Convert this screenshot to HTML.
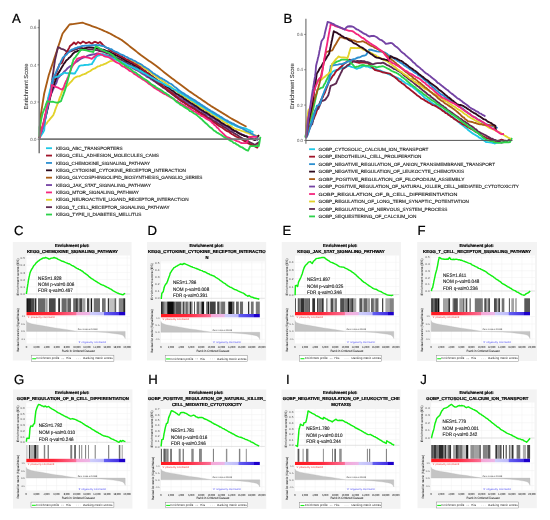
<!DOCTYPE html><html><head><meta charset="utf-8"><style>html,body{margin:0;padding:0;background:#fff;}svg{display:block;will-change:transform;}text{font-family:"Liberation Sans", sans-serif;text-rendering:geometricPrecision;}</style></head><body>
<svg width="550" height="520" viewBox="0 0 550 520">
<rect width="550" height="520" fill="#fff"/>
<defs><filter id="bcblur" x="-0.02" y="0" width="1.04" height="1" filterUnits="objectBoundingBox"><feGaussianBlur stdDeviation="0.35 0"/></filter></defs>
<text transform="translate(12,23.1) scale(0.1)" font-size="132" fill="#000" stroke="#000" stroke-width="2.5">A</text>
<text transform="translate(27.6,86.5) rotate(-90) scale(0.1)" font-size="58" fill="#333" text-anchor="middle" textLength="458" lengthAdjust="spacingAndGlyphs" stroke="#333" stroke-width="0.8">Enrichment Score</text>
<line x1="37.7" y1="139.2" x2="39.2" y2="139.2" stroke="#333" stroke-width="0.8"/>
<text transform="translate(36.3,140.9) scale(0.1)" font-size="46" fill="#555" text-anchor="end" textLength="60" lengthAdjust="spacingAndGlyphs">0.0</text>
<line x1="37.7" y1="102.03" x2="39.2" y2="102.03" stroke="#333" stroke-width="0.8"/>
<text transform="translate(36.3,103.73) scale(0.1)" font-size="46" fill="#555" text-anchor="end" textLength="60" lengthAdjust="spacingAndGlyphs">0.2</text>
<line x1="37.7" y1="64.86" x2="39.2" y2="64.86" stroke="#333" stroke-width="0.8"/>
<text transform="translate(36.3,66.56) scale(0.1)" font-size="46" fill="#555" text-anchor="end" textLength="60" lengthAdjust="spacingAndGlyphs">0.4</text>
<line x1="37.7" y1="27.69" x2="39.2" y2="27.69" stroke="#333" stroke-width="0.8"/>
<text transform="translate(36.3,29.39) scale(0.1)" font-size="46" fill="#555" text-anchor="end" textLength="60" lengthAdjust="spacingAndGlyphs">0.6</text>
<polyline points="39.5,138 39.6,136.37 39.7,134.73 39.8,133.1 39.9,131.47 40,129.83 40.1,128.2 40.2,126.57 40.3,124.93 40.4,123.3 40.5,121.67 40.6,120.03 40.7,118.4 40.8,116.77 40.9,115.13 41,113.5 41.27,111.83 41.53,110.17 41.8,108.5 42.07,106.83 42.33,105.17 42.6,103.5 42.87,101.83 43.13,100.17 43.4,98.5 43.67,96.83 43.93,95.17 44.2,93.5 44.62,91.82 45.04,90.14 45.45,88.45 45.87,86.77 46.29,85.09 46.71,83.41 47.13,81.73 47.55,80.05 47.96,78.36 48.38,76.68 48.8,75 49.31,73.47 49.82,71.93 50.33,70.4 50.84,68.87 51.36,67.33 51.87,65.8 52.38,64.27 52.89,62.73 53.4,61.2 53.91,59.66 54.42,58.12 54.93,56.58 55.44,55.04 55.96,53.51 56.47,51.97 56.98,50.43 57.49,48.89 58,47.35 58.51,45.81 59.02,44.27 59.53,42.73 60.04,41.19 60.56,39.66 61.07,38.12 61.58,36.58 62.09,35.04 62.6,33.5 63.59,32.21 64.57,30.93 65.56,29.64 66.54,28.36 67.53,27.07 68.51,25.79 69.5,24.5 71.14,24.27 72.78,24.05 74.41,23.82 76.05,23.6 77.69,23.38 79.32,23.15 80.96,22.93 82.6,22.7 84.14,23.25 85.67,23.81 87.21,24.36 88.75,24.92 90.28,25.47 91.82,26.03 93.35,26.58 94.89,27.14 96.43,27.69 97.96,28.25 99.5,28.8 101,29.47 102.5,30.14 104,30.81 105.5,31.49 107,32.16 108.5,32.83 110,33.5 111.54,34.36 113.08,35.23 114.61,36.09 116.15,36.95 117.69,37.81 119.22,38.67 120.76,39.54 122.3,40.4 123.62,41.44 124.94,42.49 126.26,43.53 127.59,44.57 128.91,45.61 130.23,46.66 131.55,47.7 132.87,48.74 134.19,49.79 135.51,50.83 136.84,51.87 138.16,52.91 139.48,53.96 140.8,55 142.18,55.98 143.56,56.96 144.95,57.95 146.33,58.93 147.71,59.91 149.09,60.89 150.47,61.87 151.85,62.85 153.24,63.84 154.62,64.82 156,65.8 157.29,66.82 158.58,67.83 159.88,68.85 161.17,69.87 162.46,70.88 163.75,71.9 165.04,72.92 166.33,73.93 167.62,74.95 168.92,75.97 170.21,76.98 171.5,78 172.92,79.05 174.33,80.1 175.75,81.15 177.17,82.2 178.58,83.25 180,84.3 181.33,85.29 182.66,86.27 183.99,87.26 185.31,88.24 186.64,89.23 187.97,90.21 189.3,91.2 190.66,92.12 192.01,93.05 193.37,93.98 194.73,94.9 196.08,95.83 197.44,96.75 198.79,97.67 200.15,98.6 201.51,99.53 202.86,100.45 204.22,101.38 205.57,102.3 206.93,103.22 208.29,104.15 209.64,105.08 211,106 212.43,106.88 213.86,107.76 215.29,108.64 216.71,109.51 218.14,110.39 219.57,111.27 221,112.15 222.43,113.03 223.86,113.91 225.29,114.79 226.71,115.66 228.14,116.54 229.57,117.42 231,118.3 232.41,119.07 233.82,119.85 235.23,120.62 236.64,121.39 238.05,122.16 239.45,122.94 240.86,123.71 242.27,124.48 243.68,125.25 245.09,126.03 246.5,126.8" fill="none" stroke="#a95c16" stroke-width="1.85" stroke-linejoin="round"/>
<polyline points="39.5,138 39.9,135.58 40.3,133.5 41.2,132.25 42.1,130.16 43,128.98 43.9,127.03 44.8,125.59 45.7,124.2 46.8,123.21 47.9,121.39 49,120.35 50.1,118.92 51.2,117.6 52.3,116.31 53.4,115 53.98,113.27 54.55,112.14 55.12,110.12 55.7,108.68 56.27,107.01 56.85,105.63 57.42,104.18 58,102.7 58.58,101.42 59.15,99.55 59.73,97.84 60.3,96.4 60.88,95.33 61.45,93.2 62.02,92.01 62.6,90.4 63.84,89.08 65.08,88.02 66.32,86.58 67.56,85.56 68.8,84.2 69.88,82.96 70.96,81.82 72.04,80.74 73.12,79.29 74.2,78 75.87,77.14 77.53,76.45 79.2,76.39 80.87,75.46 82.53,74.64 84.2,74.2 85.74,73.62 87.28,72.53 88.81,71.76 90.35,70.99 91.89,69.75 93.42,68.93 94.96,68.4 96.5,67.3 98.03,66.41 99.56,66.15 101.09,65.07 102.61,64.79 104.14,64.14 105.67,63.65 107.2,62.7 110,61.2 112,60.89 114,60.14 116,59.6 117.79,59.41 119.57,59.38 121.36,59.62 123.14,59.61 124.93,59.33 126.71,59.86 128.5,59.6 130.04,60.38 131.57,61.28 133.11,61.75 134.65,62.54 136.19,63.16 137.73,64.15 139.26,64.88 140.8,65.8 142.18,66.72 143.56,67.67 144.95,68.93 146.33,69.94 147.71,70.46 149.09,71.57 150.47,72.4 151.85,73.69 153.24,74.86 154.62,75.34 156,76.5 157.41,77.65 158.82,78.34 160.23,79.13 161.64,80.6 163.05,81.31 164.45,82.18 165.86,83.33 167.27,84.18 168.68,85.28 170.09,86.28 171.5,87.3 172.92,88.41 174.33,89.69 175.75,90.66 177.17,91.71 178.58,92.87 180,94.3 181.41,94.93 182.82,96.07 184.23,96.84 185.64,98.01 187.05,98.69 188.45,99.7 189.86,100.75 191.27,101.04 192.68,101.89 194.09,102.84 195.5,103.88 196.91,104.87 198.32,105.86 199.73,106.49 201.14,107.76 202.55,108.02 203.95,109.43 205.36,109.91 206.77,111.21 208.18,111.55 209.59,113.02 211,113.6 212.35,114.63 213.71,115.64 215.06,116.25 216.41,116.85 217.76,118.22 219.12,118.75 220.47,119.39 221.82,120.59 223.18,121.38 224.53,122.23 225.88,122.89 227.24,123.73 228.59,124.89 229.94,125.68 231.29,126.33 232.65,127.4 234,128.3 235.55,128.98 237.1,129.52 238.65,129.9 240.2,130.39 241.75,130.91 243.3,131.36 244.85,131.89 246.4,132.59 247.95,132.91 249.5,133.7 251.05,134.36 252.6,134.87 254.15,135.32 255.7,135.46 257.25,136.2 258.8,136.8" fill="none" stroke="#e2d22a" stroke-width="1.85" stroke-linejoin="round"/>
<polyline points="39.5,138 40.06,136.35 40.62,134.67 41.19,132.89 41.75,131.73 42.31,129.56 42.88,128.25 43.44,126.88 44,125 44.3,123.14 44.6,121.86 44.9,120.31 45.2,118.36 45.5,116.99 45.8,115.61 46.1,113.86 46.4,112.44 46.7,110.49 47,108.96 47.3,107.29 47.6,105.95 47.9,104.63 48.2,102.83 48.5,101.36 48.8,99.6 49.46,97.98 50.11,96.67 50.77,94.72 51.43,93.29 52.09,92 52.74,90.49 53.4,88.8 54.17,87.22 54.95,85.49 55.73,84.08 56.5,82.7 57,80.95 57.5,79.43 58,78 59.2,77.01 60.4,75.43 61.6,74.68 62.8,73.49 64,71.77 65.2,70.79 66.4,69.67 67.6,68.18 68.8,67.3 70.14,66.29 71.47,65.64 72.81,64.16 74.15,63.51 75.49,62.25 76.83,61.58 78.16,60.82 79.5,59.6 81.04,58.75 82.59,57.97 84.13,57.36 85.67,57 87.21,56.01 88.76,55.39 90.3,55 92.37,54.5 94.43,54.27 96.5,53.5 98.19,53.76 99.88,54.06 101.56,54.53 103.25,54.49 104.94,55.11 106.62,55.17 108.31,55.76 110,56 111.43,57.06 112.86,57.24 114.29,58.32 115.71,59.12 117.14,59.59 118.57,60.42 120,61.65 121.43,62.41 122.86,62.61 124.29,63.75 125.71,64.67 127.14,64.97 128.57,65.98 130,66.37 131.43,67.34 132.86,68.3 134.29,69.01 135.71,69.89 137.14,70.21 138.57,71.14 140,72 141.38,73.13 142.76,73.85 144.14,74.66 145.52,75.52 146.9,76.79 148.28,77.43 149.66,77.97 151.03,79.36 152.41,79.96 153.79,80.92 155.17,81.68 156.55,82.72 157.93,83.54 159.31,84.29 160.69,85.53 162.07,86.09 163.45,87.42 164.83,87.83 166.21,89.21 167.59,90.13 168.97,90.83 170.34,91.86 171.72,92.46 173.1,93.67 174.48,94.37 175.86,95.14 177.24,96.5 178.62,97.04 180,98 181.41,98.78 182.82,99.96 184.23,100.51 185.64,101.56 187.05,102.11 188.45,103.4 189.86,103.89 191.27,104.62 192.68,106.08 194.09,106.43 195.5,107.79 196.91,108.67 198.32,109.3 199.73,109.78 201.14,110.67 202.55,111.63 203.95,112.61 205.36,113.62 206.77,114.71 208.18,115.18 209.59,115.91 211,117 212.36,117.9 213.71,118.48 215.07,119.31 216.43,120.46 217.79,121.41 219.14,121.86 220.5,122.97 221.86,123.99 223.21,124.88 224.57,125.5 225.93,126.68 227.29,127.07 228.64,128.28 230,129 231.54,129.87 233.08,130.63 234.62,131.07 236.15,131.51 237.69,132.17 239.23,133.17 240.77,133.64 242.31,134.62 243.85,134.96 245.38,136.1 246.92,136.44 248.46,137 250,138 251.6,138.19 253.2,138.77 254.8,139.24 256.4,139.53 258,140" fill="none" stroke="#7443a4" stroke-width="1.85" stroke-linejoin="round"/>
<polyline points="39.5,138 39.95,136.45 40.4,134.75 40.85,133.25 41.3,131.41 41.75,130.2 42.2,128.61 42.65,126.9 43.1,124.98 43.55,123.61 44,122 44.35,120.3 44.71,118.66 45.06,117.53 45.41,115.96 45.76,113.77 46.12,112.7 46.47,110.95 46.82,109.22 47.18,107.57 47.53,106.23 47.88,104.5 48.24,103.06 48.59,101.46 48.94,99.53 49.29,98.35 49.65,96.9 50,95 50.23,93.71 50.45,91.89 50.68,89.94 50.91,88.32 51.14,86.81 51.36,85.74 51.59,83.74 51.82,82.19 52.05,80.94 52.27,78.97 52.5,77.53 52.73,75.87 52.95,74.04 53.18,72.78 53.41,71.36 53.64,69.33 53.86,67.78 54.09,66.31 54.32,64.48 54.55,63.18 54.77,61.79 55,60 55.38,58.51 55.75,56.85 56.12,55.46 56.5,53.43 56.88,52.11 57.25,50.39 57.62,48.95 58,47.3 59.54,47.72 61.09,48.82 62.63,49.06 64.17,49.77 65.71,50.85 67.26,51.62 68.8,52 70.4,51.39 72,50.8 73.6,50.12 75.2,49.57 76.8,49.22 78.4,48.37 80,48 81.6,47.96 83.2,48.37 84.8,48.39 86.4,48.9 88,49.21 89.6,49.38 91.2,49.39 92.8,49.5 94.4,49.76 96,50 97.56,50.13 99.11,51.02 100.67,51.23 102.22,51.66 103.78,51.95 105.33,52.63 106.89,53.16 108.44,53.49 110,54 111.43,55 112.86,55.63 114.29,56.12 115.71,57.06 117.14,58.07 118.57,58.58 120,59.4 121.43,59.82 122.86,60.85 124.29,61.59 125.71,62.32 127.14,63.09 128.57,63.96 130,64.69 131.43,65.42 132.86,65.98 134.29,66.91 135.71,68.01 137.14,68.42 138.57,68.94 140,70 141.29,70.65 142.58,71.96 143.87,72.62 145.16,73.61 146.45,74.59 147.74,75.78 149.03,77.09 150.32,77.73 151.61,78.68 152.9,79.64 154.19,80.65 155.48,81.58 156.77,82.73 158.06,83.8 159.35,84.64 160.65,85.43 161.94,86.55 163.23,87.68 164.52,88.17 165.81,89.19 167.1,90.4 168.39,91.41 169.68,92.35 170.97,93.28 172.26,94.4 173.55,95.15 174.84,96.33 176.13,97.39 177.42,98.02 178.71,99.26 180,100 181.41,101 182.82,101.98 184.23,102.3 185.64,103.72 187.05,104.49 188.45,105.48 189.86,106.35 191.27,106.77 192.68,107.88 194.09,108.41 195.5,109.56 196.91,110.63 198.32,111.03 199.73,111.99 201.14,112.69 202.55,113.62 203.95,114.49 205.36,115.29 206.77,116.73 208.18,117.52 209.59,118.11 211,119 212.38,120.01 213.76,120.84 215.14,121.59 216.52,122.38 217.9,123.39 219.29,124.18 220.67,124.85 222.05,125.77 223.43,126.8 224.81,127.65 226.19,128.24 227.57,129.36 228.95,130.38 230.33,131.24 231.71,131.95 233.1,132.44 234.48,133.52 235.86,134.17 237.24,135 238.62,135.99 240,137 241.5,137.77 243,138.77 244.5,139.48 246,140.06 247.5,141.12 249,141.8 250.5,142.6 252,143.25 253.5,144.16 255,145 256.33,143.9 257.67,143.14 259,142" fill="none" stroke="#5e2a52" stroke-width="1.85" stroke-linejoin="round"/>
<polyline points="39.5,138 40,136.33 40.5,134.77 41,133.36 41.5,131.43 42,129.82 42.5,128.24 43,126.34 43.5,124.92 44,123.36 44.5,121.82 45,120 45.37,118.16 45.74,116.72 46.11,115 46.47,113.88 46.84,112.23 47.21,110.23 47.58,109.26 47.95,107.67 48.32,105.89 48.68,104.28 49.05,102.41 49.42,100.74 49.79,99.49 50.16,97.61 50.53,96.12 50.89,94.57 51.26,92.86 51.63,91.56 52,90 52.6,88.31 53.2,86.92 53.8,85.06 54.4,83.49 55,81.75 55.6,80.2 56.2,78.42 56.8,76.66 57.4,75.47 58,73.5 58.86,72.45 59.71,70.98 60.57,69.53 61.42,67.92 62.28,66.49 63.13,65.16 63.99,63.66 64.84,62.74 65.7,61.2 66.85,59.99 68,59.12 69.15,57.68 70.3,56.89 71.45,55.67 72.6,53.98 73.75,52.96 74.9,52 76.44,51.68 77.98,50.81 79.51,50.54 81.05,49.58 82.59,48.79 84.12,48.56 85.66,48.07 87.2,47.3 89.06,47.29 90.92,47.32 92.78,47.61 94.64,48.16 96.5,48 98.19,48.67 99.88,48.76 101.56,49.34 103.25,49.74 104.94,50.22 106.62,51.19 108.31,51.29 110,52 111.43,52.8 112.86,53.49 114.29,54.09 115.71,55.2 117.14,55.57 118.57,56.66 120,57.09 121.43,58.04 122.86,58.67 124.29,59.47 125.71,60.68 127.14,61.34 128.57,61.78 130,62.91 131.43,63.24 132.86,64.12 134.29,65.18 135.71,65.81 137.14,66.22 138.57,67.55 140,68 141.33,68.75 142.67,69.71 144,70.97 145.33,71.62 146.67,72.54 148,73.33 149.33,74.27 150.67,75.52 152,76.24 153.33,77.4 154.67,78.18 156,79.17 157.33,80.43 158.67,81.06 160,82.05 161.33,83.17 162.67,83.66 164,84.58 165.33,85.99 166.67,86.87 168,87.44 169.33,88.33 170.67,89.62 172,90.68 173.33,91.14 174.67,92.55 176,93.44 177.33,94.2 178.67,95.02 180,96 181.35,96.62 182.7,97.44 184.04,98.9 185.39,99.31 186.74,100.48 188.09,101.06 189.43,102.29 190.78,103.02 192.13,103.69 193.48,104.49 194.83,105.71 196.17,106.16 197.52,107.13 198.87,108.21 200.22,109.27 201.57,109.99 202.91,110.64 204.26,111.92 205.61,112.33 206.96,113.08 208.3,114.11 209.65,115.1 211,116 212.38,116.58 213.76,117.51 215.14,118.49 216.52,119.47 217.9,120.05 219.29,121.05 220.67,122.25 222.05,123.16 223.43,123.81 224.81,124.69 226.19,125.48 227.57,126.06 228.95,126.85 230.33,127.69 231.71,129.12 233.1,129.84 234.48,130.87 235.86,131.12 237.24,132.37 238.62,133.13 240,134 241.5,134.75 243,135.08 244.5,136.12 246,136.13 247.5,137.03 249,137.75 250.5,138.46 252,138.95 253.5,139.53 255,140 256,138.94 257,137.77 258,136.16 259,135" fill="none" stroke="#2e0a1e" stroke-width="1.85" stroke-linejoin="round"/>
<polyline points="39.5,138 39.96,136.32 40.42,134.77 40.88,133.11 41.33,131.1 41.79,129.35 42.25,127.92 42.71,126.19 43.17,124.87 43.62,123.12 44.08,121.4 44.54,119.7 45,118 45.33,116.53 45.67,114.63 46,113.25 46.33,111.5 46.67,110.4 47,108.29 47.33,107.2 47.67,105.16 48,103.98 48.33,102.18 48.67,100.65 49,99.36 49.33,97.26 49.67,95.72 50,94.69 50.33,92.86 50.67,91.02 51,90.03 51.33,88.43 51.67,86.32 52,85 52.58,83.35 53.15,81.57 53.73,80.08 54.31,78.68 54.88,76.78 55.46,75.53 56.04,73.51 56.62,71.99 57.19,70.8 57.77,68.94 58.35,67.35 58.92,65.86 59.5,64.2 62,63 62.6,61.39 63.2,59.73 63.8,57.9 64.4,56.74 65,55 66,53.63 67,51.97 68,50 69,48.1 70,46 72,44.5 74,42.5 76,44.2 78,42 80.5,43.5 81.75,42.41 83,41.5 84.5,42.26 86,43.2 87.5,42.72 89,42 90.5,42.91 92,43.6 93.5,42.45 95,41.8 96.5,42.33 98,43.2 100,42 101.33,43.25 102.67,44.67 104,46 105.5,47.2 107,48 108.5,48.7 110,50 111.43,51.02 112.86,51.57 114.29,52.44 115.71,53.06 117.14,54 118.57,54.79 120,55.84 121.43,56.22 122.86,57.32 124.29,57.89 125.71,59.03 127.14,59.42 128.57,60.38 130,61.23 131.43,62.23 132.86,62.67 134.29,63.74 135.71,64.39 137.14,65.24 138.57,66.18 140,67 141.25,68.32 142.5,69.03 143.75,70.36 145,70.87 146.25,72.38 147.5,73.04 148.75,73.95 150,75.33 151.25,76.46 152.5,76.9 153.75,78.09 155,79.44 156.25,80.18 157.5,81.14 158.75,82.01 160,83.06 161.25,84.45 162.5,85.7 163.75,86.73 165,87.44 166.25,88.15 167.5,89.37 168.75,90.69 170,91.74 171.25,92.64 172.5,93.4 173.75,94.61 175,95.6 176.25,96.72 177.5,97.5 178.75,98.96 180,99.7 181.36,100.86 182.73,101.3 184.09,102.29 185.46,103.57 186.82,104.1 188.19,105.44 189.55,106.07 190.92,107.1 192.28,108.01 193.65,108.61 195.01,109.56 196.38,110.45 197.74,111.63 199.11,112.55 200.47,113.1 201.84,114.49 203.2,115.1 204.56,115.89 205.93,116.93 207.29,118.18 208.66,118.82 210.02,119.77 211.39,120.87 212.75,121.81 214.12,122.59 215.48,123.28 216.85,124.29 218.21,125.4 219.58,126.24 220.94,127.02 222.31,127.78 223.67,128.7 225.04,129.84 226.4,130.6 227.83,131.48 229.26,131.97 230.69,133.25 232.12,134.21 233.55,134.98 234.98,135.89 236.42,136.73 237.85,137.33 239.28,138.33 240.71,138.91 242.14,139.57 243.57,140.57 245,141.5 246.54,142.14 248.07,143.3 249.61,143.91 251.15,144.58 252.69,145.39 254.23,145.83 255.76,146.86 257.3,147.6 257.8,146.2 258.3,144.47 258.8,143" fill="none" stroke="#a0142a" stroke-width="1.85" stroke-linejoin="round"/>
<polyline points="39.5,138 40.44,136.33 41.38,135.08 42.32,133.56 43.26,132.14 44.2,130.4 44.36,128.32 44.52,126.47 44.68,124.53 44.84,122.7 45,121 45.21,119.51 45.43,117.48 45.64,116.09 45.86,114.25 46.07,112.65 46.29,111.1 46.5,109.72 46.71,107.93 46.93,105.9 47.14,104.43 47.36,102.7 47.57,101.52 47.79,99.84 48,98 48.45,96.53 48.9,94.88 49.35,93.16 49.8,91.62 50.25,89.85 50.7,87.84 51.15,86.56 51.6,84.66 52.05,83.16 52.5,81.37 52.95,79.62 53.4,78 54.93,77.41 56.47,76.96 58,76.5 59.55,75.43 61.1,74.36 62.65,73.85 64.2,72.7 65.98,73.02 67.77,73.28 69.55,73.22 71.33,73.27 73.12,73.53 74.9,73.5 75.82,71.73 76.74,70.53 77.66,68.84 78.58,67.13 79.5,65.8 81.26,65.38 83.01,65.36 84.77,64.96 86.53,64.86 88.29,64.72 90.04,64.36 91.8,64.2 92.74,62.42 93.68,61.11 94.62,59.41 95.56,57.87 96.5,56.5 98.03,55.73 99.55,55.26 101.07,54.5 102.6,54.2 104.45,55 106.3,55.89 108.15,56.23 110,57 111.5,57.79 113,58.58 114.5,58.66 116,59.37 117.5,60.45 119,61.12 120.5,61.64 122,61.98 123.5,62.79 125,63.5 126.58,64.49 128.16,65.25 129.74,65.94 131.32,66.31 132.9,67.48 134.48,67.92 136.06,68.89 137.64,69.27 139.22,70.55 140.8,71 142.18,71.88 143.56,72.78 144.95,73.27 146.33,74.35 147.71,75.14 149.09,75.97 150.47,76.64 151.85,77.69 153.24,78.26 154.62,79.05 156,80 157.55,80.59 159.1,81.72 160.65,82.15 162.2,83.02 163.75,83.72 165.3,84.89 166.85,85.64 168.4,86.43 169.95,86.9 171.5,88 172.92,88.76 174.33,89.5 175.75,90.14 177.17,90.88 178.58,92.32 180,92.8 181.41,93.43 182.82,94.42 184.23,95.27 185.64,96.35 187.05,96.89 188.45,98.02 189.86,98.82 191.27,100 192.68,100.34 194.09,101.42 195.5,102.4 196.91,103.57 198.32,104.16 199.73,105 201.14,106 202.55,106.63 203.95,107.34 205.36,108.51 206.77,109.64 208.18,110.41 209.59,110.97 211,112 212.4,112.97 213.8,113.93 215.2,114.41 216.6,115.47 218,116.18 219.4,116.96 220.8,117.85 222.2,118.65 223.6,119.6 225,120.25 226.4,121.4 227.93,122.1 229.47,122.67 231,123.87 232.53,124.53 234.07,124.92 235.6,126 237.17,126.56 238.73,126.57 240.3,127.14 241.87,127.57 243.43,127.81 245,128.3 246.68,128.95 248.36,129.82 250.04,130.41 251.72,131.65 253.4,132.2" fill="none" stroke="#1ec8e6" stroke-width="1.85" stroke-linejoin="round"/>
<polyline points="39.5,137 40.06,135.25 40.62,134.13 41.19,132.6 41.75,131.28 42.31,129.35 42.88,127.84 43.44,126.65 44,125 44.33,123.43 44.67,121.54 45,120.12 45.33,118.27 45.67,116.84 46,114.76 46.33,113.16 46.67,111.92 47,109.91 47.33,108.18 47.67,106.86 48,105 48.32,103.5 48.64,101.6 48.95,100.27 49.27,98.75 49.59,96.84 49.91,95.57 50.22,93.64 50.54,92.19 50.86,90.44 51.18,88.93 51.49,87.84 51.81,85.88 52.13,84.67 52.45,82.73 52.76,81.25 53.08,79.83 53.4,78 54.11,76.58 54.82,74.67 55.52,73.44 56.23,71.93 56.94,70.1 57.65,68.51 58.35,67.47 59.06,65.7 59.77,63.96 60.48,62.59 61.18,60.9 61.89,59.73 62.6,58 63.91,56.8 65.23,55.35 66.54,54.6 67.86,52.94 69.17,51.86 70.49,50.5 71.8,49.6 73.34,49.21 74.89,48.27 76.43,47.99 77.97,47.17 79.51,46.87 81.06,46.46 82.6,45.8 84.29,45.74 85.98,45.61 87.67,45.55 89.36,45.44 91.05,45.46 92.74,45.06 94.43,45.22 96.12,44.99 97.81,45.31 99.5,45 101.25,45.91 103,45.99 104.75,46.67 106.5,47.66 108.25,48.21 110,48.8 111.54,49.26 113.08,50.47 114.62,51.39 116.16,51.83 117.7,52.55 119.24,53.46 120.78,54.47 122.32,54.81 123.86,55.6 125.4,56.5 126.94,57.07 128.48,58.12 130.02,58.79 131.56,59.42 133.1,60.28 134.64,60.82 136.18,61.77 137.72,62.97 139.26,63.49 140.8,64.2 142.18,65.04 143.56,66.44 144.95,67.05 146.33,67.97 147.71,68.81 149.09,69.86 150.47,70.88 151.85,71.88 153.24,73.28 154.62,73.87 156,75 157.41,75.68 158.82,76.74 160.23,77.78 161.64,78.21 163.05,79.35 164.45,79.93 165.86,80.89 167.27,81.75 168.68,82.81 170.09,83.53 171.5,84.2 172.92,85.34 174.33,86.69 175.75,87.51 177.17,88.66 178.58,90.16 180,91 181.35,91.9 182.7,92.91 184.04,93.49 185.39,94.74 186.74,95.42 188.09,96.06 189.43,97.36 190.78,97.94 192.13,98.72 193.48,99.54 194.83,100.31 196.17,101.24 197.52,102.43 198.87,102.94 200.22,103.89 201.57,104.88 202.91,105.81 204.26,106.58 205.61,107.7 206.96,108.24 208.3,109.18 209.65,110.08 211,111 212.5,111.66 214,112.62 215.5,113.47 217,114.74 218.5,115.27 220,116.51 221.5,117.12 223,118.29 224.5,119.2 226,120 227.46,120.68 228.92,121.82 230.38,122.41 231.85,123.11 233.31,123.56 234.77,124.56 236.23,125.23 237.69,126.13 239.15,127.2 240.62,127.93 242.08,128.18 243.54,129.35 245,130 246.57,131.14 248.14,131.74 249.71,132.31 251.29,133.66 252.86,134.24 254.43,135.45 256,136 257,138.24 258,140" fill="none" stroke="#2c8fd0" stroke-width="1.85" stroke-linejoin="round"/>
<polyline points="39.5,138 39.93,136.63 40.35,134.34 40.78,133.13 41.21,131.09 41.64,129.95 42.06,127.65 42.49,126.53 42.92,124.73 43.35,123.17 43.77,121.59 44.2,119.6 44.58,117.71 44.95,116.05 45.33,114.56 45.7,112.56 46.08,110.82 46.45,109.08 46.83,107.75 47.2,105.8 47.68,104.5 48.15,102.92 48.62,101.01 49.1,99.92 49.58,98.12 50.05,96.4 50.52,95.01 51,93.5 51.16,91.75 51.32,89.83 51.48,88.44 51.64,86.61 51.8,85 53.34,85.7 54.89,86.59 56.43,87.06 57.97,87.57 59.51,88.52 61.06,89.26 62.6,89.6 63.29,87.97 63.98,86.64 64.67,84.43 65.36,82.88 66.04,81.28 66.73,80.15 67.42,78.37 68.11,76.76 68.8,75 69.4,73.32 70,71.92 70.6,70.63 71.2,68.58 71.8,67.3 72.7,65.64 73.6,64.18 74.5,63.03 75.4,61.85 76.3,60.25 77.2,58.8 78.95,58.16 80.7,57.65 82.45,56.87 84.2,56.5 86.1,57.36 88,57.56 89.9,58.06 91.8,58.8 93.04,57.62 94.28,56.89 95.52,55.5 96.76,54.82 98,53.5 99.5,53.96 101,54.59 102.5,54.91 104,56.01 105.5,56.5 107,56.86 108.5,57.19 110,58 111.42,58.9 112.83,59.72 114.25,60.92 115.67,61.87 117.08,62.65 118.5,63.26 119.92,64.01 121.33,65.45 122.75,66.38 124.17,66.78 125.58,67.9 127,68.8 128.38,69.71 129.76,70.94 131.14,71.27 132.52,72.2 133.9,73.62 135.28,74.36 136.66,75.22 138.04,76.34 139.42,77.14 140.8,78 142.18,79.1 143.56,79.81 144.95,80.68 146.33,81.61 147.71,82.8 149.09,83.99 150.47,84.8 151.85,85.76 153.24,86.91 154.62,87.95 156,88.8 157.41,89.68 158.82,90.33 160.24,91.48 161.65,92.29 163.06,93.17 164.47,93.99 165.88,94.25 167.29,95.5 168.71,96.11 170.12,96.96 171.53,97.87 172.94,98.45 174.35,99.35 175.76,100.64 177.18,101.04 178.59,102.24 180,102.8 181.41,103.76 182.82,104.37 184.23,105.22 185.64,106.25 187.05,107.16 188.45,107.77 189.86,108.44 191.27,109.35 192.68,110.64 194.09,111.4 195.5,111.85 196.91,113.16 198.32,113.84 199.73,114.53 201.14,115.73 202.55,116.09 203.95,116.92 205.36,117.92 206.77,119.02 208.18,119.74 209.59,120.54 211,121.4 212.18,122.84 213.37,123.7 214.55,125.14 215.74,125.82 216.92,127.5 218.11,128.29 219.29,129.79 220.48,131.09 221.66,132.16 222.85,133.3 224.03,134.46 225.22,135.78 226.4,136.8 227.94,137.34 229.48,137.87 231.02,138.7 232.56,139.29 234.1,139.65 235.64,140.54 237.18,141.12 238.72,141.54 240.26,142.51 241.8,143 244.15,143.18 246.5,143 247.25,141.35 248,140.13 248.75,138.66 249.5,136.8 251.45,136.9 253.4,136.74 255.35,136.65 257.3,136.8" fill="none" stroke="#f5267e" stroke-width="1.85" stroke-linejoin="round"/>
<polyline points="39.5,136.5 39.5,134.57 39.5,132.81 39.5,130.93 39.5,129.11 39.5,127.3 39.89,125.52 40.27,123.95 40.66,121.97 41.05,120.49 41.44,118.36 41.83,116.82 42.21,115.12 42.6,113.5 43.18,111.73 43.75,110.58 44.33,108.77 44.9,107.54 45.48,106.1 46.05,104.12 46.62,102.99 47.2,101.2 49,101.65 50.8,101.81 52.6,101.65 54.4,102.17 56.2,102.53 58,102.7 59.5,101.82 61,101.2 61.56,99.48 62.11,97.99 62.67,96.42 63.23,95.21 63.79,93.39 64.34,91.89 64.9,90.4 65.33,88.95 65.77,87.6 66.2,85.63 66.63,83.93 67.07,82.98 67.5,81.35 67.93,79.77 68.37,78.06 68.8,76.5 69.26,74.64 69.72,72.9 70.18,71.3 70.64,69.71 71.1,67.77 71.56,66.49 72.02,64.82 72.48,62.67 72.94,61.51 73.4,59.6 74.49,58.17 75.57,57.01 76.66,55.3 77.74,54.07 78.83,52.43 79.91,51.1 81,49.6 82.77,49.94 84.54,49.98 86.31,50.4 88.09,50.8 89.86,51.25 91.63,51.57 93.4,52 94.17,50.19 94.93,48.44 95.7,46.5 97.29,47.21 98.88,47.94 100.47,48.84 102.06,49.9 103.64,50.57 105.23,51.27 106.82,52.15 108.41,52.55 110,53.5 111.28,54.27 112.57,55.29 113.85,56.33 115.13,57.29 116.42,58.71 117.7,59.92 118.98,60.43 120.27,61.82 121.55,63.01 122.83,63.92 124.12,64.55 125.4,65.8 126.8,66.86 128.2,67.59 129.6,68.51 131,69.38 132.4,70.68 133.8,71.9 135.2,72.36 136.6,73.36 138,74.48 139.4,75.23 140.8,76.5 142.18,77.46 143.56,78.61 144.95,79.42 146.33,80.13 147.71,81.11 149.09,82.2 150.47,83.48 151.85,84.63 153.24,85.34 154.62,86.06 156,87.3 157.39,87.97 158.78,88.96 160.17,89.62 161.56,90.48 162.94,91.54 164.33,92.65 165.72,93.12 167.11,94.39 168.5,95 169.78,96.29 171.06,97.05 172.33,97.96 173.61,98.98 174.89,100.33 176.17,101.48 177.44,102.54 178.72,103.17 180,104.4 181.42,105.25 182.83,105.89 184.25,106.97 185.67,107.87 187.08,108.66 188.5,109.53 189.92,111.02 191.33,111.48 192.75,112.5 194.17,113.42 195.58,114.28 197,115.2 198.21,116.36 199.43,117.4 200.64,118.49 201.86,119.33 203.07,120.78 204.29,121.91 205.5,123.04 206.71,123.88 207.93,125.08 209.14,126.4 210.36,127.45 211.57,128.11 212.79,129.39 214,130.6 215.38,131.26 216.76,132.47 218.13,133.14 219.51,134 220.89,134.76 222.27,135.77 223.64,136.81 225.02,137.62 226.4,138.4 227.83,139.05 229.26,139.99 230.69,140.97 232.12,141.44 233.55,142.81 234.98,143.08 236.42,144.3 237.85,144.82 239.28,146.17 240.71,146.83 242.14,147.36 243.57,148.37 245,149.2 246.5,150.17 248,150.7 248.77,149.36 249.53,147.67 250.3,146 252,146.09 253.7,146.16 255.4,146.27 257.1,146.01 258.8,146 259.12,144.23 259.44,142.51 259.76,140.49 260.08,138.46 260.4,136.8" fill="none" stroke="#2cd24a" stroke-width="1.85" stroke-linejoin="round"/>
<line x1="39.2" y1="19.6" x2="39.2" y2="153.3" stroke="#777" stroke-width="1.5"/>
<line x1="39.2" y1="139.2" x2="260" y2="139.2" stroke="#777" stroke-width="1.8"/>
<line x1="46" y1="148.2" x2="52" y2="148.2" stroke="#1ec8e6" stroke-width="1.8"/>
<text transform="translate(56,149.9) scale(0.1)" font-size="47" fill="#111" textLength="667" lengthAdjust="spacingAndGlyphs" stroke="#111" stroke-width="1">KEGG_ABC_TRANSPORTERS</text>
<line x1="46" y1="155.57" x2="52" y2="155.57" stroke="#a0142a" stroke-width="1.8"/>
<text transform="translate(56,157.27) scale(0.1)" font-size="47" fill="#111" textLength="1030" lengthAdjust="spacingAndGlyphs" stroke="#111" stroke-width="1">KEGG_CELL_ADHESION_MOLECULES_CAMS</text>
<line x1="46" y1="162.94" x2="52" y2="162.94" stroke="#2c8fd0" stroke-width="1.8"/>
<text transform="translate(56,164.64) scale(0.1)" font-size="47" fill="#111" textLength="940" lengthAdjust="spacingAndGlyphs" stroke="#111" stroke-width="1">KEGG_CHEMOKINE_SIGNALING_PATHWAY</text>
<line x1="46" y1="170.31" x2="52" y2="170.31" stroke="#2e0a1e" stroke-width="1.8"/>
<text transform="translate(56,172.01) scale(0.1)" font-size="47" fill="#111" textLength="1300" lengthAdjust="spacingAndGlyphs" stroke="#111" stroke-width="1">KEGG_CYTOKINE_CYTOKINE_RECEPTOR_INTERACTION</text>
<line x1="46" y1="177.68" x2="52" y2="177.68" stroke="#a95c16" stroke-width="1.8"/>
<text transform="translate(56,179.38) scale(0.1)" font-size="47" fill="#111" textLength="1465" lengthAdjust="spacingAndGlyphs" stroke="#111" stroke-width="1">KEGG_GLYCOSPHINGOLIPID_BIOSYNTHESIS_GANGLIO_SERIES</text>
<line x1="46" y1="185.05" x2="52" y2="185.05" stroke="#7443a4" stroke-width="1.8"/>
<text transform="translate(56,186.75) scale(0.1)" font-size="47" fill="#111" textLength="950" lengthAdjust="spacingAndGlyphs" stroke="#111" stroke-width="1">KEGG_JAK_STAT_SIGNALING_PATHWAY</text>
<line x1="46" y1="192.42" x2="52" y2="192.42" stroke="#f5267e" stroke-width="1.8"/>
<text transform="translate(56,194.12) scale(0.1)" font-size="47" fill="#111" textLength="830" lengthAdjust="spacingAndGlyphs" stroke="#111" stroke-width="1">KEGG_MTOR_SIGNALING_PATHWAY</text>
<line x1="46" y1="199.79" x2="52" y2="199.79" stroke="#e2d22a" stroke-width="1.8"/>
<text transform="translate(56,201.49) scale(0.1)" font-size="47" fill="#111" textLength="1325" lengthAdjust="spacingAndGlyphs" stroke="#111" stroke-width="1">KEGG_NEUROACTIVE_LIGAND_RECEPTOR_INTERACTION</text>
<line x1="46" y1="207.16" x2="52" y2="207.16" stroke="#5e2a52" stroke-width="1.8"/>
<text transform="translate(56,208.86) scale(0.1)" font-size="47" fill="#111" textLength="1135" lengthAdjust="spacingAndGlyphs" stroke="#111" stroke-width="1">KEGG_T_CELL_RECEPTOR_SIGNALING_PATHWAY</text>
<line x1="46" y1="214.53" x2="52" y2="214.53" stroke="#2cd24a" stroke-width="1.8"/>
<text transform="translate(56,216.23) scale(0.1)" font-size="47" fill="#111" textLength="855" lengthAdjust="spacingAndGlyphs" stroke="#111" stroke-width="1">KEGG_TYPE_II_DIABETES_MELLITUS</text>
<text transform="translate(283.5,23.4) scale(0.1)" font-size="132" fill="#000" stroke="#000" stroke-width="2.5">B</text>
<text transform="translate(294.4,86.2) rotate(-90) scale(0.1)" font-size="58" fill="#333" text-anchor="middle" textLength="458" lengthAdjust="spacingAndGlyphs" stroke="#333" stroke-width="0.8">Enrichment Score</text>
<line x1="304.4" y1="140.4" x2="305.9" y2="140.4" stroke="#333" stroke-width="0.8"/>
<text transform="translate(303,142.1) scale(0.1)" font-size="46" fill="#555" text-anchor="end" textLength="60" lengthAdjust="spacingAndGlyphs">0.0</text>
<line x1="304.4" y1="105.07" x2="305.9" y2="105.07" stroke="#333" stroke-width="0.8"/>
<text transform="translate(303,106.77) scale(0.1)" font-size="46" fill="#555" text-anchor="end" textLength="60" lengthAdjust="spacingAndGlyphs">0.2</text>
<line x1="304.4" y1="69.74" x2="305.9" y2="69.74" stroke="#333" stroke-width="0.8"/>
<text transform="translate(303,71.44) scale(0.1)" font-size="46" fill="#555" text-anchor="end" textLength="60" lengthAdjust="spacingAndGlyphs">0.4</text>
<line x1="304.4" y1="34.41" x2="305.9" y2="34.41" stroke="#333" stroke-width="0.8"/>
<text transform="translate(303,36.11) scale(0.1)" font-size="46" fill="#555" text-anchor="end" textLength="60" lengthAdjust="spacingAndGlyphs">0.6</text>
<polyline points="306,138 306.46,136.14 306.91,134.29 307.37,132.87 307.83,130.75 308.29,129.31 308.74,127.46 309.2,125.8 309.77,123.98 310.35,122.73 310.93,120.89 311.5,119.61 312.07,117.84 312.65,116.31 313.23,114.99 313.8,113.5 314.72,112.17 315.64,110.18 316.56,108.7 317.48,107.42 318.4,105.8 319.16,104.39 319.92,102.45 320.68,100.63 321.44,99.3 322.2,97.3 322.88,95.35 323.55,94.2 324.23,92.18 324.9,90.42 325.57,88.74 326.25,87.2 326.93,85.86 327.6,84 328.08,82.2 328.56,80.85 329.04,79.29 329.52,77.52 330,76 331.1,74.03 332.2,72 332.2,72 333.74,71.08 335.28,70.44 336.82,69.89 338.36,69.56 339.9,68.8 341.45,68.25 343,67.68 344.55,67.35 346.1,66.77 347.65,66.17 349.2,65.8 350.72,66.59 352.24,67.13 353.76,67.44 355.28,68.25 356.8,68.8 358.34,68.22 359.88,67.84 361.42,67.15 362.96,66.26 364.5,65.8 366.04,66.57 367.58,66.48 369.12,67.13 370.66,67.8 372.2,67.88 373.74,68.55 375.28,68.73 376.82,69.59 378.36,70.11 379.9,70.4 381,70.8 382.55,71.5 384.09,72.35 385.64,72.64 387.18,73.54 388.73,74.13 390.27,74.78 391.82,75.35 393.36,76.25 394.91,76.98 396.45,77.33 398,78 399.41,78.99 400.82,79.48 402.23,80.77 403.64,81.62 405.05,82.72 406.45,83.5 407.86,84.03 409.27,84.98 410.68,86.04 412.09,86.51 413.5,87.7 414.73,88.76 415.96,89.65 417.19,90.69 418.42,91.74 419.65,93.27 420.88,93.94 422.11,95.1 423.34,96.27 424.57,97.66 425.8,98.5 427.22,99.18 428.64,100.37 430.06,101.38 431.48,102.55 432.9,103.45 434.32,104.43 435.74,105.01 437.16,106.05 438.58,106.96 440,108 441.36,109.25 442.73,110.29 444.09,110.78 445.45,111.79 446.82,112.83 448.18,113.83 449.55,114.99 450.91,116.06 452.27,116.85 453.64,117.68 455,119 456.32,120.03 457.63,121.08 458.95,122.29 460.27,123.62 461.58,124.54 462.9,125.51 464.22,126.66 465.53,127.78 466.85,128.46 468.17,130.09 469.48,131.1 470.8,132 472.18,133.15 473.56,134.01 474.95,134.66 476.33,135.57 477.71,136.29 479.09,137.54 480.47,138.08 481.85,139 483.24,140 484.62,140.87 486,142 487.8,142.2 489.6,142.31 491.4,142.58 493.2,142.98 495,143.5 496.67,142.74 498.33,142.41 500,142" fill="none" stroke="#1ec8e6" stroke-width="1.85" stroke-linejoin="round"/>
<polyline points="306,138 306.59,136.3 307.18,135.25 307.76,133.19 308.35,132.03 308.94,130.11 309.52,128.69 310.11,127.64 310.7,125.8 311.36,124.07 312.01,122.81 312.67,121.15 313.33,119.6 313.99,118.08 314.64,116.35 315.3,115 315.88,113.67 316.45,111.66 317.02,110.22 317.6,108.54 318.18,107.16 318.75,105.72 319.32,104.49 319.9,102.7 320.67,101.09 321.43,99.39 322.2,97.95 322.97,96.88 323.73,94.75 324.5,93.5 325.09,92.04 325.68,90.35 326.26,88.99 326.85,87.25 327.44,85.93 328.02,84.27 328.61,82.83 329.2,81.2 330.15,80.11 331.1,78.55 332.05,76.92 333,75.52 333.95,74.74 334.9,73.09 335.85,71.55 336.8,70.4 338.04,69.61 339.28,68.29 340.52,67.31 341.76,66.32 343,64.86 344.24,63.83 345.48,63.08 346.72,61.53 347.96,60.85 349.2,59.6 350.73,59.86 352.27,60.76 353.8,61.28 355.33,61.95 356.87,62.4 358.4,62.7 360.24,62.7 362.08,62.51 363.92,62.48 365.76,62.72 367.6,62.7 368.83,63.92 370.07,64.86 371.3,66.61 372.53,67.57 373.77,68.91 375,70 376.54,70.28 378.08,70.76 379.62,71.07 381.16,71.74 382.7,72.3 384.62,72.53 386.55,73 388.47,73.35 390.4,73.8 391.68,75.05 392.97,76.12 394.25,76.69 395.53,77.87 396.82,78.75 398.1,80.1 399.38,81.34 400.67,81.88 401.95,83.27 403.23,84.01 404.52,84.86 405.8,86.2 407.08,87.39 408.37,88.15 409.65,89.06 410.93,90.26 412.22,91.15 413.5,92.29 414.78,93.34 416.07,94.35 417.35,95.48 418.63,96.31 419.92,97.22 421.2,98.5 422.65,99.03 424.09,99.83 425.54,100.89 426.98,101.58 428.43,102.66 429.88,103.26 431.32,104.18 432.77,105.15 434.22,105.35 435.66,106.11 437.11,106.99 438.55,107.93 440,108.8 441.4,109.83 442.8,110.92 444.2,111.65 445.6,113.02 447,113.39 448.4,114.91 449.8,115.49 451.2,116.89 452.6,117.34 454,118.92 455.4,119.6 456.8,120.6 458.2,121.59 459.6,122.16 461,122.74 462.4,124.08 463.8,124.58 465.2,125.19 466.6,126.36 468,127.13 469.4,127.95 470.8,128.8 472.18,129.42 473.56,130.23 474.95,131.36 476.33,132.12 477.71,132.74 479.09,133.78 480.47,134.8 481.85,135.63 483.24,136.31 484.62,137.1 486,138 487.57,138.44 489.13,138.89 490.7,139.41 492.27,140.1 493.83,140.42 495.4,141.2 497.43,140.81 499.47,140.27 501.5,139.6 503.75,140.37 506,141" fill="none" stroke="#a0142a" stroke-width="1.85" stroke-linejoin="round"/>
<polyline points="306,138 306.16,136.14 306.32,134.24 306.48,132.25 306.64,130.87 306.8,128.8 308.15,127.33 309.5,126.5 310.85,125.6 312.2,124.2 312.59,122.21 312.98,120.78 313.36,119.1 313.75,117.01 314.14,115.5 314.52,113.98 314.91,112.09 315.3,110.4 316.85,109.74 318.4,108.8 319.02,107.06 319.64,105.59 320.26,103.99 320.88,102.72 321.5,101.2 323.4,100.67 325.3,99.6 326.33,98.12 327.37,96.71 328.4,95 328.86,93.09 329.32,91.48 329.78,89.23 330.24,87.51 330.7,85.8 332.47,85.14 334.23,84.41 336,83.5 336.78,81.75 337.56,79.84 338.34,78.25 339.12,76.51 339.9,75 340.67,73.31 341.45,72.1 342.23,70.16 343,68.8 344.35,68.1 345.7,67.14 347.05,65.67 348.4,64.92 349.75,64.04 351.1,62.8 352.45,62.1 353.8,61.2 355.58,61.46 357.37,60.95 359.15,61.26 360.93,60.96 362.72,61.25 364.5,61.2 366.04,62.05 367.58,62.21 369.12,62.69 370.66,63.33 372.2,64.2 374,63.98 375.8,63.39 377.6,63.18 379.4,63.2 381.2,63.22 383,62.7 384.42,63.42 385.83,64.18 387.25,65.11 388.67,65.54 390.08,66.63 391.5,67.14 392.92,68.19 394.33,69.19 395.75,69.39 397.17,70.49 398.58,71.29 400,72 401.25,72.78 402.5,73.85 403.75,75.32 405,76.32 406.25,76.76 407.5,78.13 408.75,79.29 410,79.83 411.25,81.07 412.5,81.71 413.75,82.91 415,84.11 416.25,85.06 417.5,86.18 418.75,86.74 420,88 421.25,88.9 422.5,90.23 423.75,91.05 425,91.97 426.25,92.94 427.5,94.31 428.75,95.05 430,95.69 431.25,97.19 432.5,97.89 433.75,98.96 435,99.82 436.25,100.96 437.5,101.89 438.75,102.74 440,104 441.36,105.08 442.73,105.75 444.09,107.18 445.45,107.7 446.82,109.18 448.18,110.2 449.55,111 450.91,112.13 452.27,112.84 453.64,114.15 455,115 456.44,115.93 457.87,116.79 459.31,118.24 460.75,118.86 462.18,119.83 463.62,121.12 465.05,121.79 466.49,122.96 467.93,123.63 469.36,125.04 470.8,125.8 472.14,126.61 473.48,127.44 474.81,128.99 476.15,129.44 477.49,130.9 478.82,131.89 480.16,132.61 481.5,133.5 483.04,133.95 484.57,134.74 486.11,135.6 487.65,136.48 489.19,137.38 490.73,138.37 492.26,138.74 493.8,139.6 495.34,139.99 496.88,140.88 498.42,141.23 499.96,141.82 501.5,142.7 503.75,141.99 506,141.2 507.6,140.79 509.2,139.86 510.8,139.6" fill="none" stroke="#5e2a52" stroke-width="1.85" stroke-linejoin="round"/>
<polyline points="306,138 305.3,136.5 305.76,134.71 306.22,132.77 306.68,131.03 307.14,128.95 307.6,127.3 308.11,125.97 308.62,124.44 309.13,122.8 309.64,120.95 310.16,119.65 310.67,117.99 311.18,116.41 311.69,115.32 312.2,113.5 312.56,112.22 312.92,110.02 313.28,108.95 313.64,107.19 314,105.46 314.36,103.8 314.72,102.46 315.08,100.73 315.44,99.28 315.8,97.67 316.16,95.74 316.52,94.55 316.88,93.1 317.24,91.49 317.6,89.6 319.4,88.91 321.2,87.77 323,87.3 323.77,85.43 324.53,83.97 325.3,82.93 326.07,80.97 326.83,79.46 327.6,78 328.11,76.72 328.62,74.81 329.13,73.43 329.64,71.83 330.16,70.05 330.67,68.85 331.18,67.49 331.69,65.51 332.2,64.2 333.75,63.26 335.3,62.61 336.85,61.6 338.4,61.13 339.95,60.57 341.5,59.6 343.53,59.7 345.57,59.62 347.6,59.6 348.88,61.11 350.17,61.94 351.45,63.49 352.73,64.65 354.02,66.08 355.3,67.3 356.84,66.59 358.38,66.56 359.92,65.66 361.46,65.25 363,65 364.93,65.4 366.85,65.69 368.77,65.56 370.7,65.8 372.73,66.25 374.77,66.64 376.8,67.3 378.77,66.79 380.73,66.64 382.7,66.2 384.23,66.75 385.76,67.48 387.29,68.45 388.82,69.03 390.35,70.1 391.88,70.97 393.41,71.7 394.94,72.27 396.47,72.94 398,73.8 399.29,74.79 400.58,75.55 401.88,77.04 403.17,77.83 404.46,78.85 405.75,79.73 407.04,81 408.33,82.12 409.62,83.03 410.92,84.37 412.21,85.28 413.5,86.2 414.88,87.1 416.26,88.36 417.64,89.67 419.02,90.49 420.4,91.62 421.78,92.34 423.16,93.68 424.54,94.74 425.92,95.77 427.3,96.9 428.71,97.84 430.12,98.93 431.53,99.89 432.94,100.85 434.36,101.63 435.77,102.8 437.18,104.12 438.59,104.76 440,105.8 441.4,106.48 442.8,107.43 444.2,108.74 445.6,109.4 447,110.4 448.4,111.39 449.8,112.58 451.2,113.9 452.6,114.54 454,115.5 455.4,116.5 456.77,117.49 458.13,118.57 459.5,119.57 460.87,120.78 462.23,121.92 463.6,122.83 464.97,123.68 466.33,124.86 467.7,125.8 469.05,127.02 470.4,127.5 471.75,128.52 473.1,129.73 474.45,130.73 475.8,131.67 477.15,132.59 478.5,133.5 479.75,134.73 481,135.52 482.25,136.75 483.5,137.86 484.75,138.54 486,139.6 487.57,140.27 489.14,140.63 490.71,141.18 492.29,141.08 493.86,142.08 495.43,142.43 497,142.7 498.62,142.91 500.25,142.83 501.88,142.3 503.5,142.46 505.12,142.03 506.75,142.24 508.38,142.36 510,142 511,139.8 512,138" fill="none" stroke="#2cd24a" stroke-width="1.85" stroke-linejoin="round"/>
<polyline points="306,138 306.8,136.47 307.6,135 308.11,133.5 308.62,132.2 309.13,130.38 309.64,128.87 310.16,127.39 310.67,125.6 311.18,124.27 311.69,122.82 312.2,121.2 312.66,119.85 313.12,117.86 313.58,116.45 314.04,114.78 314.5,113.7 314.96,112.08 315.42,110.13 315.88,109.19 316.34,107.64 316.8,105.8 318.35,105.1 319.9,104.2 320.42,102.74 320.93,100.91 321.45,99.29 321.97,98.08 322.48,96.25 323,95 323.62,93.26 324.24,91.75 324.86,90.08 325.48,88.82 326.1,87.3 326.88,85.74 327.65,84.47 328.43,82.74 329.2,81.2 329.37,79.58 329.53,77.78 329.7,76.17 329.87,74.33 330.03,72.5 330.2,71.25 330.37,69.54 330.53,67.73 330.7,65.8 332.5,65.67 334.3,65.15 336.1,64.83 337.9,64.6 339.7,64.19 341.5,64.2 343.03,63.75 344.56,62.9 346.09,62.56 347.62,61.65 349.15,61.39 350.68,60.7 352.21,59.54 353.74,59.05 355.27,58.88 356.8,58 358.33,57.48 359.87,57.31 361.4,56.43 362.93,55.73 364.47,55.58 366,55 367.07,53.38 368.13,51.25 369.2,49.6 371.13,49.74 373.07,50.29 375,50.8 376.84,51.4 378.68,51.57 380.52,51.46 382.36,51.84 384.2,52.3 385.55,52.91 386.9,53.76 388.25,55.1 389.6,55.57 390.95,56.68 392.3,57.48 393.65,58.18 395,59.4 396.35,59.88 397.7,61.08 399.05,61.61 400.4,62.67 401.75,63.41 403.1,64.32 404.45,65.63 405.8,66.2 407.2,67.37 408.6,68.02 410,69.36 411.4,69.91 412.8,71 414.2,72.26 415.6,73.1 417,73.73 418.4,75.27 419.8,75.74 421.2,76.9 422.45,77.85 423.71,79.29 424.96,80.11 426.21,81.2 427.47,82.16 428.72,83.28 429.97,84.7 431.23,85.59 432.48,86.92 433.73,87.88 434.99,89.04 436.24,90.47 437.49,91.28 438.75,92.44 440,93.5 441.42,94.68 442.85,95.19 444.27,96.12 445.69,97.55 447.12,98.43 448.54,99.02 449.96,99.92 451.38,101.22 452.81,102.3 454.23,102.77 455.65,104.2 457.08,105.1 458.5,105.8 459.87,106.89 461.23,107.79 462.6,108.61 463.97,109.59 465.33,111.21 466.7,111.77 468.07,113.09 469.43,113.82 470.8,115 472.18,116.04 473.56,116.73 474.95,117.38 476.33,118.14 477.71,119.32 479.09,119.74 480.47,120.68 481.85,121.73 483.24,122.75 484.62,123.44 486,124.2 487.67,124.6 489.34,125.55 491.01,125.64 492.69,126.06 494.36,126.77 496.03,127.42 497.7,128" fill="none" stroke="#2c8fd0" stroke-width="1.85" stroke-linejoin="round"/>
<polyline points="306,138 306,136.24 306,134.62 306,132.88 306,130.8 306,128.97 306,127.46 306,125.8 306.27,123.94 306.53,122.58 306.8,120.79 307.07,119.02 307.33,117.28 307.6,115.64 307.87,113.6 308.13,112.07 308.4,110.4 309.67,108.65 310.93,107.59 312.2,105.8 312.42,103.87 312.64,102.7 312.86,100.58 313.09,99.32 313.31,97.45 313.53,95.84 313.75,94.47 313.97,92.29 314.19,90.67 314.41,89.57 314.64,87.66 314.86,85.74 315.08,84.66 315.3,82.7 316.85,82.21 318.4,80.9 319.95,80.33 321.5,79.6 322.81,78.27 324.13,77.28 325.44,76.38 326.76,74.98 328.07,74.23 329.39,72.71 330.7,71.9 330.96,70.11 331.22,68.94 331.48,67.1 331.74,65.53 332,64 333.07,62.81 334.13,61.49 335.2,60.18 336.27,58.7 337.33,57.89 338.4,56.5 340.24,57.1 342.08,57.4 343.92,57.5 345.76,57.61 347.6,58 348.12,56.25 348.63,54.79 349.15,53.11 349.67,51.09 350.18,49.5 350.7,48 352.54,47.91 354.38,48.01 356.22,48.2 358.06,48 359.9,48 361.45,48.36 363,49.54 364.55,49.96 366.1,50.68 367.65,51.16 369.2,52 370.73,52.8 372.27,53.62 373.8,54.71 375.33,55.12 376.87,56.25 378.4,56.86 379.93,58.04 381.47,58.46 383,59.6 385.15,60.41 387.3,61.5 388.62,62.39 389.94,63.57 391.26,64.19 392.59,65.45 393.91,66.28 395.23,67.32 396.55,68.43 397.87,69.74 399.19,70.42 400.51,71.72 401.84,72.21 403.16,73.69 404.48,74.32 405.8,75.4 407.2,76.18 408.6,77.52 410,78.61 411.4,79.01 412.8,80.16 414.2,81.46 415.6,82.17 417,83.09 418.4,83.92 419.8,84.92 421.2,86.2 422.65,87.13 424.09,88.22 425.54,89.08 426.98,89.62 428.43,90.16 429.88,91.21 431.32,92.36 432.77,93.24 434.22,93.97 435.66,94.57 437.11,95.61 438.55,96.43 440,97.3 441.4,98.29 442.8,98.97 444.2,100.31 445.6,101.19 447,101.63 448.4,102.62 449.8,103.9 451.2,104.43 452.6,105.77 454,106.4 455.4,107.3 456.8,108.4 458.2,109.38 459.6,110.04 461,111.05 462.4,112.01 463.8,113.25 465.2,114.23 466.6,114.85 468,116.3 469.4,116.98 470.8,118 472.32,118.61 473.84,119.52 475.36,120.65 476.88,121.16 478.4,121.98 479.92,122.95 481.44,123.76 482.96,124.41 484.48,124.97 486,125.8 487.55,126.63 489.1,127.6 490.65,128.3 492.2,128.93 493.75,129.55 495.3,130.34 496.85,131.34 498.4,132 499.95,132.42 501.5,133.5 503.05,134.52 504.6,135.53 506.15,136.34 507.7,137.29 509.25,138.18 510.8,138.8" fill="none" stroke="#e2d22a" stroke-width="1.85" stroke-linejoin="round"/>
<polyline points="306,138 306.32,136.17 306.64,134.76 306.96,133.08 307.28,131.5 307.6,129.4 307.92,127.75 308.24,126.01 308.56,124.38 308.88,123.03 309.2,121.2 309.58,119.3 309.97,117.89 310.35,116.02 310.73,114.4 311.12,112.82 311.5,111.42 311.88,109.6 312.27,107.56 312.65,106.06 313.03,104.31 313.42,103.1 313.8,101.2 314.31,99.85 314.82,98.31 315.33,96.78 315.84,95.18 316.36,93.77 316.87,92.12 317.38,90.23 317.89,89.07 318.4,87.3 318.93,85.26 319.47,83.4 320,81.2 320.33,79.62 320.67,77.91 321,76.25 321.33,74.67 321.67,72.97 322,71.22 322.33,70.05 322.67,68.41 323,66.91 323.33,65.1 323.67,63.39 324,61.89 324.33,59.88 324.67,58.6 325,56.83 325.33,55.04 325.67,53.43 326,52 327.55,51.61 329.1,51.04 330.65,50.77 332.2,50.4 333.06,49.01 333.91,47.42 334.77,45.8 335.62,44.57 336.48,42.95 337.33,41.5 338.19,40.02 339.04,38.67 339.9,37.3 341.76,37.33 343.62,38 345.48,38.49 347.34,38.43 349.2,38.8 350.72,39.56 352.24,40.32 353.76,40.37 355.28,41.05 356.8,41.9 358.87,41.86 360.93,41.65 363,41.2 364.43,42.06 365.86,42.53 367.29,43.46 368.71,44.52 370.14,45.3 371.57,46.02 373,46.41 374.43,47.6 375.86,48.06 377.29,49.05 378.71,49.45 380.14,50.76 381.57,51.29 383,52 384.27,53.25 385.53,54.04 386.8,55.41 388.07,56.5 389.33,57.61 390.6,58.58 391.87,59.92 393.13,60.79 394.4,61.87 395.67,62.9 396.93,64.34 398.2,65.09 399.47,66.27 400.73,67.28 402,68.76 403.27,69.81 404.53,70.92 405.8,72 407.08,72.7 408.37,73.96 409.65,74.9 410.93,75.74 412.22,76.68 413.5,78.32 414.78,78.76 416.07,79.87 417.35,80.85 418.63,82.06 419.92,82.73 421.2,84 422.45,85.02 423.71,85.99 424.96,87.33 426.21,87.84 427.47,89.09 428.72,90.24 429.97,91.58 431.23,92.33 432.48,93.34 433.73,94.51 434.99,95.31 436.24,96.18 437.49,97.52 438.75,98.82 440,99.6 441.4,100.73 442.8,101.41 444.2,102.66 445.6,103.75 447,104.35 448.4,105.55 449.8,106.38 451.2,107.29 452.6,108.3 454,109.23 455.4,110.4 456.63,111.38 457.86,112.26 459.09,113.57 460.32,114.46 461.55,115.97 462.78,116.94 464.01,117.64 465.24,119.22 466.47,119.92 467.7,121.2 470,121.59 472.3,122 473.85,122.58 475.4,122.99 476.95,123.52 478.5,124.2 480.11,124.32 481.72,124.29 483.33,124.91 484.94,124.59 486.55,125.21 488.16,124.98 489.77,125.19 491.38,125.41 492.99,125.34 494.6,125.8 494.6,127.46 494.6,129.6" fill="none" stroke="#a95c16" stroke-width="1.85" stroke-linejoin="round"/>
<polyline points="306,138 306.23,136.01 306.46,134.64 306.69,132.87 306.91,131.31 307.14,129.14 307.37,127.39 307.6,125.8 307.95,124.35 308.31,122.7 308.66,120.87 309.02,119.52 309.37,117.73 309.72,116.38 310.08,114.36 310.43,112.82 310.78,111.66 311.14,109.71 311.49,108.05 311.85,106.79 312.2,105 312.44,103.43 312.68,101.46 312.93,100.06 313.17,98.47 313.41,96.5 313.65,95.15 313.89,93.15 314.14,91.63 314.38,89.81 314.62,88.23 314.86,87.07 315.11,85.04 315.35,83.76 315.59,81.75 315.83,80.2 316.07,78.71 316.32,76.94 316.56,74.91 316.8,73.5 317.69,72.13 318.57,70.73 319.46,69.01 320.34,67.53 321.23,66.6 322.11,64.94 323,63.3 323.89,62.04 324.77,60.46 325.66,59.41 326.54,57.79 327.43,56.1 328.31,55.13 329.2,53.5 329.53,51.64 329.86,50.17 330.19,48.42 330.51,47.28 330.84,45.29 331.17,43.96 331.5,42.09 331.83,40.74 332.16,39.28 332.49,37.59 332.81,35.95 333.14,34.38 333.47,32.75 333.8,31.2 335.33,32.14 336.87,32.71 338.4,33.83 339.93,34.56 341.47,35.85 343,36.5 344.42,37.61 345.85,37.88 347.27,38.76 348.69,39.95 350.12,40.7 351.54,41.18 352.96,42.45 354.38,43.43 355.81,43.93 357.23,44.71 358.65,45.68 360.08,46.75 361.5,47.3 362.85,48.11 364.2,49.09 365.55,49.98 366.9,51.22 368.25,52.08 369.6,52.9 370.95,53.95 372.3,54.68 373.65,55.82 375,56.9 376.73,57.7 378.45,57.93 380.18,58.22 381.9,59.13 383.62,59.25 385.35,59.67 387.07,60.01 388.8,60.8 389.33,59.04 389.87,57.54 390.4,56.2 391.94,56.68 393.49,57.75 395.03,58.02 396.57,58.67 398.11,59.55 399.66,60.41 401.2,60.8 402.58,61.67 403.96,62.97 405.34,63.72 406.72,64.84 408.1,65.86 409.48,67.08 410.86,67.96 412.24,68.81 413.62,70.02 415,70.8 416.38,71.78 417.76,72.87 419.14,74.3 420.52,75.11 421.9,76.33 423.28,77.1 424.66,78.56 426.04,79.43 427.42,80.27 428.8,81.5 430.2,82.89 431.6,83.71 433,84.73 434.4,85.8 435.8,86.81 437.2,87.98 438.6,89.41 440,90.4 441.3,91.23 442.6,92.37 443.9,93.55 445.2,94.67 446.5,95.63 447.8,96.95 449.1,97.68 450.4,98.81 451.7,99.91 453,100.78 454.3,101.9 455.6,102.91 456.9,104.2 458.93,104.88 460.97,105.04 463,105.8 464.41,106.82 465.82,107.44 467.23,108.62 468.64,109.54 470.05,110.25 471.45,111.53 472.86,112.26 474.27,113.11 475.68,113.69 477.09,114.83 478.5,115.8 479.91,116.48 481.32,117.45 482.73,118.58 484.13,119.37 485.54,119.69 486.95,120.92 488.36,121.91 489.77,122.49 491.17,123.04 492.58,124.37 493.99,124.92 495.4,125.8 495.7,128.21 496,130" fill="none" stroke="#2e0a1e" stroke-width="1.85" stroke-linejoin="round"/>
<polyline points="306,138 306.16,136.62 306.32,134.33 306.48,133.11 306.64,131.06 306.8,129.91 306.96,127.61 307.12,126.48 307.28,124.68 307.44,123.11 307.6,121.2 307.93,119.86 308.26,117.72 308.59,116.12 308.91,114.7 309.24,112.77 309.57,111.11 309.9,109.43 310.23,108.17 310.56,106.53 310.89,104.82 311.21,102.79 311.54,101.59 311.87,99.66 312.2,98 312.72,96.04 313.23,94.4 313.75,92.6 314.27,90.6 314.78,89.12 315.3,87.3 315.92,85.67 316.54,84.26 317.16,82.96 317.78,81.23 318.4,79.6 319.95,77.99 321.5,76.5 321.77,75.05 322.05,73.45 322.32,71.45 322.59,70.06 322.86,67.78 323.14,66.18 323.41,64.52 323.68,63.33 323.95,61.49 324.23,59.82 324.5,58 324.8,56.25 325.09,54.78 325.39,53.42 325.68,51.31 325.98,49.71 326.27,48.05 326.57,46.71 326.86,45.34 327.16,43.55 327.45,41.84 327.75,40.3 328.04,38.48 328.34,37.36 328.63,35.37 328.93,33.69 329.22,32.13 329.52,30.85 329.81,28.91 330.11,27.68 330.4,25.7 330.7,24.2 332.24,24.74 333.77,25.08 335.31,26.19 336.85,26.69 338.39,27.06 339.93,27.4 341.46,28.22 343,28.8 344.54,29.16 346.09,29.9 347.63,30.4 349.17,30.73 350.71,30.88 352.26,31.16 353.8,31.9 355.13,33.07 356.45,34.01 357.78,34.42 359.11,35.55 360.44,36.46 361.76,37.69 363.09,38 364.42,38.93 365.75,40.34 367.07,41.08 368.4,41.93 369.73,43.04 371.05,43.84 372.38,44.81 373.71,45.45 375.04,46.25 376.36,47.12 377.69,48.24 379.02,49.35 380.35,50.1 381.67,50.99 383,52 384.06,53.43 385.11,54.85 386.17,56.13 387.23,57.31 388.29,58.99 389.34,60.34 390.4,61.5 391.8,62.6 393.2,63.44 394.6,63.73 396,64.99 397.4,65.63 398.8,66.5 400.2,67.43 401.6,68.04 403,68.95 404.4,70.27 405.8,70.8 407.2,71.53 408.6,72.74 410,73.43 411.4,74.03 412.8,74.87 414.2,75.89 415.6,76.78 417,77.39 418.4,78.05 419.8,78.95 421.2,80 422.45,81.29 423.7,82.26 424.95,82.92 426.2,84.44 427.45,85.33 428.7,86.23 429.95,87.65 431.2,88.21 432.45,89.25 433.7,90.46 434.95,91.77 436.2,92.71 437.45,93.72 438.7,95.05 439.95,95.78 441.2,96.9 442.78,97.9 444.36,98.21 445.93,99.51 447.51,99.92 449.09,101.06 450.67,101.98 452.24,102.68 453.82,103.44 455.4,104.2 456.8,105.21 458.2,106.32 459.6,107.06 461,107.96 462.4,109.15 463.8,110.1 465.2,110.83 466.6,112.07 468,113.02 469.4,113.8 470.8,115 472.18,115.97 473.56,116.85 474.95,117.41 476.33,118.58 477.71,119.49 479.09,120.12 480.47,120.8 481.85,121.55 483.24,122.29 484.62,123.22 486,124.2 487.41,125.43 488.82,125.74 490.23,127.19 491.64,127.96 493.05,128.93 494.45,129.4 495.86,130.66 497.27,131.28 498.68,132.5 500.09,133.48 501.5,134.2 504,134" fill="none" stroke="#f5267e" stroke-width="1.85" stroke-linejoin="round"/>
<polyline points="306,138 306.21,136.28 306.43,134.72 306.64,133.05 306.85,131.43 307.07,129.78 307.28,128.3 307.49,126.41 307.71,125.02 307.92,122.99 308.13,121.54 308.35,119.93 308.56,118.17 308.77,116.92 308.99,115.01 309.2,113.5 309.45,112.02 309.7,110.46 309.95,108.34 310.2,107.09 310.45,105.36 310.7,103.61 310.95,101.53 311.2,100.14 311.45,98.58 311.7,96.7 311.95,94.99 312.2,93.5 312.48,91.7 312.76,89.98 313.05,88.64 313.33,86.68 313.61,85.04 313.89,83.5 314.17,82.01 314.45,79.91 314.74,78.07 315.02,76.99 315.3,75 315.46,73.37 315.62,71.51 315.78,69.49 315.94,67.47 316.1,65.8 316.56,63.72 317.02,61.95 317.48,60.19 317.94,58.08 318.4,56.5 318.74,54.93 319.09,53.25 319.43,51.09 319.78,49.92 320.12,47.99 320.47,46.57 320.81,44.58 321.16,43.09 321.5,41.2 322.65,39.57 323.8,38 324.18,36.46 324.56,34.78 324.94,32.86 325.32,31.33 325.7,29.78 326.08,28.28 326.46,26.65 326.84,25.15 327.22,23.61 327.6,21.9 329.15,22.41 330.7,22.93 332.25,23.63 333.8,24.2 335.33,25.26 336.86,25.92 338.39,26.61 339.91,27.49 341.44,27.88 342.97,28.57 344.5,29.6 346.05,27.79 347.6,26.5 349.9,26.26 352.2,26.5 353.75,27.09 355.3,28.38 356.85,29.47 358.4,29.85 359.95,31.12 361.5,31.9 363.04,33.1 364.58,33.91 366.12,34.44 367.66,35.67 369.2,36.5 371.5,35.99 373.8,35.8 375.33,36.49 376.87,37.29 378.4,38.52 379.93,39.67 381.47,40.05 383,41.2 384.4,42.27 385.8,43.8 387.87,43.5 389.93,43.04 392,43.1 393.25,44.2 394.51,45.48 395.76,46.43 397.02,47.28 398.27,48.39 399.53,49.62 400.78,51.03 402.04,52.32 403.29,53.17 404.55,54.03 405.8,55.4 407.08,56.37 408.37,57.65 409.65,58.6 410.93,59.75 412.22,61.11 413.5,62.52 414.78,63.28 416.07,64.85 417.35,65.99 418.63,66.86 419.92,67.87 421.2,69.2 422.47,70.02 423.75,71.36 425.02,72.48 426.3,73.53 427.57,74.14 428.85,75.3 430.12,76.07 431.4,77.27 432.68,78.29 433.95,79.21 435.23,80.2 436.5,81.5 437.76,82.82 439.02,83.38 440.28,84.5 441.54,85.52 442.8,86.48 444.06,87.56 445.32,88.5 446.58,89.49 447.84,90.23 449.1,91.58 450.36,92.61 451.62,93.64 452.88,94.38 454.14,95.48 455.4,96.5 456.68,97.65 457.97,98.56 459.25,99.09 460.53,100.23 461.82,101.08 463.1,102.39 464.38,103.15 465.67,104.1 466.95,104.95 468.23,106.05 469.52,107.18 470.8,108 472.26,108.93 473.72,109.52 475.18,110.48 476.64,111.48 478.1,111.97 479.56,113.36 481.02,113.64 482.48,114.88 483.94,115.42 485.4,116.5" fill="none" stroke="#7443a4" stroke-width="1.85" stroke-linejoin="round"/>
<line x1="305.9" y1="18.8" x2="305.9" y2="143.7" stroke="#777" stroke-width="1.2"/>
<line x1="305.9" y1="140.4" x2="512.5" y2="140.4" stroke="#555" stroke-width="1"/>
<line x1="309.1" y1="149.2" x2="315" y2="149.2" stroke="#1ec8e6" stroke-width="1.8"/>
<text transform="translate(318.6,150.9) scale(0.1)" font-size="47" fill="#111" textLength="1099" lengthAdjust="spacingAndGlyphs" stroke="#111" stroke-width="1">GOBP_CYTOSOLIC_CALCIUM_ION_TRANSPORT</text>
<line x1="309.1" y1="156.67" x2="315" y2="156.67" stroke="#a0142a" stroke-width="1.8"/>
<text transform="translate(318.6,158.37) scale(0.1)" font-size="47" fill="#111" textLength="1029" lengthAdjust="spacingAndGlyphs" stroke="#111" stroke-width="1">GOBP_ENDOTHELIAL_CELL_PROLIFERATION</text>
<line x1="309.1" y1="164.14" x2="315" y2="164.14" stroke="#2c8fd0" stroke-width="1.8"/>
<text transform="translate(318.6,165.84) scale(0.1)" font-size="47" fill="#111" textLength="1764" lengthAdjust="spacingAndGlyphs" stroke="#111" stroke-width="1">GOBP_NEGATIVE_REGULATION_OF_ANION_TRANSMEMBRANE_TRANSPORT</text>
<line x1="309.1" y1="171.61" x2="315" y2="171.61" stroke="#2e0a1e" stroke-width="1.8"/>
<text transform="translate(318.6,173.31) scale(0.1)" font-size="47" fill="#111" textLength="1454" lengthAdjust="spacingAndGlyphs" stroke="#111" stroke-width="1">GOBP_NEGATIVE_REGULATION_OF_LEUKOCYTE_CHEMOTAXIS</text>
<line x1="309.1" y1="179.08" x2="315" y2="179.08" stroke="#a95c16" stroke-width="1.8"/>
<text transform="translate(318.6,180.78) scale(0.1)" font-size="47" fill="#111" textLength="1459" lengthAdjust="spacingAndGlyphs" stroke="#111" stroke-width="1">GOBP_POSITIVE_REGULATION_OF_FILOPODIUM_ASSEMBLY</text>
<line x1="309.1" y1="186.55" x2="315" y2="186.55" stroke="#7443a4" stroke-width="1.8"/>
<text transform="translate(318.6,188.25) scale(0.1)" font-size="47" fill="#111" textLength="2004" lengthAdjust="spacingAndGlyphs" stroke="#111" stroke-width="1">GOBP_POSITIVE_REGULATION_OF_NATURAL_KILLER_CELL_MEDIATED_CYTOTOXICITY</text>
<line x1="309.1" y1="194.02" x2="315" y2="194.02" stroke="#f5267e" stroke-width="1.8"/>
<text transform="translate(318.6,195.72) scale(0.1)" font-size="47" fill="#111" textLength="1389" lengthAdjust="spacingAndGlyphs" stroke="#111" stroke-width="1">GOBP_REGULATION_OF_B_CELL_DIFFERENTIATION</text>
<line x1="309.1" y1="201.49" x2="315" y2="201.49" stroke="#e2d22a" stroke-width="1.8"/>
<text transform="translate(318.6,203.19) scale(0.1)" font-size="47" fill="#111" textLength="1504" lengthAdjust="spacingAndGlyphs" stroke="#111" stroke-width="1">GOBP_REGULATION_OF_LONG_TERM_SYNAPTIC_POTENTIATION</text>
<line x1="309.1" y1="208.96" x2="315" y2="208.96" stroke="#5e2a52" stroke-width="1.8"/>
<text transform="translate(318.6,210.66) scale(0.1)" font-size="47" fill="#111" textLength="1289" lengthAdjust="spacingAndGlyphs" stroke="#111" stroke-width="1">GOBP_REGULATION_OF_NERVOUS_SYSTEM_PROCESS</text>
<line x1="309.1" y1="216.43" x2="315" y2="216.43" stroke="#2cd24a" stroke-width="1.8"/>
<text transform="translate(318.6,218.13) scale(0.1)" font-size="47" fill="#111" textLength="977" lengthAdjust="spacingAndGlyphs" stroke="#111" stroke-width="1">GOBP_SEQUESTERING_OF_CALCIUM_ION</text>
<text transform="translate(14.1,235.4) scale(0.1)" font-size="132" fill="#000" stroke="#000" stroke-width="2.5">C</text>
<rect x="12.8" y="242" width="118.8" height="118.5" fill="#f3f3f3"/>
<text transform="translate(55,246.75) scale(0.1)" font-size="43.3" fill="#000" font-weight="bold" textLength="344" lengthAdjust="spacingAndGlyphs" stroke="#000" stroke-width="2">Enrichment plot:</text>
<text transform="translate(26.9,252.65) scale(0.1)" font-size="43.3" fill="#000" font-weight="bold" textLength="911" lengthAdjust="spacingAndGlyphs" stroke="#000" stroke-width="2">KEGG_CHEMOKINE_SIGNALING_PATHWAY</text>
<rect x="26.5" y="255.5" width="103.7" height="88" fill="#ffffff"/>
<path d="M36.57 255.5V297.3M36.57 316.3V343.5M46.64 255.5V297.3M46.64 316.3V343.5M56.71 255.5V297.3M56.71 316.3V343.5M66.79 255.5V297.3M66.79 316.3V343.5M76.86 255.5V297.3M76.86 316.3V343.5M86.93 255.5V297.3M86.93 316.3V343.5M97 255.5V297.3M97 316.3V343.5M107.07 255.5V297.3M107.07 316.3V343.5M117.14 255.5V297.3M117.14 316.3V343.5M127.21 255.5V297.3M127.21 316.3V343.5M26.5 294H130.2M26.5 286.8H130.2M26.5 279.6H130.2M26.5 272.4H130.2M26.5 265.2H130.2M26.5 258H130.2M26.5 316.4H130.2M26.5 323.9H130.2M26.5 338.9H130.2" stroke="#f1f1f1" stroke-width="0.5" fill="none"/>
<line x1="26.5" y1="294" x2="130.2" y2="294" stroke="#cfcfcf" stroke-width="0.5"/>
<text transform="translate(25,295.1) scale(0.1)" font-size="30" fill="#555" text-anchor="end" textLength="44" lengthAdjust="spacingAndGlyphs">0.0</text>
<text transform="translate(25,287.9) scale(0.1)" font-size="30" fill="#555" text-anchor="end" textLength="44" lengthAdjust="spacingAndGlyphs">0.1</text>
<text transform="translate(25,280.7) scale(0.1)" font-size="30" fill="#555" text-anchor="end" textLength="44" lengthAdjust="spacingAndGlyphs">0.2</text>
<text transform="translate(25,273.5) scale(0.1)" font-size="30" fill="#555" text-anchor="end" textLength="44" lengthAdjust="spacingAndGlyphs">0.3</text>
<text transform="translate(25,266.3) scale(0.1)" font-size="30" fill="#555" text-anchor="end" textLength="44" lengthAdjust="spacingAndGlyphs">0.4</text>
<text transform="translate(25,259.1) scale(0.1)" font-size="30" fill="#555" text-anchor="end" textLength="44" lengthAdjust="spacingAndGlyphs">0.5</text>
<text transform="translate(18.6,276.9) rotate(-90) scale(0.1)" font-size="32" fill="#333" text-anchor="middle" textLength="370" lengthAdjust="spacingAndGlyphs" stroke="#333" stroke-width="0.6">Enrichment score (ES)</text>
<polyline points="26.4,294 26.58,292.51 26.76,291.57 26.94,290.4 27.12,288.84 27.3,287.6 27.49,286.67 27.67,285.25 27.86,284.19 28.04,283.18 28.23,281.67 28.41,280.43 28.6,279.5 28.88,278.06 29.16,276.71 29.44,275.63 29.72,274.19 30,273.1 30.45,271.75 30.9,270.8 31.48,269.68 32.05,268.7 32.62,267.92 33.2,266.7 33.88,265.56 34.55,264.97 35.23,264.2 35.9,263.1 36.8,262.45 37.7,261.4 38.6,260.8 39.83,259.86 41.07,259.2 42.3,258.5 43.37,257.92 44.43,258.07 45.5,257.5 47.3,258.1 49.1,259 50.25,258.68 51.4,258.1 52.75,257.95 54.1,257.5 55.45,258.03 56.8,258.4 58.15,259.39 59.5,259.9 60.9,260.54 62.3,261.3 63.5,261.5 64.7,262.1 65.9,262.6 67.05,263.04 68.2,263.7 69.35,263.78 70.5,264.5 71.62,265.35 72.75,265.77 73.88,266.29 75,267.2 75.98,267.75 76.96,268.39 77.94,268.75 78.92,269.32 79.9,269.7 80.88,270.35 81.86,271.01 82.84,271.5 83.82,272.61 84.8,273.1 85.78,273.94 86.76,274.52 87.74,275.35 88.72,276.32 89.7,277.1 90.68,277.88 91.66,278.69 92.64,279.1 93.62,279.84 94.6,280.5 95.58,281.2 96.56,281.48 97.54,282.53 98.52,282.84 99.5,283.5 100.5,284.22 101.5,284.65 102.5,285.11 103.5,285.24 104.5,285.9 105.7,286.48 106.9,287.09 108.1,287.61 109.3,288.3 110.3,288.89 111.3,289.4 112.3,290.14 113.3,290.81 114.3,291.3 115.28,291.89 116.26,292.45 117.24,292.95 118.22,293.23 119.2,293.8 120.5,294.17 121.8,294.54 123.1,294.7 124.15,293.79 125.2,293.3" fill="none" stroke="#10f010" stroke-width="1.45" stroke-linejoin="round"/>
<text transform="translate(38.1,279.75) scale(0.1)" font-size="49" fill="#1a1a1a" textLength="234" lengthAdjust="spacingAndGlyphs" stroke="#1a1a1a" stroke-width="1.2">NES=1.828</text>
<text transform="translate(38.1,286.15) scale(0.1)" font-size="49" fill="#1a1a1a" textLength="363" lengthAdjust="spacingAndGlyphs" stroke="#1a1a1a" stroke-width="1.2">NOM p-val=0.006</text>
<text transform="translate(38.1,292.45) scale(0.1)" font-size="49" fill="#1a1a1a" textLength="347" lengthAdjust="spacingAndGlyphs" stroke="#1a1a1a" stroke-width="1.2">FDR q-val=0.497</text>
<rect x="26.5" y="298.3" width="98.7" height="13.7" fill="#fff"/>
<g filter="url(#bcblur)">
<rect x="26.5" y="298.3" width="1.5" height="13.7" fill="#191919"/>
<rect x="28" y="298.3" width="3" height="13.7" fill="#272727"/>
<rect x="31" y="298.3" width="3.2" height="13.7" fill="#4a4a4a"/>
<rect x="34.2" y="298.3" width="0.5" height="13.7" fill="#b0b0b0"/>
<rect x="34.7" y="298.3" width="1.9" height="13.7" fill="#2c2c2c"/>
<rect x="36.6" y="298.3" width="1.4" height="13.7" fill="#ffffff"/>
<rect x="38" y="298.3" width="7.7" height="13.7" fill="#696969"/>
<rect x="45.7" y="298.3" width="0.7" height="13.7" fill="#f0f0f0"/>
<rect x="46.4" y="298.3" width="1.2" height="13.7" fill="#606060"/>
<rect x="47.6" y="298.3" width="1.3" height="13.7" fill="#ffffff"/>
<rect x="48.9" y="298.3" width="6.9" height="13.7" fill="#4a4a4a"/>
<rect x="55.8" y="298.3" width="2.4" height="13.7" fill="#ffffff"/>
<rect x="58.2" y="298.3" width="2" height="13.7" fill="#343434"/>
<rect x="60.2" y="298.3" width="1.4" height="13.7" fill="#ffffff"/>
<rect x="61.6" y="298.3" width="4.4" height="13.7" fill="#696969"/>
<rect x="66" y="298.3" width="2" height="13.7" fill="#959595"/>
<rect x="68" y="298.3" width="3.2" height="13.7" fill="#606060"/>
<rect x="71.2" y="298.3" width="2" height="13.7" fill="#ffffff"/>
<rect x="73.2" y="298.3" width="2.8" height="13.7" fill="#696969"/>
<rect x="76" y="298.3" width="1.9" height="13.7" fill="#3d3d3d"/>
<rect x="77.9" y="298.3" width="1.4" height="13.7" fill="#a7a7a7"/>
<rect x="79.3" y="298.3" width="2.9" height="13.7" fill="#464646"/>
<rect x="82.2" y="298.3" width="3.4" height="13.7" fill="#a2a2a2"/>
<rect x="85.6" y="298.3" width="1.4" height="13.7" fill="#ffffff"/>
<rect x="87" y="298.3" width="2" height="13.7" fill="#464646"/>
<rect x="89" y="298.3" width="1.9" height="13.7" fill="#cacaca"/>
<rect x="90.9" y="298.3" width="1.4" height="13.7" fill="#141414"/>
<rect x="92.3" y="298.3" width="1.5" height="13.7" fill="#ffffff"/>
<rect x="93.8" y="298.3" width="6.2" height="13.7" fill="#727272"/>
<rect x="100" y="298.3" width="2" height="13.7" fill="#ffffff"/>
<rect x="102" y="298.3" width="3.8" height="13.7" fill="#727272"/>
<rect x="105.8" y="298.3" width="2" height="13.7" fill="#ffffff"/>
<rect x="107.8" y="298.3" width="1.4" height="13.7" fill="#343434"/>
<rect x="109.2" y="298.3" width="5.3" height="13.7" fill="#c1c1c1"/>
<rect x="114.5" y="298.3" width="1.9" height="13.7" fill="#606060"/>
<rect x="116.4" y="298.3" width="2.4" height="13.7" fill="#ffffff"/>
<rect x="118.8" y="298.3" width="4.4" height="13.7" fill="#848484"/>
<rect x="123.2" y="298.3" width="2" height="13.7" fill="#2c2c2c"/>
</g>
<linearGradient id="bgC" x1="0" x2="1" y1="0" y2="0"><stop offset="0" stop-color="#ff181e"/><stop offset="0.27" stop-color="#ff283c"/><stop offset="0.5" stop-color="#fa6e96"/><stop offset="0.51" stop-color="#f5a8d6"/><stop offset="0.64" stop-color="#ecb6e8"/><stop offset="0.65" stop-color="#cecefa"/><stop offset="0.78" stop-color="#bebafa"/><stop offset="0.79" stop-color="#6460f0"/><stop offset="0.94" stop-color="#422ee4"/><stop offset="0.94" stop-color="#1e00cd"/><stop offset="1" stop-color="#1c00c8"/></linearGradient>
<rect x="26.5" y="312" width="98.7" height="3.3" fill="url(#bgC)"/>
<text transform="translate(27.5,317.9) scale(0.1)" font-size="26" fill="#f03030" textLength="270" lengthAdjust="spacingAndGlyphs">'1' positively correlated</text>
<polygon points="26.5,331.4 26.5,320.6 26.89,321.6 27.68,322.4 31.44,323.8 36.37,324.8 41.3,325.5 48.21,326.8 55.12,328 62.03,328.9 68.94,330 77.33,331.4 85.72,331.7 97.56,332 105.46,332.5 113.36,333.4 119.28,334.3 122.24,335 123.72,336 124.71,337.4 125.2,338.6 125.2,331.4" fill="#c4c4c4" stroke="#b4b4b4" stroke-width="0.3"/>
<text transform="translate(77.85,329.9) scale(0.1)" font-size="25" fill="#444" textLength="196" lengthAdjust="spacingAndGlyphs">Zero cross at 10338</text>
<text transform="translate(78.25,343.15) scale(0.1)" font-size="26" fill="#4848f0" textLength="277" lengthAdjust="spacingAndGlyphs">'2' negatively correlated</text>
<text transform="translate(25.1,317.4) scale(0.1)" font-size="27" fill="#555" text-anchor="end" textLength="33" lengthAdjust="spacingAndGlyphs">1.0</text>
<text transform="translate(25.1,324.9) scale(0.1)" font-size="27" fill="#555" text-anchor="end" textLength="40" lengthAdjust="spacingAndGlyphs">0.5</text>
<text transform="translate(25.1,332.4) scale(0.1)" font-size="27" fill="#555" text-anchor="end" textLength="40" lengthAdjust="spacingAndGlyphs">0.0</text>
<text transform="translate(25.1,339.9) scale(0.1)" font-size="27" fill="#555" text-anchor="end" textLength="40" lengthAdjust="spacingAndGlyphs">-0.5</text>
<text transform="translate(18.8,330) rotate(-90) scale(0.1)" font-size="31" fill="#333" text-anchor="middle" textLength="435" lengthAdjust="spacingAndGlyphs" stroke="#333" stroke-width="0.6">Ranked list metric (Signal2Noise)</text>
<text transform="translate(26.5,348.1) scale(0.1)" font-size="27" fill="#333" text-anchor="middle" stroke="#333" stroke-width="0.6">0</text>
<text transform="translate(36.57,348.1) scale(0.1)" font-size="27" fill="#333" text-anchor="middle" textLength="60" lengthAdjust="spacingAndGlyphs" stroke="#333" stroke-width="0.6">2,000</text>
<text transform="translate(46.64,348.1) scale(0.1)" font-size="27" fill="#333" text-anchor="middle" textLength="60" lengthAdjust="spacingAndGlyphs" stroke="#333" stroke-width="0.6">4,000</text>
<text transform="translate(56.71,348.1) scale(0.1)" font-size="27" fill="#333" text-anchor="middle" textLength="60" lengthAdjust="spacingAndGlyphs" stroke="#333" stroke-width="0.6">6,000</text>
<text transform="translate(66.79,348.1) scale(0.1)" font-size="27" fill="#333" text-anchor="middle" textLength="60" lengthAdjust="spacingAndGlyphs" stroke="#333" stroke-width="0.6">8,000</text>
<text transform="translate(76.86,348.1) scale(0.1)" font-size="27" fill="#333" text-anchor="middle" textLength="73" lengthAdjust="spacingAndGlyphs" stroke="#333" stroke-width="0.6">10,000</text>
<text transform="translate(86.93,348.1) scale(0.1)" font-size="27" fill="#333" text-anchor="middle" textLength="73" lengthAdjust="spacingAndGlyphs" stroke="#333" stroke-width="0.6">12,000</text>
<text transform="translate(97,348.1) scale(0.1)" font-size="27" fill="#333" text-anchor="middle" textLength="73" lengthAdjust="spacingAndGlyphs" stroke="#333" stroke-width="0.6">14,000</text>
<text transform="translate(107.07,348.1) scale(0.1)" font-size="27" fill="#333" text-anchor="middle" textLength="73" lengthAdjust="spacingAndGlyphs" stroke="#333" stroke-width="0.6">16,000</text>
<text transform="translate(117.14,348.1) scale(0.1)" font-size="27" fill="#333" text-anchor="middle" textLength="73" lengthAdjust="spacingAndGlyphs" stroke="#333" stroke-width="0.6">18,000</text>
<text transform="translate(127.21,348.1) scale(0.1)" font-size="27" fill="#333" text-anchor="middle" textLength="73" lengthAdjust="spacingAndGlyphs" stroke="#333" stroke-width="0.6">20,000</text>
<text transform="translate(78.36,352) scale(0.1)" font-size="32" fill="#333" text-anchor="middle" textLength="330" lengthAdjust="spacingAndGlyphs" stroke="#333" stroke-width="0.5">Rank in Ordered Dataset</text>
<rect x="31.3" y="355.2" width="82.6" height="6.3" fill="#fff" stroke="#808080" stroke-width="0.45"/>
<line x1="32.2" y1="358.75" x2="36.1" y2="358.75" stroke="#14f014" stroke-width="1.1"/>
<text transform="translate(36.6,359.45) scale(0.1)" font-size="31" fill="#222" textLength="227" lengthAdjust="spacingAndGlyphs">Enrichment profile</text>
<line x1="61.5" y1="358.65" x2="64.1" y2="358.65" stroke="#555" stroke-width="0.35" stroke-dasharray="1,0.6"/>
<text transform="translate(66.3,359.45) scale(0.1)" font-size="31" fill="#222" textLength="48" lengthAdjust="spacingAndGlyphs">Hits</text>
<line x1="76.3" y1="358.65" x2="80.8" y2="358.65" stroke="#999" stroke-width="0.35" stroke-dasharray="0.8,1.2"/>
<text transform="translate(83.1,359.45) scale(0.1)" font-size="31" fill="#222" textLength="296" lengthAdjust="spacingAndGlyphs">Ranking metric scores</text>
<text transform="translate(147.4,235.4) scale(0.1)" font-size="132" fill="#000" stroke="#000" stroke-width="2.5">D</text>
<rect x="147" y="242" width="119.2" height="118.5" fill="#f3f3f3"/>
<text transform="translate(189.4,246.75) scale(0.1)" font-size="43.3" fill="#000" font-weight="bold" textLength="344" lengthAdjust="spacingAndGlyphs" stroke="#000" stroke-width="2">Enrichment plot:</text>
<text transform="translate(148.1,252.75) scale(0.1)" font-size="43.3" fill="#000" font-weight="bold" textLength="1175" lengthAdjust="spacingAndGlyphs" stroke="#000" stroke-width="2">KEGG_CYTOKINE_CYTOKINE_RECEPTOR_INTERACTIO</text>
<text transform="translate(205.6,259.05) scale(0.1)" font-size="43.3" fill="#000" font-weight="bold" textLength="30" lengthAdjust="spacingAndGlyphs" stroke="#000" stroke-width="2">N</text>
<rect x="161" y="261.5" width="103.8" height="81.2" fill="#ffffff"/>
<path d="M171.08 261.5V300.6M171.08 318.3V342.7M181.16 261.5V300.6M181.16 318.3V342.7M191.24 261.5V300.6M191.24 318.3V342.7M201.33 261.5V300.6M201.33 318.3V342.7M211.41 261.5V300.6M211.41 318.3V342.7M221.49 261.5V300.6M221.49 318.3V342.7M231.57 261.5V300.6M231.57 318.3V342.7M241.65 261.5V300.6M241.65 318.3V342.7M251.73 261.5V300.6M251.73 318.3V342.7M261.82 261.5V300.6M261.82 318.3V342.7M161 298.3H264.8M161 291.2H264.8M161 284.1H264.8M161 277H264.8M161 269.9H264.8M161 262.8H264.8M161 318.3H264.8M161 325.3H264.8M161 339.3H264.8" stroke="#f1f1f1" stroke-width="0.5" fill="none"/>
<line x1="161" y1="298.3" x2="264.8" y2="298.3" stroke="#cfcfcf" stroke-width="0.5"/>
<text transform="translate(159.5,299.4) scale(0.1)" font-size="30" fill="#555" text-anchor="end" textLength="44" lengthAdjust="spacingAndGlyphs">0.0</text>
<text transform="translate(159.5,292.3) scale(0.1)" font-size="30" fill="#555" text-anchor="end" textLength="44" lengthAdjust="spacingAndGlyphs">0.1</text>
<text transform="translate(159.5,285.2) scale(0.1)" font-size="30" fill="#555" text-anchor="end" textLength="44" lengthAdjust="spacingAndGlyphs">0.2</text>
<text transform="translate(159.5,278.1) scale(0.1)" font-size="30" fill="#555" text-anchor="end" textLength="44" lengthAdjust="spacingAndGlyphs">0.3</text>
<text transform="translate(159.5,271) scale(0.1)" font-size="30" fill="#555" text-anchor="end" textLength="44" lengthAdjust="spacingAndGlyphs">0.4</text>
<text transform="translate(159.5,263.9) scale(0.1)" font-size="30" fill="#555" text-anchor="end" textLength="44" lengthAdjust="spacingAndGlyphs">0.5</text>
<text transform="translate(152.8,281.55) rotate(-90) scale(0.1)" font-size="32" fill="#333" text-anchor="middle" textLength="370" lengthAdjust="spacingAndGlyphs" stroke="#333" stroke-width="0.6">Enrichment score (ES)</text>
<polyline points="161.2,299 161.32,298.02 161.44,297.02 161.56,295.82 161.68,294.8 161.8,293.5 162.5,292.41 163.2,291.7 163.46,290.66 163.72,289.51 163.98,288.34 164.24,287.56 164.5,286.3 165.5,284.5 166.8,283.1 167.25,281.76 167.7,280.84 168.15,279.28 168.6,278.1 168.98,277.03 169.36,276.04 169.74,274.94 170.12,273.47 170.5,272.6 171.22,271.72 171.94,270.4 172.66,269.52 173.38,268.4 174.1,267.6 175.17,267.05 176.23,266.25 177.3,265.8 178.37,265.05 179.43,264.61 180.5,264 182.3,264.5 184.1,263.5 185.17,263.93 186.23,264.45 187.3,264.9 188.43,265.36 189.55,265.9 190.68,266.45 191.8,266.7 192.95,267.38 194.1,267.64 195.25,268.11 196.4,268.5 197.53,269.02 198.65,269.37 199.78,270.07 200.9,270.4 202.05,270.66 203.2,271.52 204.35,271.74 205.5,272.2 206.62,272.93 207.75,273.5 208.88,273.79 210,274.6 211.18,275.04 212.35,275.49 213.52,275.84 214.7,276.5 215.66,277.28 216.62,277.78 217.58,278.56 218.54,278.91 219.5,279.8 220.44,280.68 221.38,281.08 222.32,281.95 223.26,282.57 224.2,283.1 225.14,283.56 226.08,284.54 227.02,285.19 227.96,285.89 228.9,286.4 230.07,287.14 231.25,287.48 232.43,288.25 233.6,288.8 234.8,289.61 236,289.82 237.2,290.46 238.4,291.1 239.57,291.55 240.75,292.08 241.93,292.65 243.1,293 244.04,293.6 244.98,294.39 245.92,295.15 246.86,295.4 247.8,296.3 249.2,295.4 250.6,296.8 251.8,297.16 253,297.3 254.2,298.03 255.4,298.2 256.7,298.57 258,298.74 259.3,299.2" fill="none" stroke="#10f010" stroke-width="1.45" stroke-linejoin="round"/>
<text transform="translate(172.9,284.15) scale(0.1)" font-size="49" fill="#1a1a1a" textLength="234" lengthAdjust="spacingAndGlyphs" stroke="#1a1a1a" stroke-width="1.2">NES=1.786</text>
<text transform="translate(172.9,290.65) scale(0.1)" font-size="49" fill="#1a1a1a" textLength="363" lengthAdjust="spacingAndGlyphs" stroke="#1a1a1a" stroke-width="1.2">NOM p-val=0.008</text>
<text transform="translate(172.9,296.95) scale(0.1)" font-size="49" fill="#1a1a1a" textLength="347" lengthAdjust="spacingAndGlyphs" stroke="#1a1a1a" stroke-width="1.2">FDR q-val=0.391</text>
<rect x="161" y="301.6" width="98.8" height="12.4" fill="#fff"/>
<g filter="url(#bcblur)">
<rect x="161" y="301.6" width="1.9" height="12.4" fill="#2c2c2c"/>
<rect x="162.9" y="301.6" width="1.9" height="12.4" fill="#696969"/>
<rect x="164.8" y="301.6" width="2.4" height="12.4" fill="#9e9e9e"/>
<rect x="167.2" y="301.6" width="6.7" height="12.4" fill="#0f0f0f"/>
<rect x="173.9" y="301.6" width="1.5" height="12.4" fill="#606060"/>
<rect x="175.4" y="301.6" width="5.8" height="12.4" fill="#535353"/>
<rect x="181.2" y="301.6" width="1.9" height="12.4" fill="#b0b0b0"/>
<rect x="183.1" y="301.6" width="1.4" height="12.4" fill="#343434"/>
<rect x="184.5" y="301.6" width="1.5" height="12.4" fill="#9e9e9e"/>
<rect x="186" y="301.6" width="1.9" height="12.4" fill="#696969"/>
<rect x="187.9" y="301.6" width="1.9" height="12.4" fill="#b8b8b8"/>
<rect x="189.8" y="301.6" width="1.5" height="12.4" fill="#2c2c2c"/>
<rect x="191.3" y="301.6" width="1.4" height="12.4" fill="#727272"/>
<rect x="192.7" y="301.6" width="1.5" height="12.4" fill="#ffffff"/>
<rect x="194.2" y="301.6" width="0.9" height="12.4" fill="#343434"/>
<rect x="195.1" y="301.6" width="1.5" height="12.4" fill="#ffffff"/>
<rect x="196.6" y="301.6" width="2.9" height="12.4" fill="#696969"/>
<rect x="199.5" y="301.6" width="1.9" height="12.4" fill="#b0b0b0"/>
<rect x="201.4" y="301.6" width="2.9" height="12.4" fill="#191919"/>
<rect x="204.3" y="301.6" width="1.9" height="12.4" fill="#ffffff"/>
<rect x="206.2" y="301.6" width="1.5" height="12.4" fill="#696969"/>
<rect x="207.7" y="301.6" width="1.4" height="12.4" fill="#191919"/>
<rect x="209.1" y="301.6" width="0.9" height="12.4" fill="#b0b0b0"/>
<rect x="210" y="301.6" width="5.8" height="12.4" fill="#424242"/>
<rect x="215.8" y="301.6" width="1.4" height="12.4" fill="#ffffff"/>
<rect x="217.2" y="301.6" width="2.4" height="12.4" fill="#464646"/>
<rect x="219.6" y="301.6" width="1.5" height="12.4" fill="#b0b0b0"/>
<rect x="221.1" y="301.6" width="4.3" height="12.4" fill="#727272"/>
<rect x="225.4" y="301.6" width="2.9" height="12.4" fill="#f0f0f0"/>
<rect x="228.3" y="301.6" width="4.3" height="12.4" fill="#141414"/>
<rect x="232.6" y="301.6" width="2" height="12.4" fill="#606060"/>
<rect x="234.6" y="301.6" width="1.4" height="12.4" fill="#ffffff"/>
<rect x="236" y="301.6" width="2.9" height="12.4" fill="#696969"/>
<rect x="238.9" y="301.6" width="1" height="12.4" fill="#ffffff"/>
<rect x="239.9" y="301.6" width="3.3" height="12.4" fill="#696969"/>
<rect x="243.2" y="301.6" width="4.9" height="12.4" fill="#f5f5f5"/>
<rect x="248.1" y="301.6" width="1.4" height="12.4" fill="#1e1e1e"/>
<rect x="249.5" y="301.6" width="1.4" height="12.4" fill="#ffffff"/>
<rect x="250.9" y="301.6" width="2.9" height="12.4" fill="#727272"/>
<rect x="253.8" y="301.6" width="2" height="12.4" fill="#ffffff"/>
<rect x="255.8" y="301.6" width="4" height="12.4" fill="#7b7b7b"/>
</g>
<linearGradient id="bgD" x1="0" x2="1" y1="0" y2="0"><stop offset="0" stop-color="#ff181e"/><stop offset="0.27" stop-color="#ff283c"/><stop offset="0.5" stop-color="#fa6e96"/><stop offset="0.51" stop-color="#f5a8d6"/><stop offset="0.64" stop-color="#ecb6e8"/><stop offset="0.65" stop-color="#cecefa"/><stop offset="0.78" stop-color="#bebafa"/><stop offset="0.79" stop-color="#6460f0"/><stop offset="0.94" stop-color="#422ee4"/><stop offset="0.94" stop-color="#1e00cd"/><stop offset="1" stop-color="#1c00c8"/></linearGradient>
<rect x="161" y="314" width="98.8" height="3.3" fill="url(#bgD)"/>
<text transform="translate(162,319.9) scale(0.1)" font-size="26" fill="#f03030" textLength="270" lengthAdjust="spacingAndGlyphs">'1' positively correlated</text>
<polygon points="161,332.3 161,321.5 161.4,322.5 162.19,323.3 165.94,324.7 170.88,325.7 175.82,326.4 182.74,327.7 189.65,328.9 196.57,329.8 203.48,330.9 211.88,332.3 220.28,332.6 232.14,332.9 240.04,333.4 247.94,334.3 253.87,335.2 256.84,335.9 258.32,336.9 259.31,338.3 259.8,339.5 259.8,332.3" fill="#c4c4c4" stroke="#b4b4b4" stroke-width="0.3"/>
<text transform="translate(212.4,330.8) scale(0.1)" font-size="25" fill="#444" textLength="196" lengthAdjust="spacingAndGlyphs">Zero cross at 10338</text>
<text transform="translate(212.8,342.65) scale(0.1)" font-size="26" fill="#4848f0" textLength="277" lengthAdjust="spacingAndGlyphs">'2' negatively correlated</text>
<text transform="translate(159.6,319.3) scale(0.1)" font-size="27" fill="#555" text-anchor="end" textLength="33" lengthAdjust="spacingAndGlyphs">1.0</text>
<text transform="translate(159.6,326.3) scale(0.1)" font-size="27" fill="#555" text-anchor="end" textLength="40" lengthAdjust="spacingAndGlyphs">0.5</text>
<text transform="translate(159.6,333.3) scale(0.1)" font-size="27" fill="#555" text-anchor="end" textLength="40" lengthAdjust="spacingAndGlyphs">0.0</text>
<text transform="translate(159.6,340.3) scale(0.1)" font-size="27" fill="#555" text-anchor="end" textLength="40" lengthAdjust="spacingAndGlyphs">-0.5</text>
<text transform="translate(153,330.9) rotate(-90) scale(0.1)" font-size="31" fill="#333" text-anchor="middle" textLength="435" lengthAdjust="spacingAndGlyphs" stroke="#333" stroke-width="0.6">Ranked list metric (Signal2Noise)</text>
<text transform="translate(161,348.3) scale(0.1)" font-size="27" fill="#333" text-anchor="middle" stroke="#333" stroke-width="0.6">0</text>
<text transform="translate(171.08,348.3) scale(0.1)" font-size="27" fill="#333" text-anchor="middle" textLength="60" lengthAdjust="spacingAndGlyphs" stroke="#333" stroke-width="0.6">2,000</text>
<text transform="translate(181.16,348.3) scale(0.1)" font-size="27" fill="#333" text-anchor="middle" textLength="60" lengthAdjust="spacingAndGlyphs" stroke="#333" stroke-width="0.6">4,000</text>
<text transform="translate(191.24,348.3) scale(0.1)" font-size="27" fill="#333" text-anchor="middle" textLength="60" lengthAdjust="spacingAndGlyphs" stroke="#333" stroke-width="0.6">6,000</text>
<text transform="translate(201.33,348.3) scale(0.1)" font-size="27" fill="#333" text-anchor="middle" textLength="60" lengthAdjust="spacingAndGlyphs" stroke="#333" stroke-width="0.6">8,000</text>
<text transform="translate(211.41,348.3) scale(0.1)" font-size="27" fill="#333" text-anchor="middle" textLength="73" lengthAdjust="spacingAndGlyphs" stroke="#333" stroke-width="0.6">10,000</text>
<text transform="translate(221.49,348.3) scale(0.1)" font-size="27" fill="#333" text-anchor="middle" textLength="73" lengthAdjust="spacingAndGlyphs" stroke="#333" stroke-width="0.6">12,000</text>
<text transform="translate(231.57,348.3) scale(0.1)" font-size="27" fill="#333" text-anchor="middle" textLength="73" lengthAdjust="spacingAndGlyphs" stroke="#333" stroke-width="0.6">14,000</text>
<text transform="translate(241.65,348.3) scale(0.1)" font-size="27" fill="#333" text-anchor="middle" textLength="73" lengthAdjust="spacingAndGlyphs" stroke="#333" stroke-width="0.6">16,000</text>
<text transform="translate(251.73,348.3) scale(0.1)" font-size="27" fill="#333" text-anchor="middle" textLength="73" lengthAdjust="spacingAndGlyphs" stroke="#333" stroke-width="0.6">18,000</text>
<text transform="translate(261.82,348.3) scale(0.1)" font-size="27" fill="#333" text-anchor="middle" textLength="73" lengthAdjust="spacingAndGlyphs" stroke="#333" stroke-width="0.6">20,000</text>
<text transform="translate(212.91,352.2) scale(0.1)" font-size="32" fill="#333" text-anchor="middle" textLength="330" lengthAdjust="spacingAndGlyphs" stroke="#333" stroke-width="0.5">Rank in Ordered Dataset</text>
<rect x="165.2" y="355.5" width="82" height="6.1" fill="#fff" stroke="#808080" stroke-width="0.45"/>
<line x1="166.1" y1="358.95" x2="170" y2="358.95" stroke="#14f014" stroke-width="1.1"/>
<text transform="translate(170.5,359.65) scale(0.1)" font-size="31" fill="#222" textLength="227" lengthAdjust="spacingAndGlyphs">Enrichment profile</text>
<line x1="195.4" y1="358.85" x2="198" y2="358.85" stroke="#555" stroke-width="0.35" stroke-dasharray="1,0.6"/>
<text transform="translate(200.2,359.65) scale(0.1)" font-size="31" fill="#222" textLength="48" lengthAdjust="spacingAndGlyphs">Hits</text>
<line x1="210.2" y1="358.85" x2="214.7" y2="358.85" stroke="#999" stroke-width="0.35" stroke-dasharray="0.8,1.2"/>
<text transform="translate(217,359.65) scale(0.1)" font-size="31" fill="#222" textLength="296" lengthAdjust="spacingAndGlyphs">Ranking metric scores</text>
<text transform="translate(282.5,235.4) scale(0.1)" font-size="132" fill="#000" stroke="#000" stroke-width="2.5">E</text>
<rect x="281.7" y="242" width="119.3" height="118.6" fill="#f3f3f3"/>
<text transform="translate(323.1,246.75) scale(0.1)" font-size="43.3" fill="#000" font-weight="bold" textLength="344" lengthAdjust="spacingAndGlyphs" stroke="#000" stroke-width="2">Enrichment plot:</text>
<text transform="translate(297.3,252.65) scale(0.1)" font-size="43.3" fill="#000" font-weight="bold" textLength="875" lengthAdjust="spacingAndGlyphs" stroke="#000" stroke-width="2">KEGG_JAK_STAT_SIGNALING_PATHWAY</text>
<rect x="295" y="255.5" width="104.2" height="88" fill="#ffffff"/>
<path d="M305.08 255.5V297.3M305.08 316.3V343.5M315.16 255.5V297.3M315.16 316.3V343.5M325.24 255.5V297.3M325.24 316.3V343.5M335.33 255.5V297.3M335.33 316.3V343.5M345.41 255.5V297.3M345.41 316.3V343.5M355.49 255.5V297.3M355.49 316.3V343.5M365.57 255.5V297.3M365.57 316.3V343.5M375.65 255.5V297.3M375.65 316.3V343.5M385.73 255.5V297.3M385.73 316.3V343.5M395.82 255.5V297.3M395.82 316.3V343.5M295 294.6H399.2M295 286.52H399.2M295 278.44H399.2M295 270.36H399.2M295 262.28H399.2M295 316.4H399.2M295 323.9H399.2M295 338.9H399.2" stroke="#f1f1f1" stroke-width="0.5" fill="none"/>
<line x1="295" y1="294.6" x2="399.2" y2="294.6" stroke="#cfcfcf" stroke-width="0.5"/>
<text transform="translate(293.5,295.7) scale(0.1)" font-size="30" fill="#555" text-anchor="end" textLength="44" lengthAdjust="spacingAndGlyphs">0.0</text>
<text transform="translate(293.5,287.62) scale(0.1)" font-size="30" fill="#555" text-anchor="end" textLength="44" lengthAdjust="spacingAndGlyphs">0.1</text>
<text transform="translate(293.5,279.54) scale(0.1)" font-size="30" fill="#555" text-anchor="end" textLength="44" lengthAdjust="spacingAndGlyphs">0.2</text>
<text transform="translate(293.5,271.46) scale(0.1)" font-size="30" fill="#555" text-anchor="end" textLength="44" lengthAdjust="spacingAndGlyphs">0.3</text>
<text transform="translate(293.5,263.38) scale(0.1)" font-size="30" fill="#555" text-anchor="end" textLength="44" lengthAdjust="spacingAndGlyphs">0.4</text>
<text transform="translate(287.5,276.9) rotate(-90) scale(0.1)" font-size="32" fill="#333" text-anchor="middle" textLength="370" lengthAdjust="spacingAndGlyphs" stroke="#333" stroke-width="0.6">Enrichment score (ES)</text>
<polyline points="295.1,295.3 295.14,294.19 295.18,292.7 295.21,291.53 295.25,290.55 295.29,289.21 295.32,288.31 295.36,287.04 295.4,285.7 296.3,285.3 297.6,286.6 297.83,285.66 298.05,284.31 298.27,283.39 298.5,282.1 299.07,280.98 299.65,279.97 300.23,278.56 300.8,277.5 301.27,276.32 301.73,275.07 302.2,273.9 302.52,272.73 302.85,271.6 303.18,270.48 303.5,269.4 303.97,268.16 304.43,267.09 304.9,266.2 305.8,265.08 306.7,264.25 307.6,263.21 308.5,262.1 310.4,261.6 311.3,262.68 312.2,263.5 312.85,262.46 313.5,261.2 314.65,260.21 315.8,258.9 317.03,258.4 318.27,258.24 319.5,258 320.85,257.76 322.2,257.4 324,257.5 324.9,257.92 325.8,258.95 326.7,259.4 327.62,260.19 328.55,260.69 329.47,261.2 330.4,262.1 331.52,262.35 332.65,262.77 333.77,263.32 334.9,263.9 336.05,264.45 337.2,265.08 338.35,265.91 339.5,266.6 340.62,266.9 341.75,267 342.88,267.12 344,267.2 345.18,268.12 346.35,268.61 347.52,269.07 348.7,270 349.66,270.35 350.62,270.93 351.58,271.63 352.54,272.32 353.5,272.8 354.44,273.87 355.38,274.35 356.32,275.37 357.26,276.31 358.2,277.1 359.14,277.94 360.08,278.71 361.02,279.52 361.96,280.7 362.9,281.4 363.84,282.25 364.78,282.58 365.72,283.27 366.66,284.03 367.6,284.7 368.56,285.32 369.52,286.1 370.48,286.46 371.44,287.27 372.4,288 373.57,288.62 374.75,288.99 375.93,289.2 377.1,289.9 378.28,290.62 379.45,291.16 380.62,291.44 381.8,292.2 382.98,292.89 384.15,293.4 385.32,293.85 386.5,294.6 387.95,295.14 389.4,295.3 390.7,295.4 392,295.4 393.3,295.1" fill="none" stroke="#10f010" stroke-width="1.45" stroke-linejoin="round"/>
<text transform="translate(307,281.25) scale(0.1)" font-size="49" fill="#1a1a1a" textLength="234" lengthAdjust="spacingAndGlyphs" stroke="#1a1a1a" stroke-width="1.2">NES=1.697</text>
<text transform="translate(307,287.85) scale(0.1)" font-size="49" fill="#1a1a1a" textLength="363" lengthAdjust="spacingAndGlyphs" stroke="#1a1a1a" stroke-width="1.2">NOM p-val=0.025</text>
<text transform="translate(307,294.25) scale(0.1)" font-size="49" fill="#1a1a1a" textLength="347" lengthAdjust="spacingAndGlyphs" stroke="#1a1a1a" stroke-width="1.2">FDR q-val=0.346</text>
<rect x="295" y="298.3" width="98.8" height="13.7" fill="#fff"/>
<g filter="url(#bcblur)">
<rect x="295" y="298.3" width="0.9" height="13.7" fill="#2c2c2c"/>
<rect x="295.9" y="298.3" width="1.9" height="13.7" fill="#ffffff"/>
<rect x="297.8" y="298.3" width="1" height="13.7" fill="#2c2c2c"/>
<rect x="298.8" y="298.3" width="1.9" height="13.7" fill="#727272"/>
<rect x="300.7" y="298.3" width="3.4" height="13.7" fill="#303030"/>
<rect x="304.1" y="298.3" width="4.8" height="13.7" fill="#6e6e6e"/>
<rect x="308.9" y="298.3" width="1" height="13.7" fill="#343434"/>
<rect x="309.9" y="298.3" width="2.4" height="13.7" fill="#ffffff"/>
<rect x="312.3" y="298.3" width="2.9" height="13.7" fill="#303030"/>
<rect x="315.2" y="298.3" width="1.9" height="13.7" fill="#ffffff"/>
<rect x="317.1" y="298.3" width="1.4" height="13.7" fill="#343434"/>
<rect x="318.5" y="298.3" width="3.4" height="13.7" fill="#767676"/>
<rect x="321.9" y="298.3" width="1.9" height="13.7" fill="#343434"/>
<rect x="323.8" y="298.3" width="2.4" height="13.7" fill="#ffffff"/>
<rect x="326.2" y="298.3" width="1.5" height="13.7" fill="#7b7b7b"/>
<rect x="327.7" y="298.3" width="2.9" height="13.7" fill="#f0f0f0"/>
<rect x="330.6" y="298.3" width="2.9" height="13.7" fill="#4f4f4f"/>
<rect x="333.5" y="298.3" width="1.9" height="13.7" fill="#b0b0b0"/>
<rect x="335.4" y="298.3" width="1.4" height="13.7" fill="#343434"/>
<rect x="336.8" y="298.3" width="3.4" height="13.7" fill="#ffffff"/>
<rect x="340.2" y="298.3" width="3.9" height="13.7" fill="#4f4f4f"/>
<rect x="344.1" y="298.3" width="3.3" height="13.7" fill="#767676"/>
<rect x="347.4" y="298.3" width="1.9" height="13.7" fill="#141414"/>
<rect x="349.3" y="298.3" width="1.9" height="13.7" fill="#727272"/>
<rect x="351.2" y="298.3" width="2.4" height="13.7" fill="#3d3d3d"/>
<rect x="353.6" y="298.3" width="2.9" height="13.7" fill="#a7a7a7"/>
<rect x="356.5" y="298.3" width="2.9" height="13.7" fill="#ffffff"/>
<rect x="359.4" y="298.3" width="2.9" height="13.7" fill="#585858"/>
<rect x="362.3" y="298.3" width="1.4" height="13.7" fill="#b0b0b0"/>
<rect x="363.7" y="298.3" width="3.4" height="13.7" fill="#696969"/>
<rect x="367.1" y="298.3" width="2.9" height="13.7" fill="#a2a2a2"/>
<rect x="370" y="298.3" width="1" height="13.7" fill="#ffffff"/>
<rect x="371" y="298.3" width="2.9" height="13.7" fill="#696969"/>
<rect x="373.9" y="298.3" width="1.4" height="13.7" fill="#b8b8b8"/>
<rect x="375.3" y="298.3" width="3.4" height="13.7" fill="#696969"/>
<rect x="378.7" y="298.3" width="3.4" height="13.7" fill="#ffffff"/>
<rect x="382.1" y="298.3" width="1.4" height="13.7" fill="#343434"/>
<rect x="383.5" y="298.3" width="1.9" height="13.7" fill="#ffffff"/>
<rect x="385.4" y="298.3" width="3.9" height="13.7" fill="#a7a7a7"/>
<rect x="389.3" y="298.3" width="4.5" height="13.7" fill="#848484"/>
</g>
<linearGradient id="bgE" x1="0" x2="1" y1="0" y2="0"><stop offset="0" stop-color="#ff181e"/><stop offset="0.27" stop-color="#ff283c"/><stop offset="0.5" stop-color="#fa6e96"/><stop offset="0.51" stop-color="#f5a8d6"/><stop offset="0.64" stop-color="#ecb6e8"/><stop offset="0.65" stop-color="#cecefa"/><stop offset="0.78" stop-color="#bebafa"/><stop offset="0.79" stop-color="#6460f0"/><stop offset="0.94" stop-color="#422ee4"/><stop offset="0.94" stop-color="#1e00cd"/><stop offset="1" stop-color="#1c00c8"/></linearGradient>
<rect x="295" y="312" width="98.8" height="3.3" fill="url(#bgE)"/>
<text transform="translate(296,317.9) scale(0.1)" font-size="26" fill="#f03030" textLength="270" lengthAdjust="spacingAndGlyphs">'1' positively correlated</text>
<polygon points="295,331.4 295,320.6 295.4,321.6 296.19,322.4 299.94,323.8 304.88,324.8 309.82,325.5 316.74,326.8 323.65,328 330.57,328.9 337.48,330 345.88,331.4 354.28,331.7 366.14,332 374.04,332.5 381.94,333.4 387.87,334.3 390.84,335 392.32,336 393.31,337.4 393.8,338.6 393.8,331.4" fill="#c4c4c4" stroke="#b4b4b4" stroke-width="0.3"/>
<text transform="translate(346.4,329.9) scale(0.1)" font-size="25" fill="#444" textLength="196" lengthAdjust="spacingAndGlyphs">Zero cross at 10338</text>
<text transform="translate(346.8,343.15) scale(0.1)" font-size="26" fill="#4848f0" textLength="277" lengthAdjust="spacingAndGlyphs">'2' negatively correlated</text>
<text transform="translate(293.6,317.4) scale(0.1)" font-size="27" fill="#555" text-anchor="end" textLength="33" lengthAdjust="spacingAndGlyphs">1.0</text>
<text transform="translate(293.6,324.9) scale(0.1)" font-size="27" fill="#555" text-anchor="end" textLength="40" lengthAdjust="spacingAndGlyphs">0.5</text>
<text transform="translate(293.6,332.4) scale(0.1)" font-size="27" fill="#555" text-anchor="end" textLength="40" lengthAdjust="spacingAndGlyphs">0.0</text>
<text transform="translate(293.6,339.9) scale(0.1)" font-size="27" fill="#555" text-anchor="end" textLength="40" lengthAdjust="spacingAndGlyphs">-0.5</text>
<text transform="translate(287.7,330) rotate(-90) scale(0.1)" font-size="31" fill="#333" text-anchor="middle" textLength="435" lengthAdjust="spacingAndGlyphs" stroke="#333" stroke-width="0.6">Ranked list metric (Signal2Noise)</text>
<text transform="translate(295,348.1) scale(0.1)" font-size="27" fill="#333" text-anchor="middle" stroke="#333" stroke-width="0.6">0</text>
<text transform="translate(305.08,348.1) scale(0.1)" font-size="27" fill="#333" text-anchor="middle" textLength="60" lengthAdjust="spacingAndGlyphs" stroke="#333" stroke-width="0.6">2,000</text>
<text transform="translate(315.16,348.1) scale(0.1)" font-size="27" fill="#333" text-anchor="middle" textLength="60" lengthAdjust="spacingAndGlyphs" stroke="#333" stroke-width="0.6">4,000</text>
<text transform="translate(325.24,348.1) scale(0.1)" font-size="27" fill="#333" text-anchor="middle" textLength="60" lengthAdjust="spacingAndGlyphs" stroke="#333" stroke-width="0.6">6,000</text>
<text transform="translate(335.33,348.1) scale(0.1)" font-size="27" fill="#333" text-anchor="middle" textLength="60" lengthAdjust="spacingAndGlyphs" stroke="#333" stroke-width="0.6">8,000</text>
<text transform="translate(345.41,348.1) scale(0.1)" font-size="27" fill="#333" text-anchor="middle" textLength="73" lengthAdjust="spacingAndGlyphs" stroke="#333" stroke-width="0.6">10,000</text>
<text transform="translate(355.49,348.1) scale(0.1)" font-size="27" fill="#333" text-anchor="middle" textLength="73" lengthAdjust="spacingAndGlyphs" stroke="#333" stroke-width="0.6">12,000</text>
<text transform="translate(365.57,348.1) scale(0.1)" font-size="27" fill="#333" text-anchor="middle" textLength="73" lengthAdjust="spacingAndGlyphs" stroke="#333" stroke-width="0.6">14,000</text>
<text transform="translate(375.65,348.1) scale(0.1)" font-size="27" fill="#333" text-anchor="middle" textLength="73" lengthAdjust="spacingAndGlyphs" stroke="#333" stroke-width="0.6">16,000</text>
<text transform="translate(385.73,348.1) scale(0.1)" font-size="27" fill="#333" text-anchor="middle" textLength="73" lengthAdjust="spacingAndGlyphs" stroke="#333" stroke-width="0.6">18,000</text>
<text transform="translate(395.82,348.1) scale(0.1)" font-size="27" fill="#333" text-anchor="middle" textLength="73" lengthAdjust="spacingAndGlyphs" stroke="#333" stroke-width="0.6">20,000</text>
<text transform="translate(346.91,352) scale(0.1)" font-size="32" fill="#333" text-anchor="middle" textLength="330" lengthAdjust="spacingAndGlyphs" stroke="#333" stroke-width="0.5">Rank in Ordered Dataset</text>
<rect x="299.6" y="355.3" width="82.1" height="6" fill="#fff" stroke="#808080" stroke-width="0.45"/>
<line x1="300.5" y1="358.7" x2="304.4" y2="358.7" stroke="#14f014" stroke-width="1.1"/>
<text transform="translate(304.9,359.4) scale(0.1)" font-size="31" fill="#222" textLength="227" lengthAdjust="spacingAndGlyphs">Enrichment profile</text>
<line x1="329.8" y1="358.6" x2="332.4" y2="358.6" stroke="#555" stroke-width="0.35" stroke-dasharray="1,0.6"/>
<text transform="translate(334.6,359.4) scale(0.1)" font-size="31" fill="#222" textLength="48" lengthAdjust="spacingAndGlyphs">Hits</text>
<line x1="344.6" y1="358.6" x2="349.1" y2="358.6" stroke="#999" stroke-width="0.35" stroke-dasharray="0.8,1.2"/>
<text transform="translate(351.4,359.4) scale(0.1)" font-size="31" fill="#222" textLength="296" lengthAdjust="spacingAndGlyphs">Ranking metric scores</text>
<text transform="translate(417.4,235.4) scale(0.1)" font-size="132" fill="#000" stroke="#000" stroke-width="2.5">F</text>
<rect x="417.2" y="242" width="119.8" height="119" fill="#f3f3f3"/>
<text transform="translate(459.4,246.75) scale(0.1)" font-size="43.3" fill="#000" font-weight="bold" textLength="344" lengthAdjust="spacingAndGlyphs" stroke="#000" stroke-width="2">Enrichment plot:</text>
<text transform="translate(423.1,252.65) scale(0.1)" font-size="43.3" fill="#000" font-weight="bold" textLength="1079" lengthAdjust="spacingAndGlyphs" stroke="#000" stroke-width="2">KEGG_T_CELL_RECEPTOR_SIGNALING_PATHWAY</text>
<rect x="431.2" y="255.5" width="103.8" height="88" fill="#ffffff"/>
<path d="M441.28 255.5V297.3M441.28 316.3V343.5M451.36 255.5V297.3M451.36 316.3V343.5M461.44 255.5V297.3M461.44 316.3V343.5M471.53 255.5V297.3M471.53 316.3V343.5M481.61 255.5V297.3M481.61 316.3V343.5M491.69 255.5V297.3M491.69 316.3V343.5M501.77 255.5V297.3M501.77 316.3V343.5M511.85 255.5V297.3M511.85 316.3V343.5M521.93 255.5V297.3M521.93 316.3V343.5M532.02 255.5V297.3M532.02 316.3V343.5M431.2 291H535M431.2 284.24H535M431.2 277.48H535M431.2 270.72H535M431.2 263.96H535M431.2 257.2H535M431.2 316.4H535M431.2 323.9H535M431.2 338.9H535" stroke="#f1f1f1" stroke-width="0.5" fill="none"/>
<line x1="431.2" y1="291" x2="535" y2="291" stroke="#cfcfcf" stroke-width="0.5"/>
<text transform="translate(429.7,292.1) scale(0.1)" font-size="30" fill="#555" text-anchor="end" textLength="44" lengthAdjust="spacingAndGlyphs">0.0</text>
<text transform="translate(429.7,285.34) scale(0.1)" font-size="30" fill="#555" text-anchor="end" textLength="44" lengthAdjust="spacingAndGlyphs">0.1</text>
<text transform="translate(429.7,278.58) scale(0.1)" font-size="30" fill="#555" text-anchor="end" textLength="44" lengthAdjust="spacingAndGlyphs">0.2</text>
<text transform="translate(429.7,271.82) scale(0.1)" font-size="30" fill="#555" text-anchor="end" textLength="44" lengthAdjust="spacingAndGlyphs">0.3</text>
<text transform="translate(429.7,265.06) scale(0.1)" font-size="30" fill="#555" text-anchor="end" textLength="44" lengthAdjust="spacingAndGlyphs">0.4</text>
<text transform="translate(429.7,258.3) scale(0.1)" font-size="30" fill="#555" text-anchor="end" textLength="44" lengthAdjust="spacingAndGlyphs">0.5</text>
<text transform="translate(423,276.9) rotate(-90) scale(0.1)" font-size="32" fill="#333" text-anchor="middle" textLength="370" lengthAdjust="spacingAndGlyphs" stroke="#333" stroke-width="0.6">Enrichment score (ES)</text>
<polyline points="431.4,291.2 431.6,290.25 431.8,288.9 432.7,287.5 432.93,286.2 433.17,285.08 433.4,283.72 433.63,282.95 433.87,281.33 434.1,280.3 434.38,279.11 434.66,277.79 434.94,276.57 435.22,275.14 435.5,273.9 435.82,272.72 436.15,271.6 436.48,270.31 436.8,269.4 437.02,268.16 437.25,266.99 437.48,266.09 437.7,264.8 437.93,263.54 438.17,262.13 438.4,260.87 438.63,259.79 438.87,258.88 439.1,257.4 440.25,257.91 441.4,258.9 442.95,259.03 444.5,259.2 445.73,259.33 446.97,259.01 448.2,259.2 449.5,257.5 450.2,258.6 450.9,259.4 452.25,259.49 453.6,259.2 454.83,259.43 456.07,259.15 457.3,259.4 458.43,259.84 459.55,259.71 460.68,260.22 461.8,260.3 462.95,260.9 464.1,261.21 465.25,261.78 466.4,262.1 467.52,262.69 468.65,263.15 469.77,263.35 470.9,263.9 472.05,264.81 473.2,265.31 474.35,265.85 475.5,266.6 476.62,266.91 477.75,267.77 478.88,268.34 480,268.6 481.18,269.39 482.35,269.88 483.52,270.51 484.7,271 485.66,271.61 486.62,272.15 487.58,273.19 488.54,273.78 489.5,274.3 490.44,274.98 491.38,275.81 492.32,276.11 493.26,276.74 494.2,277.6 495.14,278.15 496.08,279.12 497.02,279.51 497.96,280.04 498.9,280.9 499.84,281.4 500.78,282.03 501.72,283.08 502.66,283.78 503.6,284.2 504.56,284.54 505.52,285.4 506.48,285.74 507.44,286.62 508.4,287 509.34,287.46 510.28,288.28 511.22,288.52 512.16,289.36 513.1,289.9 514.27,290.44 515.45,290.86 516.62,291.84 517.8,292.2 518.75,292.78 519.7,293.52 520.65,293.84 521.6,294.6 522.8,294.86 524,295.3 525.15,294.64 526.3,293.6 527.5,293.06 528.7,292.5 529.4,291.88 530.1,290.8" fill="none" stroke="#10f010" stroke-width="1.45" stroke-linejoin="round"/>
<text transform="translate(443,276.55) scale(0.1)" font-size="49" fill="#1a1a1a" textLength="234" lengthAdjust="spacingAndGlyphs" stroke="#1a1a1a" stroke-width="1.2">NES=1.611</text>
<text transform="translate(443,283.05) scale(0.1)" font-size="49" fill="#1a1a1a" textLength="363" lengthAdjust="spacingAndGlyphs" stroke="#1a1a1a" stroke-width="1.2">NOM p-val=0.048</text>
<text transform="translate(443,289.55) scale(0.1)" font-size="49" fill="#1a1a1a" textLength="347" lengthAdjust="spacingAndGlyphs" stroke="#1a1a1a" stroke-width="1.2">FDR q-val=0.236</text>
<rect x="431.2" y="298.3" width="98.8" height="13.7" fill="#fff"/>
<g filter="url(#bcblur)">
<rect x="431.2" y="298.3" width="1.7" height="13.7" fill="#2c2c2c"/>
<rect x="432.9" y="298.3" width="1.4" height="13.7" fill="#696969"/>
<rect x="434.3" y="298.3" width="3.4" height="13.7" fill="#303030"/>
<rect x="437.7" y="298.3" width="1.9" height="13.7" fill="#0f0f0f"/>
<rect x="439.6" y="298.3" width="3.4" height="13.7" fill="#ffffff"/>
<rect x="443" y="298.3" width="5.3" height="13.7" fill="#a2a2a2"/>
<rect x="448.3" y="298.3" width="1.9" height="13.7" fill="#343434"/>
<rect x="450.2" y="298.3" width="2.4" height="13.7" fill="#ffffff"/>
<rect x="452.6" y="298.3" width="1.4" height="13.7" fill="#727272"/>
<rect x="454" y="298.3" width="3.9" height="13.7" fill="#4f4f4f"/>
<rect x="457.9" y="298.3" width="1.4" height="13.7" fill="#ffffff"/>
<rect x="459.3" y="298.3" width="3.4" height="13.7" fill="#9e9e9e"/>
<rect x="462.7" y="298.3" width="1.5" height="13.7" fill="#696969"/>
<rect x="464.2" y="298.3" width="1.9" height="13.7" fill="#b8b8b8"/>
<rect x="466.1" y="298.3" width="1.4" height="13.7" fill="#343434"/>
<rect x="467.5" y="298.3" width="2" height="13.7" fill="#ffffff"/>
<rect x="469.5" y="298.3" width="1.4" height="13.7" fill="#696969"/>
<rect x="470.9" y="298.3" width="3.9" height="13.7" fill="#ffffff"/>
<rect x="474.8" y="298.3" width="6.2" height="13.7" fill="#767676"/>
<rect x="481" y="298.3" width="1.9" height="13.7" fill="#7b7b7b"/>
<rect x="482.9" y="298.3" width="1.4" height="13.7" fill="#ffffff"/>
<rect x="484.3" y="298.3" width="2.4" height="13.7" fill="#4f4f4f"/>
<rect x="486.7" y="298.3" width="1.5" height="13.7" fill="#b0b0b0"/>
<rect x="488.2" y="298.3" width="1.9" height="13.7" fill="#4f4f4f"/>
<rect x="490.1" y="298.3" width="3.9" height="13.7" fill="#ffffff"/>
<rect x="494" y="298.3" width="2.9" height="13.7" fill="#4f4f4f"/>
<rect x="496.9" y="298.3" width="1.4" height="13.7" fill="#b0b0b0"/>
<rect x="498.3" y="298.3" width="1.9" height="13.7" fill="#3d3d3d"/>
<rect x="500.2" y="298.3" width="1.5" height="13.7" fill="#ffffff"/>
<rect x="501.7" y="298.3" width="2.9" height="13.7" fill="#727272"/>
<rect x="504.6" y="298.3" width="4.3" height="13.7" fill="#ffffff"/>
<rect x="508.9" y="298.3" width="1" height="13.7" fill="#3d3d3d"/>
<rect x="509.9" y="298.3" width="1.4" height="13.7" fill="#ffffff"/>
<rect x="511.3" y="298.3" width="2.9" height="13.7" fill="#a2a2a2"/>
<rect x="514.2" y="298.3" width="1.4" height="13.7" fill="#ffffff"/>
<rect x="515.6" y="298.3" width="1" height="13.7" fill="#3d3d3d"/>
<rect x="516.6" y="298.3" width="7.7" height="13.7" fill="#ffffff"/>
<rect x="524.3" y="298.3" width="5.7" height="13.7" fill="#585858"/>
</g>
<linearGradient id="bgF" x1="0" x2="1" y1="0" y2="0"><stop offset="0" stop-color="#ff181e"/><stop offset="0.27" stop-color="#ff283c"/><stop offset="0.5" stop-color="#fa6e96"/><stop offset="0.51" stop-color="#f5a8d6"/><stop offset="0.64" stop-color="#ecb6e8"/><stop offset="0.65" stop-color="#cecefa"/><stop offset="0.78" stop-color="#bebafa"/><stop offset="0.79" stop-color="#6460f0"/><stop offset="0.94" stop-color="#422ee4"/><stop offset="0.94" stop-color="#1e00cd"/><stop offset="1" stop-color="#1c00c8"/></linearGradient>
<rect x="431.2" y="312" width="98.8" height="3.3" fill="url(#bgF)"/>
<text transform="translate(432.2,317.9) scale(0.1)" font-size="26" fill="#f03030" textLength="270" lengthAdjust="spacingAndGlyphs">'1' positively correlated</text>
<polygon points="431.2,331.4 431.2,320.6 431.6,321.6 432.39,322.4 436.14,323.8 441.08,324.8 446.02,325.5 452.94,326.8 459.85,328 466.77,328.9 473.68,330 482.08,331.4 490.48,331.7 502.34,332 510.24,332.5 518.14,333.4 524.07,334.3 527.04,335 528.52,336 529.51,337.4 530,338.6 530,331.4" fill="#c4c4c4" stroke="#b4b4b4" stroke-width="0.3"/>
<text transform="translate(482.6,329.9) scale(0.1)" font-size="25" fill="#444" textLength="196" lengthAdjust="spacingAndGlyphs">Zero cross at 10338</text>
<text transform="translate(483,343.15) scale(0.1)" font-size="26" fill="#4848f0" textLength="277" lengthAdjust="spacingAndGlyphs">'2' negatively correlated</text>
<text transform="translate(429.8,317.4) scale(0.1)" font-size="27" fill="#555" text-anchor="end" textLength="33" lengthAdjust="spacingAndGlyphs">1.0</text>
<text transform="translate(429.8,324.9) scale(0.1)" font-size="27" fill="#555" text-anchor="end" textLength="40" lengthAdjust="spacingAndGlyphs">0.5</text>
<text transform="translate(429.8,332.4) scale(0.1)" font-size="27" fill="#555" text-anchor="end" textLength="40" lengthAdjust="spacingAndGlyphs">0.0</text>
<text transform="translate(429.8,339.9) scale(0.1)" font-size="27" fill="#555" text-anchor="end" textLength="40" lengthAdjust="spacingAndGlyphs">-0.5</text>
<text transform="translate(423.2,330) rotate(-90) scale(0.1)" font-size="31" fill="#333" text-anchor="middle" textLength="435" lengthAdjust="spacingAndGlyphs" stroke="#333" stroke-width="0.6">Ranked list metric (Signal2Noise)</text>
<text transform="translate(431.2,348.1) scale(0.1)" font-size="27" fill="#333" text-anchor="middle" stroke="#333" stroke-width="0.6">0</text>
<text transform="translate(441.28,348.1) scale(0.1)" font-size="27" fill="#333" text-anchor="middle" textLength="60" lengthAdjust="spacingAndGlyphs" stroke="#333" stroke-width="0.6">2,000</text>
<text transform="translate(451.36,348.1) scale(0.1)" font-size="27" fill="#333" text-anchor="middle" textLength="60" lengthAdjust="spacingAndGlyphs" stroke="#333" stroke-width="0.6">4,000</text>
<text transform="translate(461.44,348.1) scale(0.1)" font-size="27" fill="#333" text-anchor="middle" textLength="60" lengthAdjust="spacingAndGlyphs" stroke="#333" stroke-width="0.6">6,000</text>
<text transform="translate(471.53,348.1) scale(0.1)" font-size="27" fill="#333" text-anchor="middle" textLength="60" lengthAdjust="spacingAndGlyphs" stroke="#333" stroke-width="0.6">8,000</text>
<text transform="translate(481.61,348.1) scale(0.1)" font-size="27" fill="#333" text-anchor="middle" textLength="73" lengthAdjust="spacingAndGlyphs" stroke="#333" stroke-width="0.6">10,000</text>
<text transform="translate(491.69,348.1) scale(0.1)" font-size="27" fill="#333" text-anchor="middle" textLength="73" lengthAdjust="spacingAndGlyphs" stroke="#333" stroke-width="0.6">12,000</text>
<text transform="translate(501.77,348.1) scale(0.1)" font-size="27" fill="#333" text-anchor="middle" textLength="73" lengthAdjust="spacingAndGlyphs" stroke="#333" stroke-width="0.6">14,000</text>
<text transform="translate(511.85,348.1) scale(0.1)" font-size="27" fill="#333" text-anchor="middle" textLength="73" lengthAdjust="spacingAndGlyphs" stroke="#333" stroke-width="0.6">16,000</text>
<text transform="translate(521.93,348.1) scale(0.1)" font-size="27" fill="#333" text-anchor="middle" textLength="73" lengthAdjust="spacingAndGlyphs" stroke="#333" stroke-width="0.6">18,000</text>
<text transform="translate(532.02,348.1) scale(0.1)" font-size="27" fill="#333" text-anchor="middle" textLength="73" lengthAdjust="spacingAndGlyphs" stroke="#333" stroke-width="0.6">20,000</text>
<text transform="translate(483.11,352) scale(0.1)" font-size="32" fill="#333" text-anchor="middle" textLength="330" lengthAdjust="spacingAndGlyphs" stroke="#333" stroke-width="0.5">Rank in Ordered Dataset</text>
<rect x="436.3" y="355.3" width="82.3" height="6.1" fill="#fff" stroke="#808080" stroke-width="0.45"/>
<line x1="437.2" y1="358.75" x2="441.1" y2="358.75" stroke="#14f014" stroke-width="1.1"/>
<text transform="translate(441.6,359.45) scale(0.1)" font-size="31" fill="#222" textLength="227" lengthAdjust="spacingAndGlyphs">Enrichment profile</text>
<line x1="466.5" y1="358.65" x2="469.1" y2="358.65" stroke="#555" stroke-width="0.35" stroke-dasharray="1,0.6"/>
<text transform="translate(471.3,359.45) scale(0.1)" font-size="31" fill="#222" textLength="48" lengthAdjust="spacingAndGlyphs">Hits</text>
<line x1="481.3" y1="358.65" x2="485.8" y2="358.65" stroke="#999" stroke-width="0.35" stroke-dasharray="0.8,1.2"/>
<text transform="translate(488.1,359.45) scale(0.1)" font-size="31" fill="#222" textLength="296" lengthAdjust="spacingAndGlyphs">Ranking metric scores</text>
<text transform="translate(13.9,384) scale(0.1)" font-size="132" fill="#000" stroke="#000" stroke-width="2.5">G</text>
<rect x="13" y="389.4" width="119.4" height="119.2" fill="#f3f3f3"/>
<text transform="translate(55,393.85) scale(0.1)" font-size="43.3" fill="#000" font-weight="bold" textLength="344" lengthAdjust="spacingAndGlyphs" stroke="#000" stroke-width="2">Enrichment plot:</text>
<text transform="translate(16.8,399.75) scale(0.1)" font-size="43.3" fill="#000" font-weight="bold" textLength="1121" lengthAdjust="spacingAndGlyphs" stroke="#000" stroke-width="2">GOBP_REGULATION_OF_B_CELL_DIFFERENTIATION</text>
<rect x="26.3" y="402.5" width="104.2" height="87.9" fill="#ffffff"/>
<path d="M36.39 402.5V444M36.39 463.2V490.4M46.48 402.5V444M46.48 463.2V490.4M56.58 402.5V444M56.58 463.2V490.4M66.67 402.5V444M66.67 463.2V490.4M76.76 402.5V444M76.76 463.2V490.4M86.85 402.5V444M86.85 463.2V490.4M96.94 402.5V444M96.94 463.2V490.4M107.03 402.5V444M107.03 463.2V490.4M117.13 402.5V444M117.13 463.2V490.4M127.22 402.5V444M127.22 463.2V490.4M26.3 442.3H130.5M26.3 436.52H130.5M26.3 430.74H130.5M26.3 424.96H130.5M26.3 419.18H130.5M26.3 413.4H130.5M26.3 407.62H130.5M26.3 463.1H130.5M26.3 470.6H130.5M26.3 485.6H130.5" stroke="#f1f1f1" stroke-width="0.5" fill="none"/>
<line x1="26.3" y1="442.3" x2="130.5" y2="442.3" stroke="#cfcfcf" stroke-width="0.5"/>
<text transform="translate(24.8,443.4) scale(0.1)" font-size="30" fill="#555" text-anchor="end" textLength="44" lengthAdjust="spacingAndGlyphs">0.0</text>
<text transform="translate(24.8,437.62) scale(0.1)" font-size="30" fill="#555" text-anchor="end" textLength="44" lengthAdjust="spacingAndGlyphs">0.1</text>
<text transform="translate(24.8,431.84) scale(0.1)" font-size="30" fill="#555" text-anchor="end" textLength="44" lengthAdjust="spacingAndGlyphs">0.2</text>
<text transform="translate(24.8,426.06) scale(0.1)" font-size="30" fill="#555" text-anchor="end" textLength="44" lengthAdjust="spacingAndGlyphs">0.3</text>
<text transform="translate(24.8,420.28) scale(0.1)" font-size="30" fill="#555" text-anchor="end" textLength="44" lengthAdjust="spacingAndGlyphs">0.4</text>
<text transform="translate(24.8,414.5) scale(0.1)" font-size="30" fill="#555" text-anchor="end" textLength="44" lengthAdjust="spacingAndGlyphs">0.5</text>
<text transform="translate(24.8,408.72) scale(0.1)" font-size="30" fill="#555" text-anchor="end" textLength="44" lengthAdjust="spacingAndGlyphs">0.6</text>
<text transform="translate(18.8,423.75) rotate(-90) scale(0.1)" font-size="32" fill="#333" text-anchor="middle" textLength="370" lengthAdjust="spacingAndGlyphs" stroke="#333" stroke-width="0.6">Enrichment score (ES)</text>
<polyline points="26.4,441.8 26.53,440.51 26.67,439.46 26.8,438.2 27.95,438.15 29.1,438.6 29.23,437.47 29.37,436.03 29.5,434.5 29.6,433.49 29.7,431.86 29.8,430.57 29.9,429.24 30,428.2 30.45,426.9 30.9,425.9 32.7,426.4 33.15,425.01 33.6,424.1 34.5,423.6 34.62,422.35 34.75,420.83 34.88,419.71 35,418.2 35.15,417.11 35.3,415.69 35.45,414.38 35.6,413.26 35.75,411.88 35.9,410.9 36.35,409.62 36.8,408.2 37.4,406.78 38,405.49 38.6,404.4 40.5,405 41.7,405.79 42.9,406.17 44.1,406.8 45,405.9 46.8,407.1 48.6,406.4 49.52,407.3 50.45,407.99 51.38,408.51 52.3,409.1 53.42,409.65 54.55,410.27 55.67,411 56.8,411.8 57.95,412.59 59.1,413.16 60.25,413.72 61.4,414.5 62.52,414.83 63.65,415.58 64.78,416.17 65.9,416.8 67.05,417.16 68.2,417.82 69.35,418.42 70.5,419.1 72.3,418.6 73.65,418.96 75,419.4 76.17,419.92 77.35,420.48 78.53,421.15 79.7,421.5 80.66,422.02 81.62,422.54 82.58,423.26 83.54,423.84 84.5,424.6 85.67,425.34 86.85,425.99 88.03,426.61 89.2,427.4 90.38,427.9 91.55,428.93 92.73,429.56 93.9,430.2 94.84,430.84 95.78,431.46 96.72,432.12 97.66,432.29 98.6,433.1 99.8,433.59 101,434.39 102.2,435.15 103.4,435.7 104.58,436 105.75,436.3 106.92,436.5 108.1,436.9 109.27,437.35 110.45,438.24 111.62,438.87 112.8,439.2 113.97,439.8 115.15,440.38 116.33,440.81 117.5,441.6 119,442.3 119.7,441.5 120.4,440.6 121.3,441.6 122.7,440.5 124.1,441.1 125.4,441.6" fill="none" stroke="#10f010" stroke-width="1.45" stroke-linejoin="round"/>
<text transform="translate(38.8,427.25) scale(0.1)" font-size="49" fill="#1a1a1a" textLength="234" lengthAdjust="spacingAndGlyphs" stroke="#1a1a1a" stroke-width="1.2">NES=1.782</text>
<text transform="translate(38.8,433.95) scale(0.1)" font-size="49" fill="#1a1a1a" textLength="363" lengthAdjust="spacingAndGlyphs" stroke="#1a1a1a" stroke-width="1.2">NOM p-val=0.010</text>
<text transform="translate(38.8,440.55) scale(0.1)" font-size="49" fill="#1a1a1a" textLength="347" lengthAdjust="spacingAndGlyphs" stroke="#1a1a1a" stroke-width="1.2">FDR q-val=0.246</text>
<rect x="26.3" y="445" width="98.9" height="13.8" fill="#fff"/>
<g filter="url(#bcblur)">
<rect x="26.4" y="445" width="1" height="13.8" fill="#b0b0b0"/>
<rect x="28.9" y="445" width="1.4" height="13.8" fill="#424242"/>
<rect x="30.3" y="445" width="3.9" height="13.8" fill="#b0b0b0"/>
<rect x="34.2" y="445" width="1.9" height="13.8" fill="#232323"/>
<rect x="36.1" y="445" width="2.4" height="13.8" fill="#919191"/>
<rect x="43.8" y="445" width="1.4" height="13.8" fill="#848484"/>
<rect x="47.6" y="445" width="1.3" height="13.8" fill="#7b7b7b"/>
<rect x="70.3" y="445" width="1.9" height="13.8" fill="#7b7b7b"/>
<rect x="74.1" y="445" width="1.9" height="13.8" fill="#6e6e6e"/>
<rect x="78.9" y="445" width="0.9" height="13.8" fill="#696969"/>
<rect x="81.3" y="445" width="0.9" height="13.8" fill="#7b7b7b"/>
<rect x="85.1" y="445" width="1" height="13.8" fill="#7b7b7b"/>
<rect x="88" y="445" width="1" height="13.8" fill="#959595"/>
<rect x="94.7" y="445" width="1" height="13.8" fill="#7b7b7b"/>
<rect x="108.2" y="445" width="1" height="13.8" fill="#6e6e6e"/>
<rect x="118.8" y="445" width="1.5" height="13.8" fill="#6e6e6e"/>
<rect x="121.7" y="445" width="1" height="13.8" fill="#a2a2a2"/>
</g>
<linearGradient id="bgG" x1="0" x2="1" y1="0" y2="0"><stop offset="0" stop-color="#ff181e"/><stop offset="0.27" stop-color="#ff283c"/><stop offset="0.5" stop-color="#fa6e96"/><stop offset="0.51" stop-color="#f5a8d6"/><stop offset="0.64" stop-color="#ecb6e8"/><stop offset="0.65" stop-color="#cecefa"/><stop offset="0.78" stop-color="#bebafa"/><stop offset="0.79" stop-color="#6460f0"/><stop offset="0.94" stop-color="#422ee4"/><stop offset="0.94" stop-color="#1e00cd"/><stop offset="1" stop-color="#1c00c8"/></linearGradient>
<rect x="26.3" y="458.8" width="98.9" height="3.4" fill="url(#bgG)"/>
<text transform="translate(27.3,464.8) scale(0.1)" font-size="26" fill="#f03030" textLength="270" lengthAdjust="spacingAndGlyphs">'1' positively correlated</text>
<polygon points="26.3,478.1 26.3,467.3 26.7,468.3 27.49,469.1 31.25,470.5 36.19,471.5 41.14,472.2 48.06,473.5 54.98,474.7 61.9,475.6 68.83,476.7 77.23,478.1 85.64,478.4 97.51,478.7 105.42,479.2 113.33,480.1 119.27,481 122.23,481.7 123.72,482.7 124.71,484.1 125.2,485.3 125.2,478.1" fill="#c4c4c4" stroke="#b4b4b4" stroke-width="0.3"/>
<text transform="translate(77.75,476.6) scale(0.1)" font-size="25" fill="#444" textLength="196" lengthAdjust="spacingAndGlyphs">Zero cross at 10338</text>
<text transform="translate(78.15,489.85) scale(0.1)" font-size="26" fill="#4848f0" textLength="277" lengthAdjust="spacingAndGlyphs">'2' negatively correlated</text>
<text transform="translate(24.9,464.1) scale(0.1)" font-size="27" fill="#555" text-anchor="end" textLength="33" lengthAdjust="spacingAndGlyphs">1.0</text>
<text transform="translate(24.9,471.6) scale(0.1)" font-size="27" fill="#555" text-anchor="end" textLength="40" lengthAdjust="spacingAndGlyphs">0.5</text>
<text transform="translate(24.9,479.1) scale(0.1)" font-size="27" fill="#555" text-anchor="end" textLength="40" lengthAdjust="spacingAndGlyphs">0.0</text>
<text transform="translate(24.9,486.6) scale(0.1)" font-size="27" fill="#555" text-anchor="end" textLength="40" lengthAdjust="spacingAndGlyphs">-0.5</text>
<text transform="translate(19,476.7) rotate(-90) scale(0.1)" font-size="31" fill="#333" text-anchor="middle" textLength="435" lengthAdjust="spacingAndGlyphs" stroke="#333" stroke-width="0.6">Ranked list metric (Signal2Noise)</text>
<text transform="translate(26.3,495.4) scale(0.1)" font-size="27" fill="#333" text-anchor="middle" stroke="#333" stroke-width="0.6">0</text>
<text transform="translate(36.39,495.4) scale(0.1)" font-size="27" fill="#333" text-anchor="middle" textLength="60" lengthAdjust="spacingAndGlyphs" stroke="#333" stroke-width="0.6">2,000</text>
<text transform="translate(46.48,495.4) scale(0.1)" font-size="27" fill="#333" text-anchor="middle" textLength="60" lengthAdjust="spacingAndGlyphs" stroke="#333" stroke-width="0.6">4,000</text>
<text transform="translate(56.58,495.4) scale(0.1)" font-size="27" fill="#333" text-anchor="middle" textLength="60" lengthAdjust="spacingAndGlyphs" stroke="#333" stroke-width="0.6">6,000</text>
<text transform="translate(66.67,495.4) scale(0.1)" font-size="27" fill="#333" text-anchor="middle" textLength="60" lengthAdjust="spacingAndGlyphs" stroke="#333" stroke-width="0.6">8,000</text>
<text transform="translate(76.76,495.4) scale(0.1)" font-size="27" fill="#333" text-anchor="middle" textLength="73" lengthAdjust="spacingAndGlyphs" stroke="#333" stroke-width="0.6">10,000</text>
<text transform="translate(86.85,495.4) scale(0.1)" font-size="27" fill="#333" text-anchor="middle" textLength="73" lengthAdjust="spacingAndGlyphs" stroke="#333" stroke-width="0.6">12,000</text>
<text transform="translate(96.94,495.4) scale(0.1)" font-size="27" fill="#333" text-anchor="middle" textLength="73" lengthAdjust="spacingAndGlyphs" stroke="#333" stroke-width="0.6">14,000</text>
<text transform="translate(107.03,495.4) scale(0.1)" font-size="27" fill="#333" text-anchor="middle" textLength="73" lengthAdjust="spacingAndGlyphs" stroke="#333" stroke-width="0.6">16,000</text>
<text transform="translate(117.13,495.4) scale(0.1)" font-size="27" fill="#333" text-anchor="middle" textLength="73" lengthAdjust="spacingAndGlyphs" stroke="#333" stroke-width="0.6">18,000</text>
<text transform="translate(127.22,495.4) scale(0.1)" font-size="27" fill="#333" text-anchor="middle" textLength="73" lengthAdjust="spacingAndGlyphs" stroke="#333" stroke-width="0.6">20,000</text>
<text transform="translate(78.26,499.3) scale(0.1)" font-size="32" fill="#333" text-anchor="middle" textLength="330" lengthAdjust="spacingAndGlyphs" stroke="#333" stroke-width="0.5">Rank in Ordered Dataset</text>
<rect x="31" y="502.1" width="82.9" height="5.6" fill="#fff" stroke="#808080" stroke-width="0.45"/>
<line x1="31.9" y1="505.3" x2="35.8" y2="505.3" stroke="#14f014" stroke-width="1.1"/>
<text transform="translate(36.3,506) scale(0.1)" font-size="31" fill="#222" textLength="227" lengthAdjust="spacingAndGlyphs">Enrichment profile</text>
<line x1="61.2" y1="505.2" x2="63.8" y2="505.2" stroke="#555" stroke-width="0.35" stroke-dasharray="1,0.6"/>
<text transform="translate(66,506) scale(0.1)" font-size="31" fill="#222" textLength="48" lengthAdjust="spacingAndGlyphs">Hits</text>
<line x1="76" y1="505.2" x2="80.5" y2="505.2" stroke="#999" stroke-width="0.35" stroke-dasharray="0.8,1.2"/>
<text transform="translate(82.8,506) scale(0.1)" font-size="31" fill="#222" textLength="296" lengthAdjust="spacingAndGlyphs">Ranking metric scores</text>
<text transform="translate(148.2,384) scale(0.1)" font-size="132" fill="#000" stroke="#000" stroke-width="2.5">H</text>
<rect x="147.5" y="389.4" width="118.8" height="119.4" fill="#f3f3f3"/>
<text transform="translate(189,394.15) scale(0.1)" font-size="43.3" fill="#000" font-weight="bold" textLength="344" lengthAdjust="spacingAndGlyphs" stroke="#000" stroke-width="2">Enrichment plot:</text>
<text transform="translate(148,399.95) scale(0.1)" font-size="43.3" fill="#000" font-weight="bold" textLength="1176" lengthAdjust="spacingAndGlyphs" stroke="#000" stroke-width="2">GOBP_POSITIVE_REGULATION_OF_NATURAL_KILLER_</text>
<text transform="translate(171.9,406.15) scale(0.1)" font-size="43.3" fill="#000" font-weight="bold" textLength="700" lengthAdjust="spacingAndGlyphs" stroke="#000" stroke-width="2">CELL_MEDIATED_CYTOTOXICITY</text>
<rect x="161" y="409" width="103.8" height="82.2" fill="#ffffff"/>
<path d="M171.08 409V447.8M171.08 466V491.2M181.16 409V447.8M181.16 466V491.2M191.24 409V447.8M191.24 466V491.2M201.33 409V447.8M201.33 466V491.2M211.41 409V447.8M211.41 466V491.2M221.49 409V447.8M221.49 466V491.2M231.57 409V447.8M231.57 466V491.2M241.65 409V447.8M241.65 466V491.2M251.73 409V447.8M251.73 466V491.2M261.82 409V447.8M261.82 466V491.2M161 446.4H264.8M161 441.1H264.8M161 435.8H264.8M161 430.5H264.8M161 425.2H264.8M161 419.9H264.8M161 414.6H264.8M161 465.8H264.8M161 472.8H264.8M161 486.8H264.8" stroke="#f1f1f1" stroke-width="0.5" fill="none"/>
<line x1="161" y1="446.4" x2="264.8" y2="446.4" stroke="#cfcfcf" stroke-width="0.5"/>
<text transform="translate(159.5,447.5) scale(0.1)" font-size="30" fill="#555" text-anchor="end" textLength="44" lengthAdjust="spacingAndGlyphs">0.0</text>
<text transform="translate(159.5,442.2) scale(0.1)" font-size="30" fill="#555" text-anchor="end" textLength="44" lengthAdjust="spacingAndGlyphs">0.1</text>
<text transform="translate(159.5,436.9) scale(0.1)" font-size="30" fill="#555" text-anchor="end" textLength="44" lengthAdjust="spacingAndGlyphs">0.2</text>
<text transform="translate(159.5,431.6) scale(0.1)" font-size="30" fill="#555" text-anchor="end" textLength="44" lengthAdjust="spacingAndGlyphs">0.3</text>
<text transform="translate(159.5,426.3) scale(0.1)" font-size="30" fill="#555" text-anchor="end" textLength="44" lengthAdjust="spacingAndGlyphs">0.4</text>
<text transform="translate(159.5,421) scale(0.1)" font-size="30" fill="#555" text-anchor="end" textLength="44" lengthAdjust="spacingAndGlyphs">0.5</text>
<text transform="translate(159.5,415.7) scale(0.1)" font-size="30" fill="#555" text-anchor="end" textLength="44" lengthAdjust="spacingAndGlyphs">0.6</text>
<text transform="translate(159.5,410.4) scale(0.1)" font-size="30" fill="#555" text-anchor="end" textLength="44" lengthAdjust="spacingAndGlyphs">0.7</text>
<text transform="translate(153.3,428.9) rotate(-90) scale(0.1)" font-size="32" fill="#333" text-anchor="middle" textLength="370" lengthAdjust="spacingAndGlyphs" stroke="#333" stroke-width="0.6">Enrichment score (ES)</text>
<polyline points="161.1,446.5 161.22,445.14 161.33,444.25 161.45,443.29 161.57,441.82 161.68,440.77 161.8,439.6 163.2,439.2 163.38,437.96 163.56,436.96 163.74,435.75 163.92,434.53 164.1,433.3 164.38,432.26 164.66,430.84 164.94,429.38 165.22,428.12 165.5,426.9 165.8,425.9 166.1,424.86 166.4,423.7 167.7,422.8 167.92,421.41 168.15,420.45 168.38,419.02 168.6,417.8 169.07,416.87 169.53,415.46 170,414.6 170.47,413.21 170.93,411.76 171.4,410.7 173.2,411.3 174.18,411.89 175.17,412.44 176.15,413.12 177.13,413.69 178.12,414.64 179.1,415.1 179.8,414.02 180.5,412.8 182.05,412.52 183.6,412.4 184.83,413 186.07,413.44 187.3,414.2 188.5,415.02 189.7,415.6 190.9,416 192.25,415.59 193.6,415.1 194.75,415.6 195.9,416.68 197.05,416.98 198.2,417.8 199.4,417.44 200.6,417.49 201.8,417.4 203.03,417.94 204.27,418.78 205.5,419.2 206.75,419.67 208,420.5 208.98,420.79 209.96,421.49 210.94,421.8 211.92,422.62 212.9,423.04 213.88,423.75 214.86,424.29 215.84,424.45 216.82,425.23 217.8,425.6 218.78,426.14 219.76,426.91 220.74,427.01 221.72,427.74 222.7,428.54 223.68,428.62 224.66,429.28 225.64,429.82 226.62,430.39 227.6,431 228.58,431.79 229.56,431.93 230.54,432.78 231.52,433.04 232.5,433.89 233.48,434.06 234.46,434.58 235.44,435.56 236.42,435.62 237.4,436.4 238.9,436.87 240.4,437.2 241.55,437.5 242.7,438.14 243.85,438.46 245,439.06 246.15,439.54 247.3,439.9 248.53,440.62 249.75,440.91 250.97,441.86 252.2,442.3 253.2,442.73 254.2,443.46 255.2,444.13 256.2,444.66 257.2,445.1 258.2,445.64 259.2,446.2" fill="none" stroke="#10f010" stroke-width="1.45" stroke-linejoin="round"/>
<text transform="translate(171,432.05) scale(0.1)" font-size="49" fill="#1a1a1a" textLength="234" lengthAdjust="spacingAndGlyphs" stroke="#1a1a1a" stroke-width="1.2">NES=1.781</text>
<text transform="translate(171,438.55) scale(0.1)" font-size="49" fill="#1a1a1a" textLength="363" lengthAdjust="spacingAndGlyphs" stroke="#1a1a1a" stroke-width="1.2">NOM p-val=0.016</text>
<text transform="translate(171,444.85) scale(0.1)" font-size="49" fill="#1a1a1a" textLength="347" lengthAdjust="spacingAndGlyphs" stroke="#1a1a1a" stroke-width="1.2">FDR q-val=0.246</text>
<rect x="161" y="448.8" width="98.8" height="13.1" fill="#fff"/>
<g filter="url(#bcblur)">
<rect x="160.9" y="448.8" width="1" height="13.1" fill="#4f4f4f"/>
<rect x="163.3" y="448.8" width="2.9" height="13.1" fill="#7b7b7b"/>
<rect x="164.2" y="448.8" width="0.7" height="13.1" fill="#4f4f4f"/>
<rect x="166.2" y="448.8" width="2.4" height="13.1" fill="#888888"/>
<rect x="170.1" y="448.8" width="1.9" height="13.1" fill="#7b7b7b"/>
<rect x="178.7" y="448.8" width="2" height="13.1" fill="#888888"/>
<rect x="182.6" y="448.8" width="1.4" height="13.1" fill="#848484"/>
<rect x="191.3" y="448.8" width="2.4" height="13.1" fill="#888888"/>
<rect x="199" y="448.8" width="2.9" height="13.1" fill="#888888"/>
<rect x="212.9" y="448.8" width="1.1" height="13.1" fill="#848484"/>
<rect x="225.9" y="448.8" width="1.4" height="13.1" fill="#919191"/>
<rect x="238.9" y="448.8" width="1.4" height="13.1" fill="#848484"/>
<rect x="245.8" y="448.8" width="1" height="13.1" fill="#919191"/>
</g>
<linearGradient id="bgH" x1="0" x2="1" y1="0" y2="0"><stop offset="0" stop-color="#ff181e"/><stop offset="0.27" stop-color="#ff283c"/><stop offset="0.5" stop-color="#fa6e96"/><stop offset="0.51" stop-color="#f5a8d6"/><stop offset="0.64" stop-color="#ecb6e8"/><stop offset="0.65" stop-color="#cecefa"/><stop offset="0.78" stop-color="#bebafa"/><stop offset="0.79" stop-color="#6460f0"/><stop offset="0.94" stop-color="#422ee4"/><stop offset="0.94" stop-color="#1e00cd"/><stop offset="1" stop-color="#1c00c8"/></linearGradient>
<rect x="161" y="461.9" width="98.8" height="3.1" fill="url(#bgH)"/>
<text transform="translate(162,467.6) scale(0.1)" font-size="26" fill="#f03030" textLength="270" lengthAdjust="spacingAndGlyphs">'1' positively correlated</text>
<polygon points="161,479.8 161,469 161.4,470 162.19,470.8 165.94,472.2 170.88,473.2 175.82,473.9 182.74,475.2 189.65,476.4 196.57,477.3 203.48,478.4 211.88,479.8 220.28,480.1 232.14,480.4 240.04,480.9 247.94,481.8 253.87,482.7 256.84,483.4 258.32,484.4 259.31,485.8 259.8,487 259.8,479.8" fill="#c4c4c4" stroke="#b4b4b4" stroke-width="0.3"/>
<text transform="translate(212.4,478.3) scale(0.1)" font-size="25" fill="#444" textLength="196" lengthAdjust="spacingAndGlyphs">Zero cross at 10338</text>
<text transform="translate(212.8,489.75) scale(0.1)" font-size="26" fill="#4848f0" textLength="277" lengthAdjust="spacingAndGlyphs">'2' negatively correlated</text>
<text transform="translate(159.6,466.8) scale(0.1)" font-size="27" fill="#555" text-anchor="end" textLength="33" lengthAdjust="spacingAndGlyphs">1.0</text>
<text transform="translate(159.6,473.8) scale(0.1)" font-size="27" fill="#555" text-anchor="end" textLength="40" lengthAdjust="spacingAndGlyphs">0.5</text>
<text transform="translate(159.6,480.8) scale(0.1)" font-size="27" fill="#555" text-anchor="end" textLength="40" lengthAdjust="spacingAndGlyphs">0.0</text>
<text transform="translate(159.6,487.8) scale(0.1)" font-size="27" fill="#555" text-anchor="end" textLength="40" lengthAdjust="spacingAndGlyphs">-0.5</text>
<text transform="translate(153.5,478.4) rotate(-90) scale(0.1)" font-size="31" fill="#333" text-anchor="middle" textLength="435" lengthAdjust="spacingAndGlyphs" stroke="#333" stroke-width="0.6">Ranked list metric (Signal2Noise)</text>
<text transform="translate(161,495.5) scale(0.1)" font-size="27" fill="#333" text-anchor="middle" stroke="#333" stroke-width="0.6">0</text>
<text transform="translate(171.08,495.5) scale(0.1)" font-size="27" fill="#333" text-anchor="middle" textLength="60" lengthAdjust="spacingAndGlyphs" stroke="#333" stroke-width="0.6">2,000</text>
<text transform="translate(181.16,495.5) scale(0.1)" font-size="27" fill="#333" text-anchor="middle" textLength="60" lengthAdjust="spacingAndGlyphs" stroke="#333" stroke-width="0.6">4,000</text>
<text transform="translate(191.24,495.5) scale(0.1)" font-size="27" fill="#333" text-anchor="middle" textLength="60" lengthAdjust="spacingAndGlyphs" stroke="#333" stroke-width="0.6">6,000</text>
<text transform="translate(201.33,495.5) scale(0.1)" font-size="27" fill="#333" text-anchor="middle" textLength="60" lengthAdjust="spacingAndGlyphs" stroke="#333" stroke-width="0.6">8,000</text>
<text transform="translate(211.41,495.5) scale(0.1)" font-size="27" fill="#333" text-anchor="middle" textLength="73" lengthAdjust="spacingAndGlyphs" stroke="#333" stroke-width="0.6">10,000</text>
<text transform="translate(221.49,495.5) scale(0.1)" font-size="27" fill="#333" text-anchor="middle" textLength="73" lengthAdjust="spacingAndGlyphs" stroke="#333" stroke-width="0.6">12,000</text>
<text transform="translate(231.57,495.5) scale(0.1)" font-size="27" fill="#333" text-anchor="middle" textLength="73" lengthAdjust="spacingAndGlyphs" stroke="#333" stroke-width="0.6">14,000</text>
<text transform="translate(241.65,495.5) scale(0.1)" font-size="27" fill="#333" text-anchor="middle" textLength="73" lengthAdjust="spacingAndGlyphs" stroke="#333" stroke-width="0.6">16,000</text>
<text transform="translate(251.73,495.5) scale(0.1)" font-size="27" fill="#333" text-anchor="middle" textLength="73" lengthAdjust="spacingAndGlyphs" stroke="#333" stroke-width="0.6">18,000</text>
<text transform="translate(261.82,495.5) scale(0.1)" font-size="27" fill="#333" text-anchor="middle" textLength="73" lengthAdjust="spacingAndGlyphs" stroke="#333" stroke-width="0.6">20,000</text>
<text transform="translate(212.91,499.4) scale(0.1)" font-size="32" fill="#333" text-anchor="middle" textLength="330" lengthAdjust="spacingAndGlyphs" stroke="#333" stroke-width="0.5">Rank in Ordered Dataset</text>
<rect x="165.3" y="502.3" width="82" height="5.4" fill="#fff" stroke="#808080" stroke-width="0.45"/>
<line x1="166.2" y1="505.4" x2="170.1" y2="505.4" stroke="#14f014" stroke-width="1.1"/>
<text transform="translate(170.6,506.1) scale(0.1)" font-size="31" fill="#222" textLength="227" lengthAdjust="spacingAndGlyphs">Enrichment profile</text>
<line x1="195.5" y1="505.3" x2="198.1" y2="505.3" stroke="#555" stroke-width="0.35" stroke-dasharray="1,0.6"/>
<text transform="translate(200.3,506.1) scale(0.1)" font-size="31" fill="#222" textLength="48" lengthAdjust="spacingAndGlyphs">Hits</text>
<line x1="210.3" y1="505.3" x2="214.8" y2="505.3" stroke="#999" stroke-width="0.35" stroke-dasharray="0.8,1.2"/>
<text transform="translate(217.1,506.1) scale(0.1)" font-size="31" fill="#222" textLength="296" lengthAdjust="spacingAndGlyphs">Ranking metric scores</text>
<text transform="translate(286,384) scale(0.1)" font-size="132" fill="#000" stroke="#000" stroke-width="2.5">I</text>
<rect x="281.5" y="389.6" width="119.1" height="119.2" fill="#f3f3f3"/>
<text transform="translate(323.1,394.15) scale(0.1)" font-size="43.3" fill="#000" font-weight="bold" textLength="344" lengthAdjust="spacingAndGlyphs" stroke="#000" stroke-width="2">Enrichment plot:</text>
<text transform="translate(282.8,399.95) scale(0.1)" font-size="43.3" fill="#000" font-weight="bold" textLength="1170" lengthAdjust="spacingAndGlyphs" stroke="#000" stroke-width="2">GOBP_NEGATIVE_REGULATION_OF_LEUKOCYTE_CHE</text>
<text transform="translate(331.3,406.15) scale(0.1)" font-size="43.3" fill="#000" font-weight="bold" textLength="195" lengthAdjust="spacingAndGlyphs" stroke="#000" stroke-width="2">MOTAXIS</text>
<rect x="295" y="409" width="104.5" height="82.2" fill="#ffffff"/>
<path d="M305.08 409V447.8M305.08 466V491.2M315.16 409V447.8M315.16 466V491.2M325.24 409V447.8M325.24 466V491.2M335.33 409V447.8M335.33 466V491.2M345.41 409V447.8M345.41 466V491.2M355.49 409V447.8M355.49 466V491.2M365.57 409V447.8M365.57 466V491.2M375.65 409V447.8M375.65 466V491.2M385.73 409V447.8M385.73 466V491.2M395.82 409V447.8M395.82 466V491.2M295 445.3H399.5M295 439.7H399.5M295 434.1H399.5M295 428.5H399.5M295 422.9H399.5M295 417.3H399.5M295 411.7H399.5M295 465.8H399.5M295 472.8H399.5M295 486.8H399.5" stroke="#f1f1f1" stroke-width="0.5" fill="none"/>
<line x1="295" y1="445.3" x2="399.5" y2="445.3" stroke="#cfcfcf" stroke-width="0.5"/>
<text transform="translate(293.5,446.4) scale(0.1)" font-size="30" fill="#555" text-anchor="end" textLength="44" lengthAdjust="spacingAndGlyphs">0.0</text>
<text transform="translate(293.5,440.8) scale(0.1)" font-size="30" fill="#555" text-anchor="end" textLength="44" lengthAdjust="spacingAndGlyphs">0.1</text>
<text transform="translate(293.5,435.2) scale(0.1)" font-size="30" fill="#555" text-anchor="end" textLength="44" lengthAdjust="spacingAndGlyphs">0.2</text>
<text transform="translate(293.5,429.6) scale(0.1)" font-size="30" fill="#555" text-anchor="end" textLength="44" lengthAdjust="spacingAndGlyphs">0.3</text>
<text transform="translate(293.5,424) scale(0.1)" font-size="30" fill="#555" text-anchor="end" textLength="44" lengthAdjust="spacingAndGlyphs">0.4</text>
<text transform="translate(293.5,418.4) scale(0.1)" font-size="30" fill="#555" text-anchor="end" textLength="44" lengthAdjust="spacingAndGlyphs">0.5</text>
<text transform="translate(293.5,412.8) scale(0.1)" font-size="30" fill="#555" text-anchor="end" textLength="44" lengthAdjust="spacingAndGlyphs">0.6</text>
<text transform="translate(287.3,428.9) rotate(-90) scale(0.1)" font-size="32" fill="#333" text-anchor="middle" textLength="370" lengthAdjust="spacingAndGlyphs" stroke="#333" stroke-width="0.6">Enrichment score (ES)</text>
<polyline points="295.4,445.3 296.45,445.79 297.5,446.5 297.62,445.3 297.74,444.13 297.86,442.88 297.98,441.74 298.1,440.5 298.2,439.28 298.3,438.09 298.4,436.72 298.5,435.46 298.6,434.32 298.7,433.37 298.8,431.78 298.9,430.74 299,429.6 299.28,428.48 299.56,427.47 299.84,426.33 300.12,425.46 300.4,424.2 301.75,425.07 303.1,425.5 303.55,424.18 304,422.8 305.8,422.4 306.1,421.02 306.4,420.12 306.7,418.7 306.9,417.78 307.1,416.48 307.3,415.55 307.5,414.49 307.7,413.43 307.9,411.96 308.1,411 309.12,411.43 310.15,412.3 311.18,412.61 312.2,413.3 313.32,413.81 314.45,414.32 315.57,415.31 316.7,415.8 317.85,416.29 319,416.89 320.15,417.73 321.3,418.3 323.1,419.2 323.5,417.4 324.52,417.74 325.55,418.64 326.58,418.84 327.6,419.6 328.75,420.41 329.9,420.57 331.05,421.15 332.2,421.9 333.1,421.18 334,420.5 334.9,419.98 335.8,419.2 336.7,419.84 337.6,420.5 338.7,420.53 339.8,420.22 340.9,420.45 342,420.2 343,420.59 344,421.23 345,421.96 346,422.3 347,422.67 348,423.53 349,423.76 350,424.5 351,425.02 352,425.55 353,426.18 354,426.57 355,427.52 356,428.03 357,428.46 358,429 359.06,429.5 360.12,430.14 361.19,430.68 362.25,431.35 363.31,431.99 364.38,432.72 365.44,433 366.5,433.8 367.75,434.42 369,434.6 370.5,434.4 371.57,435.23 372.64,435.67 373.71,436.31 374.79,436.71 375.86,437.4 376.93,437.94 378,438.8 379.02,439.18 380.05,440.06 381.07,440.37 382.1,441.2 383.12,441.81 384.15,442.21 385.18,442.91 386.2,443.4 386.5,442.15 386.8,440.8 387.86,441.5 388.91,442.13 389.97,442.8 391.03,443.2 392.09,444.26 393.14,444.51 394.2,445.3" fill="none" stroke="#10f010" stroke-width="1.45" stroke-linejoin="round"/>
<text transform="translate(306.2,430.35) scale(0.1)" font-size="49" fill="#1a1a1a" textLength="234" lengthAdjust="spacingAndGlyphs" stroke="#1a1a1a" stroke-width="1.2">NES=1.780</text>
<text transform="translate(306.2,436.85) scale(0.1)" font-size="49" fill="#1a1a1a" textLength="363" lengthAdjust="spacingAndGlyphs" stroke="#1a1a1a" stroke-width="1.2">NOM p-val=0.010</text>
<text transform="translate(306.2,443.25) scale(0.1)" font-size="49" fill="#1a1a1a" textLength="347" lengthAdjust="spacingAndGlyphs" stroke="#1a1a1a" stroke-width="1.2">FDR q-val=0.244</text>
<rect x="295" y="448.8" width="98.8" height="13.1" fill="#fff"/>
<g filter="url(#bcblur)">
<rect x="297.6" y="448.8" width="1.7" height="13.1" fill="#585858"/>
<rect x="302.6" y="448.8" width="1" height="13.1" fill="#919191"/>
<rect x="306" y="448.8" width="2.4" height="13.1" fill="#7b7b7b"/>
<rect x="322.9" y="448.8" width="0.9" height="13.1" fill="#848484"/>
<rect x="332" y="448.8" width="1" height="13.1" fill="#848484"/>
<rect x="334.4" y="448.8" width="1.5" height="13.1" fill="#585858"/>
<rect x="339.2" y="448.8" width="2.5" height="13.1" fill="#919191"/>
<rect x="366.9" y="448.8" width="1" height="13.1" fill="#848484"/>
<rect x="369" y="448.8" width="1.2" height="13.1" fill="#848484"/>
<rect x="385.9" y="448.8" width="1" height="13.1" fill="#7b7b7b"/>
</g>
<linearGradient id="bgI" x1="0" x2="1" y1="0" y2="0"><stop offset="0" stop-color="#ff181e"/><stop offset="0.27" stop-color="#ff283c"/><stop offset="0.5" stop-color="#fa6e96"/><stop offset="0.51" stop-color="#f5a8d6"/><stop offset="0.64" stop-color="#ecb6e8"/><stop offset="0.65" stop-color="#cecefa"/><stop offset="0.78" stop-color="#bebafa"/><stop offset="0.79" stop-color="#6460f0"/><stop offset="0.94" stop-color="#422ee4"/><stop offset="0.94" stop-color="#1e00cd"/><stop offset="1" stop-color="#1c00c8"/></linearGradient>
<rect x="295" y="461.9" width="98.8" height="3.1" fill="url(#bgI)"/>
<text transform="translate(296,467.6) scale(0.1)" font-size="26" fill="#f03030" textLength="270" lengthAdjust="spacingAndGlyphs">'1' positively correlated</text>
<polygon points="295,479.8 295,469 295.4,470 296.19,470.8 299.94,472.2 304.88,473.2 309.82,473.9 316.74,475.2 323.65,476.4 330.57,477.3 337.48,478.4 345.88,479.8 354.28,480.1 366.14,480.4 374.04,480.9 381.94,481.8 387.87,482.7 390.84,483.4 392.32,484.4 393.31,485.8 393.8,487 393.8,479.8" fill="#c4c4c4" stroke="#b4b4b4" stroke-width="0.3"/>
<text transform="translate(346.4,478.3) scale(0.1)" font-size="25" fill="#444" textLength="196" lengthAdjust="spacingAndGlyphs">Zero cross at 10338</text>
<text transform="translate(346.8,489.75) scale(0.1)" font-size="26" fill="#4848f0" textLength="277" lengthAdjust="spacingAndGlyphs">'2' negatively correlated</text>
<text transform="translate(293.6,466.8) scale(0.1)" font-size="27" fill="#555" text-anchor="end" textLength="33" lengthAdjust="spacingAndGlyphs">1.0</text>
<text transform="translate(293.6,473.8) scale(0.1)" font-size="27" fill="#555" text-anchor="end" textLength="40" lengthAdjust="spacingAndGlyphs">0.5</text>
<text transform="translate(293.6,480.8) scale(0.1)" font-size="27" fill="#555" text-anchor="end" textLength="40" lengthAdjust="spacingAndGlyphs">0.0</text>
<text transform="translate(293.6,487.8) scale(0.1)" font-size="27" fill="#555" text-anchor="end" textLength="40" lengthAdjust="spacingAndGlyphs">-0.5</text>
<text transform="translate(287.5,478.4) rotate(-90) scale(0.1)" font-size="31" fill="#333" text-anchor="middle" textLength="435" lengthAdjust="spacingAndGlyphs" stroke="#333" stroke-width="0.6">Ranked list metric (Signal2Noise)</text>
<text transform="translate(295,495.5) scale(0.1)" font-size="27" fill="#333" text-anchor="middle" stroke="#333" stroke-width="0.6">0</text>
<text transform="translate(305.08,495.5) scale(0.1)" font-size="27" fill="#333" text-anchor="middle" textLength="60" lengthAdjust="spacingAndGlyphs" stroke="#333" stroke-width="0.6">2,000</text>
<text transform="translate(315.16,495.5) scale(0.1)" font-size="27" fill="#333" text-anchor="middle" textLength="60" lengthAdjust="spacingAndGlyphs" stroke="#333" stroke-width="0.6">4,000</text>
<text transform="translate(325.24,495.5) scale(0.1)" font-size="27" fill="#333" text-anchor="middle" textLength="60" lengthAdjust="spacingAndGlyphs" stroke="#333" stroke-width="0.6">6,000</text>
<text transform="translate(335.33,495.5) scale(0.1)" font-size="27" fill="#333" text-anchor="middle" textLength="60" lengthAdjust="spacingAndGlyphs" stroke="#333" stroke-width="0.6">8,000</text>
<text transform="translate(345.41,495.5) scale(0.1)" font-size="27" fill="#333" text-anchor="middle" textLength="73" lengthAdjust="spacingAndGlyphs" stroke="#333" stroke-width="0.6">10,000</text>
<text transform="translate(355.49,495.5) scale(0.1)" font-size="27" fill="#333" text-anchor="middle" textLength="73" lengthAdjust="spacingAndGlyphs" stroke="#333" stroke-width="0.6">12,000</text>
<text transform="translate(365.57,495.5) scale(0.1)" font-size="27" fill="#333" text-anchor="middle" textLength="73" lengthAdjust="spacingAndGlyphs" stroke="#333" stroke-width="0.6">14,000</text>
<text transform="translate(375.65,495.5) scale(0.1)" font-size="27" fill="#333" text-anchor="middle" textLength="73" lengthAdjust="spacingAndGlyphs" stroke="#333" stroke-width="0.6">16,000</text>
<text transform="translate(385.73,495.5) scale(0.1)" font-size="27" fill="#333" text-anchor="middle" textLength="73" lengthAdjust="spacingAndGlyphs" stroke="#333" stroke-width="0.6">18,000</text>
<text transform="translate(395.82,495.5) scale(0.1)" font-size="27" fill="#333" text-anchor="middle" textLength="73" lengthAdjust="spacingAndGlyphs" stroke="#333" stroke-width="0.6">20,000</text>
<text transform="translate(346.91,499.4) scale(0.1)" font-size="32" fill="#333" text-anchor="middle" textLength="330" lengthAdjust="spacingAndGlyphs" stroke="#333" stroke-width="0.5">Rank in Ordered Dataset</text>
<rect x="299.6" y="502.4" width="82.1" height="5.4" fill="#fff" stroke="#808080" stroke-width="0.45"/>
<line x1="300.5" y1="505.5" x2="304.4" y2="505.5" stroke="#14f014" stroke-width="1.1"/>
<text transform="translate(304.9,506.2) scale(0.1)" font-size="31" fill="#222" textLength="227" lengthAdjust="spacingAndGlyphs">Enrichment profile</text>
<line x1="329.8" y1="505.4" x2="332.4" y2="505.4" stroke="#555" stroke-width="0.35" stroke-dasharray="1,0.6"/>
<text transform="translate(334.6,506.2) scale(0.1)" font-size="31" fill="#222" textLength="48" lengthAdjust="spacingAndGlyphs">Hits</text>
<line x1="344.6" y1="505.4" x2="349.1" y2="505.4" stroke="#999" stroke-width="0.35" stroke-dasharray="0.8,1.2"/>
<text transform="translate(351.4,506.2) scale(0.1)" font-size="31" fill="#222" textLength="296" lengthAdjust="spacingAndGlyphs">Ranking metric scores</text>
<text transform="translate(420.3,384) scale(0.1)" font-size="132" fill="#000" stroke="#000" stroke-width="2.5">J</text>
<rect x="417.5" y="389.4" width="119.3" height="118.8" fill="#f3f3f3"/>
<text transform="translate(459.4,393.85) scale(0.1)" font-size="43.3" fill="#000" font-weight="bold" textLength="344" lengthAdjust="spacingAndGlyphs" stroke="#000" stroke-width="2">Enrichment plot:</text>
<text transform="translate(426.3,399.75) scale(0.1)" font-size="43.3" fill="#000" font-weight="bold" textLength="1021" lengthAdjust="spacingAndGlyphs" stroke="#000" stroke-width="2">GOBP_CYTOSOLIC_CALCIUM_ION_TRANSPORT</text>
<rect x="431.2" y="402.5" width="103.3" height="87.9" fill="#ffffff"/>
<path d="M441.28 402.5V444M441.28 463.2V490.4M451.36 402.5V444M451.36 463.2V490.4M461.44 402.5V444M461.44 463.2V490.4M471.53 402.5V444M471.53 463.2V490.4M481.61 402.5V444M481.61 463.2V490.4M491.69 402.5V444M491.69 463.2V490.4M501.77 402.5V444M501.77 463.2V490.4M511.85 402.5V444M511.85 463.2V490.4M521.93 402.5V444M521.93 463.2V490.4M532.02 402.5V444M532.02 463.2V490.4M431.2 438H534.5M431.2 430.35H534.5M431.2 422.7H534.5M431.2 415.05H534.5M431.2 407.4H534.5M431.2 463.1H534.5M431.2 470.6H534.5M431.2 485.6H534.5" stroke="#f1f1f1" stroke-width="0.5" fill="none"/>
<line x1="431.2" y1="438" x2="534.5" y2="438" stroke="#cfcfcf" stroke-width="0.5"/>
<text transform="translate(429.7,439.1) scale(0.1)" font-size="30" fill="#555" text-anchor="end" textLength="44" lengthAdjust="spacingAndGlyphs">0.0</text>
<text transform="translate(429.7,431.45) scale(0.1)" font-size="30" fill="#555" text-anchor="end" textLength="44" lengthAdjust="spacingAndGlyphs">0.1</text>
<text transform="translate(429.7,423.8) scale(0.1)" font-size="30" fill="#555" text-anchor="end" textLength="44" lengthAdjust="spacingAndGlyphs">0.2</text>
<text transform="translate(429.7,416.15) scale(0.1)" font-size="30" fill="#555" text-anchor="end" textLength="44" lengthAdjust="spacingAndGlyphs">0.3</text>
<text transform="translate(429.7,408.5) scale(0.1)" font-size="30" fill="#555" text-anchor="end" textLength="44" lengthAdjust="spacingAndGlyphs">0.4</text>
<text transform="translate(423.3,423.75) rotate(-90) scale(0.1)" font-size="32" fill="#333" text-anchor="middle" textLength="370" lengthAdjust="spacingAndGlyphs" stroke="#333" stroke-width="0.6">Enrichment score (ES)</text>
<polyline points="431.4,438.2 431.7,437.15 432,435.74 432.3,434.5 432.62,433.18 432.95,432.06 433.28,431.03 433.6,430 433.88,428.91 434.16,427.66 434.44,426.09 434.72,424.85 435,423.6 435.36,422.5 435.72,421.65 436.08,420.33 436.44,419.19 436.8,418.2 438.2,416.8 439.1,415.9 440,415 440.45,413.73 440.9,412.96 441.35,411.74 441.8,410.9 442.7,409.91 443.6,408.6 445,408.12 446.4,407.7 447.75,407.03 449.1,405.9 450.25,405.11 451.4,404.4 452.3,405.03 453.2,405.9 454.35,406.75 455.5,407.1 456.85,406.69 458.2,405.9 459.4,405.52 460.6,405.87 461.8,405.5 462.95,405.88 464.1,405.9 465.25,407.01 466.4,407.7 468.2,406.8 469.4,407.43 470.6,408.12 471.8,408.6 473.03,409.34 474.27,409.78 475.5,410.5 476.75,411.16 478,412.3 478.98,413.08 479.96,413.89 480.94,414.14 481.92,415.12 482.9,415.7 483.88,416.38 484.86,417.01 485.84,417.84 486.82,418.47 487.8,419.1 488.78,420.04 489.76,420.66 490.74,421.48 491.72,422.36 492.7,423.1 493.68,423.74 494.66,424.87 495.64,425.22 496.62,426.39 497.6,427 498.58,427.49 499.56,428.19 500.54,429.29 501.52,429.8 502.5,430.4 503.48,430.89 504.46,431.7 505.44,432.1 506.42,432.91 507.4,433.4 508.62,433.83 509.85,434.39 511.07,434.78 512.3,435.5 513.3,436.09 514.3,436.46 515.3,437.2 516.3,437.7 517.3,438.3 518.52,438.76 519.75,438.86 520.98,439.47 522.2,439.7 523.3,440.12 524.4,441.14 525.5,441.39 526.6,442.2 528,440.7 529.05,439.49 530.1,438.3" fill="none" stroke="#10f010" stroke-width="1.45" stroke-linejoin="round"/>
<text transform="translate(442.6,423.15) scale(0.1)" font-size="49" fill="#1a1a1a" textLength="234" lengthAdjust="spacingAndGlyphs" stroke="#1a1a1a" stroke-width="1.2">NES=1.779</text>
<text transform="translate(442.6,429.75) scale(0.1)" font-size="49" fill="#1a1a1a" textLength="363" lengthAdjust="spacingAndGlyphs" stroke="#1a1a1a" stroke-width="1.2">NOM p-val=0.001</text>
<text transform="translate(442.6,436.05) scale(0.1)" font-size="49" fill="#1a1a1a" textLength="347" lengthAdjust="spacingAndGlyphs" stroke="#1a1a1a" stroke-width="1.2">FDR q-val=0.242</text>
<rect x="431.2" y="445" width="98.8" height="13.8" fill="#fff"/>
<g filter="url(#bcblur)">
<rect x="431.2" y="445" width="2.6" height="13.8" fill="#585858"/>
<rect x="433.8" y="445" width="2.9" height="13.8" fill="#393939"/>
<rect x="436.7" y="445" width="1.9" height="13.8" fill="#767676"/>
<rect x="438.6" y="445" width="4.4" height="13.8" fill="#2c2c2c"/>
<rect x="443" y="445" width="1.9" height="13.8" fill="#767676"/>
<rect x="444.9" y="445" width="1.4" height="13.8" fill="#343434"/>
<rect x="446.3" y="445" width="1.5" height="13.8" fill="#b0b0b0"/>
<rect x="447.8" y="445" width="1.4" height="13.8" fill="#727272"/>
<rect x="449.2" y="445" width="2" height="13.8" fill="#343434"/>
<rect x="451.2" y="445" width="1.9" height="13.8" fill="#ffffff"/>
<rect x="453.1" y="445" width="2.9" height="13.8" fill="#a2a2a2"/>
<rect x="456" y="445" width="1.9" height="13.8" fill="#343434"/>
<rect x="457.9" y="445" width="1.9" height="13.8" fill="#727272"/>
<rect x="459.8" y="445" width="2.9" height="13.8" fill="#767676"/>
<rect x="462.7" y="445" width="3.4" height="13.8" fill="#c1c1c1"/>
<rect x="466.1" y="445" width="2.4" height="13.8" fill="#191919"/>
<rect x="468.5" y="445" width="1.9" height="13.8" fill="#ffffff"/>
<rect x="470.4" y="445" width="4.4" height="13.8" fill="#919191"/>
<rect x="474.8" y="445" width="4.3" height="13.8" fill="#a2a2a2"/>
<rect x="479.1" y="445" width="1.9" height="13.8" fill="#727272"/>
<rect x="481" y="445" width="1.9" height="13.8" fill="#ffffff"/>
<rect x="482.9" y="445" width="4.8" height="13.8" fill="#848484"/>
<rect x="487.7" y="445" width="2.9" height="13.8" fill="#585858"/>
<rect x="490.6" y="445" width="4.8" height="13.8" fill="#ffffff"/>
<rect x="495.4" y="445" width="1.9" height="13.8" fill="#343434"/>
<rect x="497.3" y="445" width="2.9" height="13.8" fill="#919191"/>
<rect x="500.2" y="445" width="1.5" height="13.8" fill="#343434"/>
<rect x="501.7" y="445" width="1.4" height="13.8" fill="#ffffff"/>
<rect x="503.1" y="445" width="1" height="13.8" fill="#343434"/>
<rect x="504.1" y="445" width="1.4" height="13.8" fill="#ffffff"/>
<rect x="505.5" y="445" width="1.5" height="13.8" fill="#727272"/>
<rect x="507" y="445" width="1.9" height="13.8" fill="#ffffff"/>
<rect x="508.9" y="445" width="1.4" height="13.8" fill="#727272"/>
<rect x="510.3" y="445" width="1.5" height="13.8" fill="#b8b8b8"/>
<rect x="511.8" y="445" width="1.9" height="13.8" fill="#343434"/>
<rect x="513.7" y="445" width="2.9" height="13.8" fill="#ffffff"/>
<rect x="516.6" y="445" width="3.9" height="13.8" fill="#767676"/>
<rect x="520.5" y="445" width="2.4" height="13.8" fill="#ffffff"/>
<rect x="522.9" y="445" width="3.3" height="13.8" fill="#b0b0b0"/>
<rect x="526.2" y="445" width="1" height="13.8" fill="#ffffff"/>
<rect x="527.2" y="445" width="2.9" height="13.8" fill="#4a4a4a"/>
</g>
<linearGradient id="bgJ" x1="0" x2="1" y1="0" y2="0"><stop offset="0" stop-color="#ff181e"/><stop offset="0.27" stop-color="#ff283c"/><stop offset="0.5" stop-color="#fa6e96"/><stop offset="0.51" stop-color="#f5a8d6"/><stop offset="0.64" stop-color="#ecb6e8"/><stop offset="0.65" stop-color="#cecefa"/><stop offset="0.78" stop-color="#bebafa"/><stop offset="0.79" stop-color="#6460f0"/><stop offset="0.94" stop-color="#422ee4"/><stop offset="0.94" stop-color="#1e00cd"/><stop offset="1" stop-color="#1c00c8"/></linearGradient>
<rect x="431.2" y="458.8" width="98.8" height="3.4" fill="url(#bgJ)"/>
<text transform="translate(432.2,464.8) scale(0.1)" font-size="26" fill="#f03030" textLength="270" lengthAdjust="spacingAndGlyphs">'1' positively correlated</text>
<polygon points="431.2,478.1 431.2,467.3 431.6,468.3 432.39,469.1 436.14,470.5 441.08,471.5 446.02,472.2 452.94,473.5 459.85,474.7 466.77,475.6 473.68,476.7 482.08,478.1 490.48,478.4 502.34,478.7 510.24,479.2 518.14,480.1 524.07,481 527.04,481.7 528.52,482.7 529.51,484.1 530,485.3 530,478.1" fill="#c4c4c4" stroke="#b4b4b4" stroke-width="0.3"/>
<text transform="translate(482.6,476.6) scale(0.1)" font-size="25" fill="#444" textLength="196" lengthAdjust="spacingAndGlyphs">Zero cross at 10338</text>
<text transform="translate(483,489.85) scale(0.1)" font-size="26" fill="#4848f0" textLength="277" lengthAdjust="spacingAndGlyphs">'2' negatively correlated</text>
<text transform="translate(429.8,464.1) scale(0.1)" font-size="27" fill="#555" text-anchor="end" textLength="33" lengthAdjust="spacingAndGlyphs">1.0</text>
<text transform="translate(429.8,471.6) scale(0.1)" font-size="27" fill="#555" text-anchor="end" textLength="40" lengthAdjust="spacingAndGlyphs">0.5</text>
<text transform="translate(429.8,479.1) scale(0.1)" font-size="27" fill="#555" text-anchor="end" textLength="40" lengthAdjust="spacingAndGlyphs">0.0</text>
<text transform="translate(429.8,486.6) scale(0.1)" font-size="27" fill="#555" text-anchor="end" textLength="40" lengthAdjust="spacingAndGlyphs">-0.5</text>
<text transform="translate(423.5,476.7) rotate(-90) scale(0.1)" font-size="31" fill="#333" text-anchor="middle" textLength="435" lengthAdjust="spacingAndGlyphs" stroke="#333" stroke-width="0.6">Ranked list metric (Signal2Noise)</text>
<text transform="translate(431.2,495.4) scale(0.1)" font-size="27" fill="#333" text-anchor="middle" stroke="#333" stroke-width="0.6">0</text>
<text transform="translate(441.28,495.4) scale(0.1)" font-size="27" fill="#333" text-anchor="middle" textLength="60" lengthAdjust="spacingAndGlyphs" stroke="#333" stroke-width="0.6">2,000</text>
<text transform="translate(451.36,495.4) scale(0.1)" font-size="27" fill="#333" text-anchor="middle" textLength="60" lengthAdjust="spacingAndGlyphs" stroke="#333" stroke-width="0.6">4,000</text>
<text transform="translate(461.44,495.4) scale(0.1)" font-size="27" fill="#333" text-anchor="middle" textLength="60" lengthAdjust="spacingAndGlyphs" stroke="#333" stroke-width="0.6">6,000</text>
<text transform="translate(471.53,495.4) scale(0.1)" font-size="27" fill="#333" text-anchor="middle" textLength="60" lengthAdjust="spacingAndGlyphs" stroke="#333" stroke-width="0.6">8,000</text>
<text transform="translate(481.61,495.4) scale(0.1)" font-size="27" fill="#333" text-anchor="middle" textLength="73" lengthAdjust="spacingAndGlyphs" stroke="#333" stroke-width="0.6">10,000</text>
<text transform="translate(491.69,495.4) scale(0.1)" font-size="27" fill="#333" text-anchor="middle" textLength="73" lengthAdjust="spacingAndGlyphs" stroke="#333" stroke-width="0.6">12,000</text>
<text transform="translate(501.77,495.4) scale(0.1)" font-size="27" fill="#333" text-anchor="middle" textLength="73" lengthAdjust="spacingAndGlyphs" stroke="#333" stroke-width="0.6">14,000</text>
<text transform="translate(511.85,495.4) scale(0.1)" font-size="27" fill="#333" text-anchor="middle" textLength="73" lengthAdjust="spacingAndGlyphs" stroke="#333" stroke-width="0.6">16,000</text>
<text transform="translate(521.93,495.4) scale(0.1)" font-size="27" fill="#333" text-anchor="middle" textLength="73" lengthAdjust="spacingAndGlyphs" stroke="#333" stroke-width="0.6">18,000</text>
<text transform="translate(532.02,495.4) scale(0.1)" font-size="27" fill="#333" text-anchor="middle" textLength="73" lengthAdjust="spacingAndGlyphs" stroke="#333" stroke-width="0.6">20,000</text>
<text transform="translate(483.11,499.3) scale(0.1)" font-size="32" fill="#333" text-anchor="middle" textLength="330" lengthAdjust="spacingAndGlyphs" stroke="#333" stroke-width="0.5">Rank in Ordered Dataset</text>
<rect x="436.3" y="502" width="82.3" height="6" fill="#fff" stroke="#808080" stroke-width="0.45"/>
<line x1="437.2" y1="505.4" x2="441.1" y2="505.4" stroke="#14f014" stroke-width="1.1"/>
<text transform="translate(441.6,506.1) scale(0.1)" font-size="31" fill="#222" textLength="227" lengthAdjust="spacingAndGlyphs">Enrichment profile</text>
<line x1="466.5" y1="505.3" x2="469.1" y2="505.3" stroke="#555" stroke-width="0.35" stroke-dasharray="1,0.6"/>
<text transform="translate(471.3,506.1) scale(0.1)" font-size="31" fill="#222" textLength="48" lengthAdjust="spacingAndGlyphs">Hits</text>
<line x1="481.3" y1="505.3" x2="485.8" y2="505.3" stroke="#999" stroke-width="0.35" stroke-dasharray="0.8,1.2"/>
<text transform="translate(488.1,506.1) scale(0.1)" font-size="31" fill="#222" textLength="296" lengthAdjust="spacingAndGlyphs">Ranking metric scores</text>
</svg></body></html>
